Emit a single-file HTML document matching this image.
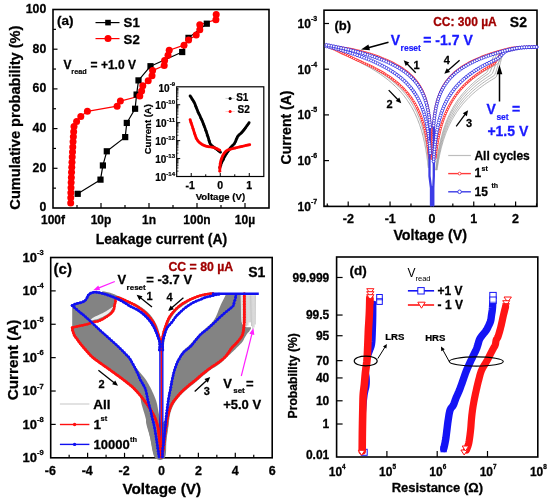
<!DOCTYPE html>
<html><head><meta charset="utf-8"><style>html,body{margin:0;padding:0;background:#fff;width:550px;height:501px;overflow:hidden}svg{display:block}</style></head>
<body><svg width="550" height="501" viewBox="0 0 550 501" style="font-family:'Liberation Sans',Arial,sans-serif"><line x1="53.00" y1="188.15" x2="56.00" y2="188.15" stroke="#000" stroke-width="1.2" />
<line x1="53.00" y1="168.30" x2="57.50" y2="168.30" stroke="#000" stroke-width="1.2" />
<line x1="53.00" y1="148.45" x2="56.00" y2="148.45" stroke="#000" stroke-width="1.2" />
<line x1="53.00" y1="128.60" x2="57.50" y2="128.60" stroke="#000" stroke-width="1.2" />
<line x1="53.00" y1="108.75" x2="56.00" y2="108.75" stroke="#000" stroke-width="1.2" />
<line x1="53.00" y1="88.90" x2="57.50" y2="88.90" stroke="#000" stroke-width="1.2" />
<line x1="53.00" y1="69.05" x2="56.00" y2="69.05" stroke="#000" stroke-width="1.2" />
<line x1="53.00" y1="49.20" x2="57.50" y2="49.20" stroke="#000" stroke-width="1.2" />
<line x1="53.00" y1="29.35" x2="56.00" y2="29.35" stroke="#000" stroke-width="1.2" />
<line x1="77.00" y1="208.00" x2="77.00" y2="205.00" stroke="#000" stroke-width="1.2" />
<line x1="101.00" y1="208.00" x2="101.00" y2="203.00" stroke="#000" stroke-width="1.2" />
<line x1="125.00" y1="208.00" x2="125.00" y2="205.00" stroke="#000" stroke-width="1.2" />
<line x1="149.00" y1="208.00" x2="149.00" y2="203.00" stroke="#000" stroke-width="1.2" />
<line x1="173.00" y1="208.00" x2="173.00" y2="205.00" stroke="#000" stroke-width="1.2" />
<line x1="197.00" y1="208.00" x2="197.00" y2="203.00" stroke="#000" stroke-width="1.2" />
<line x1="221.00" y1="208.00" x2="221.00" y2="205.00" stroke="#000" stroke-width="1.2" />
<line x1="245.00" y1="208.00" x2="245.00" y2="203.00" stroke="#000" stroke-width="1.2" />
<text x="46.30" y="211.40" font-size="12.3" text-anchor="end" font-weight="bold" fill="#000" stroke="#000" stroke-width="0.28" >0</text>
<text x="46.30" y="171.70" font-size="12.3" text-anchor="end" font-weight="bold" fill="#000" stroke="#000" stroke-width="0.28" >20</text>
<text x="46.30" y="132.00" font-size="12.3" text-anchor="end" font-weight="bold" fill="#000" stroke="#000" stroke-width="0.28" >40</text>
<text x="46.30" y="92.30" font-size="12.3" text-anchor="end" font-weight="bold" fill="#000" stroke="#000" stroke-width="0.28" >60</text>
<text x="46.30" y="52.60" font-size="12.3" text-anchor="end" font-weight="bold" fill="#000" stroke="#000" stroke-width="0.28" >80</text>
<text x="46.30" y="12.90" font-size="12.3" text-anchor="end" font-weight="bold" fill="#000" stroke="#000" stroke-width="0.28" >100</text>
<text x="53.00" y="223.80" font-size="12" text-anchor="middle" font-weight="bold" fill="#000" stroke="#000" stroke-width="0.28" >100f</text>
<text x="101.00" y="223.80" font-size="12" text-anchor="middle" font-weight="bold" fill="#000" stroke="#000" stroke-width="0.28" >10p</text>
<text x="149.00" y="223.80" font-size="12" text-anchor="middle" font-weight="bold" fill="#000" stroke="#000" stroke-width="0.28" >1n</text>
<text x="197.00" y="223.80" font-size="12" text-anchor="middle" font-weight="bold" fill="#000" stroke="#000" stroke-width="0.28" >100n</text>
<text x="245.00" y="223.80" font-size="12" text-anchor="middle" font-weight="bold" fill="#000" stroke="#000" stroke-width="0.28" >10µ</text>
<text x="161.50" y="243.50" font-size="14" text-anchor="middle" font-weight="bold" fill="#000" stroke="#000" stroke-width="0.28" >Leakage current (A)</text>
<text x="0.00" y="0.00" font-size="14.6" text-anchor="middle" font-weight="bold" fill="#000" stroke="#000" stroke-width="0.28" transform="translate(19.9,117.6) rotate(-90)">Cumulative probability (%)</text>
<text x="57.00" y="24.90" font-size="13.5" text-anchor="start" font-weight="bold" fill="#000" stroke="#000" stroke-width="0.28" >(a)</text>
<rect x="53.00" y="9.50" width="216.00" height="198.50" fill="none" stroke="#000" stroke-width="1.6"/>
<line x1="327.27" y1="206.40" x2="327.27" y2="203.40" stroke="#000" stroke-width="1.2" />
<line x1="348.20" y1="206.40" x2="348.20" y2="201.40" stroke="#000" stroke-width="1.2" />
<line x1="369.12" y1="206.40" x2="369.12" y2="203.40" stroke="#000" stroke-width="1.2" />
<line x1="390.05" y1="206.40" x2="390.05" y2="201.40" stroke="#000" stroke-width="1.2" />
<line x1="410.97" y1="206.40" x2="410.97" y2="203.40" stroke="#000" stroke-width="1.2" />
<line x1="431.90" y1="206.40" x2="431.90" y2="201.40" stroke="#000" stroke-width="1.2" />
<line x1="452.82" y1="206.40" x2="452.82" y2="203.40" stroke="#000" stroke-width="1.2" />
<line x1="473.75" y1="206.40" x2="473.75" y2="201.40" stroke="#000" stroke-width="1.2" />
<line x1="494.67" y1="206.40" x2="494.67" y2="203.40" stroke="#000" stroke-width="1.2" />
<line x1="515.60" y1="206.40" x2="515.60" y2="201.40" stroke="#000" stroke-width="1.2" />
<line x1="536.52" y1="206.40" x2="536.52" y2="203.40" stroke="#000" stroke-width="1.2" />
<line x1="324.00" y1="23.50" x2="329.00" y2="23.50" stroke="#000" stroke-width="1.2" />
<text x="317.20" y="27.80" font-size="12" text-anchor="end" font-weight="bold" stroke="#000" stroke-width="0.28">10<tspan font-size="7" dy="-6.8">-3</tspan></text>
<line x1="324.00" y1="69.20" x2="329.00" y2="69.20" stroke="#000" stroke-width="1.2" />
<text x="317.20" y="73.50" font-size="12" text-anchor="end" font-weight="bold" stroke="#000" stroke-width="0.28">10<tspan font-size="7" dy="-6.8">-4</tspan></text>
<line x1="324.00" y1="114.90" x2="329.00" y2="114.90" stroke="#000" stroke-width="1.2" />
<text x="317.20" y="119.20" font-size="12" text-anchor="end" font-weight="bold" stroke="#000" stroke-width="0.28">10<tspan font-size="7" dy="-6.8">-5</tspan></text>
<line x1="324.00" y1="160.60" x2="329.00" y2="160.60" stroke="#000" stroke-width="1.2" />
<text x="317.20" y="164.90" font-size="12" text-anchor="end" font-weight="bold" stroke="#000" stroke-width="0.28">10<tspan font-size="7" dy="-6.8">-6</tspan></text>
<line x1="324.00" y1="206.30" x2="329.00" y2="206.30" stroke="#000" stroke-width="1.2" />
<text x="317.20" y="210.60" font-size="12" text-anchor="end" font-weight="bold" stroke="#000" stroke-width="0.28">10<tspan font-size="7" dy="-6.8">-7</tspan></text>
<text x="348.40" y="222.70" font-size="12.5" text-anchor="middle" font-weight="bold" fill="#000" stroke="#000" stroke-width="0.28" >-2</text>
<text x="390.25" y="222.70" font-size="12.5" text-anchor="middle" font-weight="bold" fill="#000" stroke="#000" stroke-width="0.28" >-1</text>
<text x="431.90" y="222.70" font-size="12.5" text-anchor="middle" font-weight="bold" fill="#000" stroke="#000" stroke-width="0.28" >0</text>
<text x="473.75" y="222.70" font-size="12.5" text-anchor="middle" font-weight="bold" fill="#000" stroke="#000" stroke-width="0.28" >1</text>
<text x="515.60" y="222.70" font-size="12.5" text-anchor="middle" font-weight="bold" fill="#000" stroke="#000" stroke-width="0.28" >2</text>
<text x="430.20" y="239.80" font-size="14.3" text-anchor="middle" font-weight="bold" fill="#000" stroke="#000" stroke-width="0.28" >Voltage (V)</text>
<text x="0.00" y="0.00" font-size="14" text-anchor="middle" font-weight="bold" fill="#000" stroke="#000" stroke-width="0.28" transform="translate(291.4,127.5) rotate(-90)">Current (A)</text>
<text x="334.50" y="29.50" font-size="13" text-anchor="start" font-weight="bold" fill="#000" stroke="#000" stroke-width="0.28" >(b)</text>
<text x="509.80" y="27.10" font-size="14" text-anchor="start" font-weight="bold" fill="#000" stroke="#000" stroke-width="0.28" >S2</text>
<rect x="324.00" y="10.20" width="213.00" height="196.20" fill="none" stroke="#000" stroke-width="1.6"/>
<line x1="69.15" y1="457.80" x2="69.15" y2="454.80" stroke="#000" stroke-width="1.2" />
<line x1="87.61" y1="457.80" x2="87.61" y2="452.80" stroke="#000" stroke-width="1.2" />
<line x1="106.07" y1="457.80" x2="106.07" y2="454.80" stroke="#000" stroke-width="1.2" />
<line x1="124.53" y1="457.80" x2="124.53" y2="452.80" stroke="#000" stroke-width="1.2" />
<line x1="142.99" y1="457.80" x2="142.99" y2="454.80" stroke="#000" stroke-width="1.2" />
<line x1="161.45" y1="457.80" x2="161.45" y2="452.80" stroke="#000" stroke-width="1.2" />
<line x1="179.91" y1="457.80" x2="179.91" y2="454.80" stroke="#000" stroke-width="1.2" />
<line x1="198.37" y1="457.80" x2="198.37" y2="452.80" stroke="#000" stroke-width="1.2" />
<line x1="216.83" y1="457.80" x2="216.83" y2="454.80" stroke="#000" stroke-width="1.2" />
<line x1="235.29" y1="457.80" x2="235.29" y2="452.80" stroke="#000" stroke-width="1.2" />
<line x1="253.75" y1="457.80" x2="253.75" y2="454.80" stroke="#000" stroke-width="1.2" />
<text x="43.60" y="261.80" font-size="13" text-anchor="end" font-weight="bold" stroke="#000" stroke-width="0.28">10<tspan font-size="7.5" dy="-6.8">-3</tspan></text>
<line x1="50.70" y1="290.88" x2="55.70" y2="290.88" stroke="#000" stroke-width="1.2" />
<text x="43.60" y="295.18" font-size="13" text-anchor="end" font-weight="bold" stroke="#000" stroke-width="0.28">10<tspan font-size="7.5" dy="-6.8">-4</tspan></text>
<line x1="50.70" y1="324.26" x2="55.70" y2="324.26" stroke="#000" stroke-width="1.2" />
<text x="43.60" y="328.56" font-size="13" text-anchor="end" font-weight="bold" stroke="#000" stroke-width="0.28">10<tspan font-size="7.5" dy="-6.8">-5</tspan></text>
<line x1="50.70" y1="357.64" x2="55.70" y2="357.64" stroke="#000" stroke-width="1.2" />
<text x="43.60" y="361.94" font-size="13" text-anchor="end" font-weight="bold" stroke="#000" stroke-width="0.28">10<tspan font-size="7.5" dy="-6.8">-6</tspan></text>
<line x1="50.70" y1="391.02" x2="55.70" y2="391.02" stroke="#000" stroke-width="1.2" />
<text x="43.60" y="395.32" font-size="13" text-anchor="end" font-weight="bold" stroke="#000" stroke-width="0.28">10<tspan font-size="7.5" dy="-6.8">-7</tspan></text>
<line x1="50.70" y1="424.40" x2="55.70" y2="424.40" stroke="#000" stroke-width="1.2" />
<text x="43.60" y="428.70" font-size="13" text-anchor="end" font-weight="bold" stroke="#000" stroke-width="0.28">10<tspan font-size="7.5" dy="-6.8">-8</tspan></text>
<text x="43.60" y="462.08" font-size="13" text-anchor="end" font-weight="bold" stroke="#000" stroke-width="0.28">10<tspan font-size="7.5" dy="-6.8">-9</tspan></text>
<text x="50.29" y="474.60" font-size="12.5" text-anchor="middle" font-weight="bold" fill="#000" stroke="#000" stroke-width="0.28" >-6</text>
<text x="87.21" y="474.60" font-size="12.5" text-anchor="middle" font-weight="bold" fill="#000" stroke="#000" stroke-width="0.28" >-4</text>
<text x="124.13" y="474.60" font-size="12.5" text-anchor="middle" font-weight="bold" fill="#000" stroke="#000" stroke-width="0.28" >-2</text>
<text x="161.45" y="474.60" font-size="12.5" text-anchor="middle" font-weight="bold" fill="#000" stroke="#000" stroke-width="0.28" >0</text>
<text x="198.37" y="474.60" font-size="12.5" text-anchor="middle" font-weight="bold" fill="#000" stroke="#000" stroke-width="0.28" >2</text>
<text x="235.29" y="474.60" font-size="12.5" text-anchor="middle" font-weight="bold" fill="#000" stroke="#000" stroke-width="0.28" >4</text>
<text x="272.21" y="474.60" font-size="12.5" text-anchor="middle" font-weight="bold" fill="#000" stroke="#000" stroke-width="0.28" >6</text>
<text x="161.80" y="494.00" font-size="15.3" text-anchor="middle" font-weight="bold" fill="#000" stroke="#000" stroke-width="0.28" >Voltage (V)</text>
<text x="0.00" y="0.00" font-size="15.3" text-anchor="middle" font-weight="bold" fill="#000" stroke="#000" stroke-width="0.28" transform="translate(17.9,360) rotate(-90)">Current (A)</text>
<text x="53.60" y="274.30" font-size="15" text-anchor="start" font-weight="bold" fill="#000" stroke="#000" stroke-width="0.28" >(c)</text>
<text x="248.20" y="277.40" font-size="14" text-anchor="start" font-weight="bold" fill="#000" stroke="#000" stroke-width="0.28" >S1</text>
<rect x="50.70" y="257.50" width="221.50" height="200.30" fill="none" stroke="#000" stroke-width="1.6"/>
<line x1="336.60" y1="277.49" x2="342.60" y2="277.49" stroke="#000" stroke-width="1.2" />
<text x="329.30" y="281.69" font-size="12" text-anchor="end" font-weight="bold" fill="#000" stroke="#000" stroke-width="0.28" >99.999</text>
<line x1="336.60" y1="315.04" x2="342.60" y2="315.04" stroke="#000" stroke-width="1.2" />
<text x="329.30" y="319.24" font-size="12" text-anchor="end" font-weight="bold" fill="#000" stroke="#000" stroke-width="0.28" >99.5</text>
<line x1="336.60" y1="335.73" x2="342.60" y2="335.73" stroke="#000" stroke-width="1.2" />
<text x="329.30" y="339.93" font-size="12" text-anchor="end" font-weight="bold" fill="#000" stroke="#000" stroke-width="0.28" >95</text>
<line x1="336.60" y1="360.64" x2="342.60" y2="360.64" stroke="#000" stroke-width="1.2" />
<text x="329.30" y="364.84" font-size="12" text-anchor="end" font-weight="bold" fill="#000" stroke="#000" stroke-width="0.28" >70</text>
<line x1="336.60" y1="377.93" x2="342.60" y2="377.93" stroke="#000" stroke-width="1.2" />
<text x="329.30" y="382.13" font-size="12" text-anchor="end" font-weight="bold" fill="#000" stroke="#000" stroke-width="0.28" >40</text>
<line x1="336.60" y1="400.79" x2="342.60" y2="400.79" stroke="#000" stroke-width="1.2" />
<text x="329.30" y="404.99" font-size="12" text-anchor="end" font-weight="bold" fill="#000" stroke="#000" stroke-width="0.28" >10</text>
<line x1="336.60" y1="424.01" x2="342.60" y2="424.01" stroke="#000" stroke-width="1.2" />
<text x="329.30" y="428.21" font-size="12" text-anchor="end" font-weight="bold" fill="#000" stroke="#000" stroke-width="0.28" >1</text>
<text x="329.30" y="459.17" font-size="12" text-anchor="end" font-weight="bold" fill="#000" stroke="#000" stroke-width="0.28" >0.01</text>
<text x="337.20" y="475.6" font-size="12" text-anchor="middle" font-weight="bold" stroke="#000" stroke-width="0.28">10<tspan font-size="6.4" dy="-6.6">4</tspan></text>
<line x1="386.90" y1="457.00" x2="386.90" y2="451.00" stroke="#000" stroke-width="1.2" />
<text x="387.50" y="475.6" font-size="12" text-anchor="middle" font-weight="bold" stroke="#000" stroke-width="0.28">10<tspan font-size="6.4" dy="-6.6">5</tspan></text>
<line x1="437.20" y1="457.00" x2="437.20" y2="451.00" stroke="#000" stroke-width="1.2" />
<text x="437.80" y="475.6" font-size="12" text-anchor="middle" font-weight="bold" stroke="#000" stroke-width="0.28">10<tspan font-size="6.4" dy="-6.6">6</tspan></text>
<line x1="487.50" y1="457.00" x2="487.50" y2="451.00" stroke="#000" stroke-width="1.2" />
<text x="488.10" y="475.6" font-size="12" text-anchor="middle" font-weight="bold" stroke="#000" stroke-width="0.28">10<tspan font-size="6.4" dy="-6.6">7</tspan></text>
<text x="538.40" y="475.6" font-size="12" text-anchor="middle" font-weight="bold" stroke="#000" stroke-width="0.28">10<tspan font-size="6.4" dy="-6.6">8</tspan></text>
<text x="437.30" y="491.80" font-size="13" text-anchor="middle" font-weight="bold" fill="#000" stroke="#000" stroke-width="0.28" >Resistance (Ω)</text>
<text x="0.00" y="0.00" font-size="12.2" text-anchor="middle" font-weight="bold" fill="#000" stroke="#000" stroke-width="0.28" transform="translate(296.9,375.8) rotate(-90)">Probability (%)</text>
<text x="349.40" y="274.90" font-size="13.5" text-anchor="start" font-weight="bold" fill="#000" stroke="#000" stroke-width="0.28" >(d)</text>
<rect x="336.60" y="257.00" width="201.20" height="200.00" fill="none" stroke="#000" stroke-width="1.6"/>
<polyline points="70.70,202.91 70.76,197.82 70.86,192.73 71.00,187.64 71.15,182.55 71.34,177.46 71.53,172.37 71.75,167.28 71.99,162.19 72.23,157.10 72.50,152.01 72.77,146.92 73.06,141.83 73.36,136.74 73.68,131.65 74.00,126.56 76.60,121.47 80.80,116.38 87.40,111.29 117.10,106.21 120.40,101.12 139.80,96.03 141.60,90.94 142.80,85.85 148.20,80.76 152.00,75.67 152.60,70.58 164.20,65.49 164.60,60.40 168.00,55.31 169.20,50.22 184.00,45.13 188.60,40.04 196.20,34.95 199.80,29.86 199.80,24.77 215.90,19.68 216.20,14.59" fill="none" stroke="#ff0000" stroke-width="1.2" stroke-linejoin="round" stroke-linecap="round" />
<polyline points="77.70,193.82 100.50,179.64 102.90,165.46 106.80,151.29 125.20,137.11 126.80,122.93 135.10,108.75 136.60,94.57 138.50,80.39 150.50,66.21 182.20,52.04 188.50,37.86 206.80,23.68" fill="none" stroke="#000" stroke-width="1.2" stroke-linejoin="round" stroke-linecap="round" />
<rect x="74.60" y="190.72" width="6.2" height="6.2" fill="#000"/>
<rect x="97.40" y="176.54" width="6.2" height="6.2" fill="#000"/>
<rect x="99.80" y="162.36" width="6.2" height="6.2" fill="#000"/>
<rect x="103.70" y="148.19" width="6.2" height="6.2" fill="#000"/>
<rect x="122.10" y="134.01" width="6.2" height="6.2" fill="#000"/>
<rect x="123.70" y="119.83" width="6.2" height="6.2" fill="#000"/>
<rect x="132.00" y="105.65" width="6.2" height="6.2" fill="#000"/>
<rect x="133.50" y="91.47" width="6.2" height="6.2" fill="#000"/>
<rect x="135.40" y="77.29" width="6.2" height="6.2" fill="#000"/>
<rect x="147.40" y="63.11" width="6.2" height="6.2" fill="#000"/>
<rect x="179.10" y="48.94" width="6.2" height="6.2" fill="#000"/>
<rect x="185.40" y="34.76" width="6.2" height="6.2" fill="#000"/>
<rect x="203.70" y="20.58" width="6.2" height="6.2" fill="#000"/>
<circle cx="70.70" cy="202.91" r="3.5" fill="#ff0000"/>
<circle cx="70.76" cy="197.82" r="3.5" fill="#ff0000"/>
<circle cx="70.86" cy="192.73" r="3.5" fill="#ff0000"/>
<circle cx="71.00" cy="187.64" r="3.5" fill="#ff0000"/>
<circle cx="71.15" cy="182.55" r="3.5" fill="#ff0000"/>
<circle cx="71.34" cy="177.46" r="3.5" fill="#ff0000"/>
<circle cx="71.53" cy="172.37" r="3.5" fill="#ff0000"/>
<circle cx="71.75" cy="167.28" r="3.5" fill="#ff0000"/>
<circle cx="71.99" cy="162.19" r="3.5" fill="#ff0000"/>
<circle cx="72.23" cy="157.10" r="3.5" fill="#ff0000"/>
<circle cx="72.50" cy="152.01" r="3.5" fill="#ff0000"/>
<circle cx="72.77" cy="146.92" r="3.5" fill="#ff0000"/>
<circle cx="73.06" cy="141.83" r="3.5" fill="#ff0000"/>
<circle cx="73.36" cy="136.74" r="3.5" fill="#ff0000"/>
<circle cx="73.68" cy="131.65" r="3.5" fill="#ff0000"/>
<circle cx="74.00" cy="126.56" r="3.5" fill="#ff0000"/>
<circle cx="76.60" cy="121.47" r="3.5" fill="#ff0000"/>
<circle cx="80.80" cy="116.38" r="3.5" fill="#ff0000"/>
<circle cx="87.40" cy="111.29" r="3.5" fill="#ff0000"/>
<circle cx="117.10" cy="106.21" r="3.5" fill="#ff0000"/>
<circle cx="120.40" cy="101.12" r="3.5" fill="#ff0000"/>
<circle cx="139.80" cy="96.03" r="3.5" fill="#ff0000"/>
<circle cx="141.60" cy="90.94" r="3.5" fill="#ff0000"/>
<circle cx="142.80" cy="85.85" r="3.5" fill="#ff0000"/>
<circle cx="148.20" cy="80.76" r="3.5" fill="#ff0000"/>
<circle cx="152.00" cy="75.67" r="3.5" fill="#ff0000"/>
<circle cx="152.60" cy="70.58" r="3.5" fill="#ff0000"/>
<circle cx="164.20" cy="65.49" r="3.5" fill="#ff0000"/>
<circle cx="164.60" cy="60.40" r="3.5" fill="#ff0000"/>
<circle cx="168.00" cy="55.31" r="3.5" fill="#ff0000"/>
<circle cx="169.20" cy="50.22" r="3.5" fill="#ff0000"/>
<circle cx="184.00" cy="45.13" r="3.5" fill="#ff0000"/>
<circle cx="188.60" cy="40.04" r="3.5" fill="#ff0000"/>
<circle cx="196.20" cy="34.95" r="3.5" fill="#ff0000"/>
<circle cx="199.80" cy="29.86" r="3.5" fill="#ff0000"/>
<circle cx="199.80" cy="24.77" r="3.5" fill="#ff0000"/>
<circle cx="215.90" cy="19.68" r="3.5" fill="#ff0000"/>
<circle cx="216.20" cy="14.59" r="3.5" fill="#ff0000"/>
<line x1="95.50" y1="22.60" x2="119.50" y2="22.60" stroke="#000" stroke-width="1.2" />
<rect x="105.2" y="19.8" width="5.6" height="5.6" fill="#000"/>
<text x="123.60" y="27.40" font-size="13.2" text-anchor="start" font-weight="bold" fill="#000" stroke="#000" stroke-width="0.28" >S1</text>
<line x1="95.50" y1="38.60" x2="119.50" y2="38.60" stroke="#ff0000" stroke-width="1.2" />
<circle cx="108" cy="38.6" r="3.5" fill="#ff0000"/>
<text x="123.60" y="43.60" font-size="13.2" text-anchor="start" font-weight="bold" fill="#000" stroke="#000" stroke-width="0.28" >S2</text>
<text x="63.60" y="69.00" font-size="12" text-anchor="start" font-weight="bold" fill="#000" stroke="#000" stroke-width="0.28" >V</text>
<text x="71.30" y="74.40" font-size="7.3" text-anchor="start" font-weight="bold" fill="#000" stroke="#000" stroke-width="0.17" >read</text>
<text x="90.60" y="69.00" font-size="12" text-anchor="start" font-weight="bold" fill="#000" stroke="#000" stroke-width="0.28" >= +1.0 V</text>
<rect x="176.7" y="86.8" width="87.10" height="89.70" fill="#fff" stroke="none"/>
<line x1="191.22" y1="176.50" x2="191.22" y2="173.00" stroke="#000" stroke-width="1.0" />
<line x1="205.74" y1="176.50" x2="205.74" y2="174.30" stroke="#000" stroke-width="1.0" />
<line x1="220.25" y1="176.50" x2="220.25" y2="173.00" stroke="#000" stroke-width="1.0" />
<line x1="234.76" y1="176.50" x2="234.76" y2="174.30" stroke="#000" stroke-width="1.0" />
<line x1="249.28" y1="176.50" x2="249.28" y2="173.00" stroke="#000" stroke-width="1.0" />
<line x1="176.70" y1="99.34" x2="178.50" y2="99.34" stroke="#000" stroke-width="0.8" />
<line x1="176.70" y1="96.18" x2="178.50" y2="96.18" stroke="#000" stroke-width="0.8" />
<line x1="176.70" y1="93.94" x2="178.50" y2="93.94" stroke="#000" stroke-width="0.8" />
<line x1="176.70" y1="92.20" x2="178.50" y2="92.20" stroke="#000" stroke-width="0.8" />
<line x1="176.70" y1="90.78" x2="178.50" y2="90.78" stroke="#000" stroke-width="0.8" />
<line x1="176.70" y1="89.58" x2="178.50" y2="89.58" stroke="#000" stroke-width="0.8" />
<line x1="176.70" y1="88.54" x2="178.50" y2="88.54" stroke="#000" stroke-width="0.8" />
<text x="175.00" y="91.50" font-size="10" text-anchor="end" font-weight="bold" stroke="#000" stroke-width="0.22">10<tspan font-size="6" dy="-5.4">-9</tspan></text>
<line x1="176.70" y1="104.74" x2="180.20" y2="104.74" stroke="#000" stroke-width="1.0" />
<line x1="176.70" y1="117.28" x2="178.50" y2="117.28" stroke="#000" stroke-width="0.8" />
<line x1="176.70" y1="114.12" x2="178.50" y2="114.12" stroke="#000" stroke-width="0.8" />
<line x1="176.70" y1="111.88" x2="178.50" y2="111.88" stroke="#000" stroke-width="0.8" />
<line x1="176.70" y1="110.14" x2="178.50" y2="110.14" stroke="#000" stroke-width="0.8" />
<line x1="176.70" y1="108.72" x2="178.50" y2="108.72" stroke="#000" stroke-width="0.8" />
<line x1="176.70" y1="107.52" x2="178.50" y2="107.52" stroke="#000" stroke-width="0.8" />
<line x1="176.70" y1="106.48" x2="178.50" y2="106.48" stroke="#000" stroke-width="0.8" />
<line x1="176.70" y1="105.56" x2="178.50" y2="105.56" stroke="#000" stroke-width="0.8" />
<text x="175.00" y="109.44" font-size="10" text-anchor="end" font-weight="bold" stroke="#000" stroke-width="0.22">10<tspan font-size="6" dy="-5.4">-10</tspan></text>
<line x1="176.70" y1="122.68" x2="180.20" y2="122.68" stroke="#000" stroke-width="1.0" />
<line x1="176.70" y1="135.22" x2="178.50" y2="135.22" stroke="#000" stroke-width="0.8" />
<line x1="176.70" y1="132.06" x2="178.50" y2="132.06" stroke="#000" stroke-width="0.8" />
<line x1="176.70" y1="129.82" x2="178.50" y2="129.82" stroke="#000" stroke-width="0.8" />
<line x1="176.70" y1="128.08" x2="178.50" y2="128.08" stroke="#000" stroke-width="0.8" />
<line x1="176.70" y1="126.66" x2="178.50" y2="126.66" stroke="#000" stroke-width="0.8" />
<line x1="176.70" y1="125.46" x2="178.50" y2="125.46" stroke="#000" stroke-width="0.8" />
<line x1="176.70" y1="124.42" x2="178.50" y2="124.42" stroke="#000" stroke-width="0.8" />
<line x1="176.70" y1="123.50" x2="178.50" y2="123.50" stroke="#000" stroke-width="0.8" />
<text x="175.00" y="127.38" font-size="10" text-anchor="end" font-weight="bold" stroke="#000" stroke-width="0.22">10<tspan font-size="6" dy="-5.4">-11</tspan></text>
<line x1="176.70" y1="140.62" x2="180.20" y2="140.62" stroke="#000" stroke-width="1.0" />
<line x1="176.70" y1="153.16" x2="178.50" y2="153.16" stroke="#000" stroke-width="0.8" />
<line x1="176.70" y1="150.00" x2="178.50" y2="150.00" stroke="#000" stroke-width="0.8" />
<line x1="176.70" y1="147.76" x2="178.50" y2="147.76" stroke="#000" stroke-width="0.8" />
<line x1="176.70" y1="146.02" x2="178.50" y2="146.02" stroke="#000" stroke-width="0.8" />
<line x1="176.70" y1="144.60" x2="178.50" y2="144.60" stroke="#000" stroke-width="0.8" />
<line x1="176.70" y1="143.40" x2="178.50" y2="143.40" stroke="#000" stroke-width="0.8" />
<line x1="176.70" y1="142.36" x2="178.50" y2="142.36" stroke="#000" stroke-width="0.8" />
<line x1="176.70" y1="141.44" x2="178.50" y2="141.44" stroke="#000" stroke-width="0.8" />
<text x="175.00" y="145.32" font-size="10" text-anchor="end" font-weight="bold" stroke="#000" stroke-width="0.22">10<tspan font-size="6" dy="-5.4">-12</tspan></text>
<line x1="176.70" y1="158.56" x2="180.20" y2="158.56" stroke="#000" stroke-width="1.0" />
<line x1="176.70" y1="171.10" x2="178.50" y2="171.10" stroke="#000" stroke-width="0.8" />
<line x1="176.70" y1="167.94" x2="178.50" y2="167.94" stroke="#000" stroke-width="0.8" />
<line x1="176.70" y1="165.70" x2="178.50" y2="165.70" stroke="#000" stroke-width="0.8" />
<line x1="176.70" y1="163.96" x2="178.50" y2="163.96" stroke="#000" stroke-width="0.8" />
<line x1="176.70" y1="162.54" x2="178.50" y2="162.54" stroke="#000" stroke-width="0.8" />
<line x1="176.70" y1="161.34" x2="178.50" y2="161.34" stroke="#000" stroke-width="0.8" />
<line x1="176.70" y1="160.30" x2="178.50" y2="160.30" stroke="#000" stroke-width="0.8" />
<line x1="176.70" y1="159.38" x2="178.50" y2="159.38" stroke="#000" stroke-width="0.8" />
<text x="175.00" y="163.26" font-size="10" text-anchor="end" font-weight="bold" stroke="#000" stroke-width="0.22">10<tspan font-size="6" dy="-5.4">-13</tspan></text>
<text x="175.00" y="181.20" font-size="10" text-anchor="end" font-weight="bold" stroke="#000" stroke-width="0.22">10<tspan font-size="6" dy="-5.4">-14</tspan></text>
<text x="190.22" y="188.60" font-size="10.5" text-anchor="middle" font-weight="bold" fill="#000" stroke="#000" stroke-width="0.25" >-1</text>
<text x="220.25" y="188.60" font-size="10.5" text-anchor="middle" font-weight="bold" fill="#000" stroke="#000" stroke-width="0.25" >0</text>
<text x="249.28" y="188.60" font-size="10.5" text-anchor="middle" font-weight="bold" fill="#000" stroke="#000" stroke-width="0.25" >1</text>
<text x="220.40" y="199.70" font-size="9.6" text-anchor="middle" font-weight="bold" fill="#000" stroke="#000" stroke-width="0.22" >Voltage (V)</text>
<text x="0.00" y="0.00" font-size="9.5" text-anchor="middle" font-weight="bold" fill="#000" stroke="#000" stroke-width="0.22" transform="translate(150.9,129.2) rotate(-90)">Current (A)</text>
<rect x="176.7" y="86.8" width="87.10" height="89.70" fill="none" stroke="#000" stroke-width="1.2"/>
<circle cx="190.10" cy="95.90" r="1.45" fill="#000"/>
<circle cx="190.80" cy="96.97" r="1.45" fill="#000"/>
<circle cx="191.52" cy="98.06" r="1.45" fill="#000"/>
<circle cx="192.24" cy="99.16" r="1.45" fill="#000"/>
<circle cx="192.93" cy="100.27" r="1.45" fill="#000"/>
<circle cx="193.60" cy="101.39" r="1.45" fill="#000"/>
<circle cx="194.22" cy="102.54" r="1.45" fill="#000"/>
<circle cx="194.78" cy="103.73" r="1.45" fill="#000"/>
<circle cx="195.28" cy="104.94" r="1.45" fill="#000"/>
<circle cx="195.76" cy="106.16" r="1.45" fill="#000"/>
<circle cx="196.21" cy="107.38" r="1.45" fill="#000"/>
<circle cx="196.67" cy="108.61" r="1.45" fill="#000"/>
<circle cx="197.14" cy="109.83" r="1.45" fill="#000"/>
<circle cx="197.63" cy="111.04" r="1.45" fill="#000"/>
<circle cx="198.16" cy="112.24" r="1.45" fill="#000"/>
<circle cx="198.71" cy="113.43" r="1.45" fill="#000"/>
<circle cx="199.27" cy="114.62" r="1.45" fill="#000"/>
<circle cx="199.83" cy="115.80" r="1.45" fill="#000"/>
<circle cx="200.39" cy="116.98" r="1.45" fill="#000"/>
<circle cx="200.95" cy="118.16" r="1.45" fill="#000"/>
<circle cx="201.50" cy="119.35" r="1.45" fill="#000"/>
<circle cx="202.02" cy="120.55" r="1.45" fill="#000"/>
<circle cx="202.53" cy="121.76" r="1.45" fill="#000"/>
<circle cx="203.03" cy="122.97" r="1.45" fill="#000"/>
<circle cx="203.51" cy="124.19" r="1.45" fill="#000"/>
<circle cx="203.98" cy="125.41" r="1.45" fill="#000"/>
<circle cx="204.44" cy="126.64" r="1.45" fill="#000"/>
<circle cx="204.89" cy="127.86" r="1.45" fill="#000"/>
<circle cx="205.33" cy="129.10" r="1.45" fill="#000"/>
<circle cx="205.77" cy="130.33" r="1.45" fill="#000"/>
<circle cx="206.19" cy="131.57" r="1.45" fill="#000"/>
<circle cx="206.60" cy="132.81" r="1.45" fill="#000"/>
<circle cx="207.01" cy="134.06" r="1.45" fill="#000"/>
<circle cx="207.42" cy="135.30" r="1.45" fill="#000"/>
<circle cx="207.83" cy="136.54" r="1.45" fill="#000"/>
<circle cx="208.23" cy="137.79" r="1.45" fill="#000"/>
<circle cx="208.64" cy="139.03" r="1.45" fill="#000"/>
<circle cx="209.03" cy="140.28" r="1.45" fill="#000"/>
<circle cx="209.33" cy="141.56" r="1.45" fill="#000"/>
<circle cx="209.66" cy="142.82" r="1.45" fill="#000"/>
<circle cx="210.25" cy="143.99" r="1.45" fill="#000"/>
<circle cx="211.09" cy="144.99" r="1.45" fill="#000"/>
<circle cx="212.06" cy="145.87" r="1.45" fill="#000"/>
<circle cx="213.08" cy="146.68" r="1.45" fill="#000"/>
<circle cx="214.13" cy="147.46" r="1.45" fill="#000"/>
<circle cx="215.18" cy="148.25" r="1.45" fill="#000"/>
<circle cx="216.21" cy="149.06" r="1.45" fill="#000"/>
<circle cx="217.25" cy="149.85" r="1.45" fill="#000"/>
<circle cx="218.30" cy="150.64" r="1.45" fill="#000"/>
<circle cx="219.35" cy="151.42" r="1.45" fill="#000"/>
<circle cx="220.40" cy="152.20" r="1.45" fill="#000"/>
<circle cx="219.80" cy="167.70" r="1.45" fill="#000"/>
<circle cx="220.23" cy="166.47" r="1.45" fill="#000"/>
<circle cx="220.67" cy="165.22" r="1.45" fill="#000"/>
<circle cx="221.14" cy="163.98" r="1.45" fill="#000"/>
<circle cx="221.66" cy="162.76" r="1.45" fill="#000"/>
<circle cx="222.20" cy="161.58" r="1.45" fill="#000"/>
<circle cx="222.77" cy="160.37" r="1.45" fill="#000"/>
<circle cx="223.35" cy="159.18" r="1.45" fill="#000"/>
<circle cx="223.95" cy="157.99" r="1.45" fill="#000"/>
<circle cx="224.56" cy="156.84" r="1.45" fill="#000"/>
<circle cx="225.21" cy="155.69" r="1.45" fill="#000"/>
<circle cx="225.89" cy="154.55" r="1.45" fill="#000"/>
<circle cx="226.59" cy="153.42" r="1.45" fill="#000"/>
<circle cx="227.30" cy="152.33" r="1.45" fill="#000"/>
<circle cx="228.04" cy="151.23" r="1.45" fill="#000"/>
<circle cx="228.80" cy="150.14" r="1.45" fill="#000"/>
<circle cx="229.58" cy="149.07" r="1.45" fill="#000"/>
<circle cx="230.37" cy="148.03" r="1.45" fill="#000"/>
<circle cx="231.24" cy="147.03" r="1.45" fill="#000"/>
<circle cx="232.16" cy="146.07" r="1.45" fill="#000"/>
<circle cx="233.08" cy="145.12" r="1.45" fill="#000"/>
<circle cx="233.94" cy="144.14" r="1.45" fill="#000"/>
<circle cx="234.72" cy="143.07" r="1.45" fill="#000"/>
<circle cx="235.35" cy="141.90" r="1.45" fill="#000"/>
<circle cx="235.87" cy="140.68" r="1.45" fill="#000"/>
<circle cx="236.33" cy="139.46" r="1.45" fill="#000"/>
<circle cx="236.81" cy="138.22" r="1.45" fill="#000"/>
<circle cx="237.38" cy="137.03" r="1.45" fill="#000"/>
<circle cx="238.13" cy="135.93" r="1.45" fill="#000"/>
<circle cx="239.02" cy="134.99" r="1.45" fill="#000"/>
<circle cx="240.03" cy="134.12" r="1.45" fill="#000"/>
<circle cx="241.04" cy="133.26" r="1.45" fill="#000"/>
<circle cx="241.97" cy="132.32" r="1.45" fill="#000"/>
<circle cx="242.81" cy="131.32" r="1.45" fill="#000"/>
<circle cx="243.63" cy="130.28" r="1.45" fill="#000"/>
<circle cx="244.44" cy="129.23" r="1.45" fill="#000"/>
<circle cx="245.23" cy="128.16" r="1.45" fill="#000"/>
<circle cx="246.01" cy="127.12" r="1.45" fill="#000"/>
<circle cx="246.80" cy="126.05" r="1.45" fill="#000"/>
<circle cx="247.57" cy="124.97" r="1.45" fill="#000"/>
<circle cx="248.34" cy="123.89" r="1.45" fill="#000"/>
<circle cx="249.10" cy="122.80" r="1.45" fill="#000"/>
<circle cx="190.10" cy="119.70" r="1.45" fill="#ff0000"/>
<circle cx="190.50" cy="120.93" r="1.45" fill="#ff0000"/>
<circle cx="190.91" cy="122.17" r="1.45" fill="#ff0000"/>
<circle cx="191.31" cy="123.40" r="1.45" fill="#ff0000"/>
<circle cx="191.72" cy="124.65" r="1.45" fill="#ff0000"/>
<circle cx="192.13" cy="125.87" r="1.45" fill="#ff0000"/>
<circle cx="192.54" cy="127.12" r="1.45" fill="#ff0000"/>
<circle cx="192.94" cy="128.35" r="1.45" fill="#ff0000"/>
<circle cx="193.33" cy="129.60" r="1.45" fill="#ff0000"/>
<circle cx="193.71" cy="130.83" r="1.45" fill="#ff0000"/>
<circle cx="194.10" cy="132.09" r="1.45" fill="#ff0000"/>
<circle cx="194.48" cy="133.32" r="1.45" fill="#ff0000"/>
<circle cx="194.89" cy="134.57" r="1.45" fill="#ff0000"/>
<circle cx="195.32" cy="135.78" r="1.45" fill="#ff0000"/>
<circle cx="195.79" cy="137.01" r="1.45" fill="#ff0000"/>
<circle cx="196.32" cy="138.19" r="1.45" fill="#ff0000"/>
<circle cx="196.91" cy="139.36" r="1.45" fill="#ff0000"/>
<circle cx="197.57" cy="140.46" r="1.45" fill="#ff0000"/>
<circle cx="198.39" cy="141.49" r="1.45" fill="#ff0000"/>
<circle cx="199.32" cy="142.42" r="1.45" fill="#ff0000"/>
<circle cx="200.30" cy="143.26" r="1.45" fill="#ff0000"/>
<circle cx="201.36" cy="144.03" r="1.45" fill="#ff0000"/>
<circle cx="202.45" cy="144.71" r="1.45" fill="#ff0000"/>
<circle cx="203.62" cy="145.31" r="1.45" fill="#ff0000"/>
<circle cx="204.81" cy="145.82" r="1.45" fill="#ff0000"/>
<circle cx="206.05" cy="146.23" r="1.45" fill="#ff0000"/>
<circle cx="207.31" cy="146.51" r="1.45" fill="#ff0000"/>
<circle cx="208.61" cy="146.72" r="1.45" fill="#ff0000"/>
<circle cx="209.89" cy="146.90" r="1.45" fill="#ff0000"/>
<circle cx="211.19" cy="147.08" r="1.45" fill="#ff0000"/>
<circle cx="212.46" cy="147.29" r="1.45" fill="#ff0000"/>
<circle cx="213.74" cy="147.58" r="1.45" fill="#ff0000"/>
<circle cx="214.96" cy="147.99" r="1.45" fill="#ff0000"/>
<circle cx="216.18" cy="148.49" r="1.45" fill="#ff0000"/>
<circle cx="217.35" cy="149.03" r="1.45" fill="#ff0000"/>
<circle cx="218.52" cy="149.62" r="1.45" fill="#ff0000"/>
<circle cx="219.70" cy="150.20" r="1.45" fill="#ff0000"/>
<circle cx="219.80" cy="171.20" r="1.45" fill="#ff0000"/>
<circle cx="219.86" cy="169.88" r="1.45" fill="#ff0000"/>
<circle cx="219.91" cy="168.57" r="1.45" fill="#ff0000"/>
<circle cx="219.96" cy="167.25" r="1.45" fill="#ff0000"/>
<circle cx="220.04" cy="165.94" r="1.45" fill="#ff0000"/>
<circle cx="220.16" cy="164.63" r="1.45" fill="#ff0000"/>
<circle cx="220.33" cy="163.32" r="1.45" fill="#ff0000"/>
<circle cx="220.58" cy="162.03" r="1.45" fill="#ff0000"/>
<circle cx="220.90" cy="160.75" r="1.45" fill="#ff0000"/>
<circle cx="221.29" cy="159.47" r="1.45" fill="#ff0000"/>
<circle cx="221.72" cy="158.23" r="1.45" fill="#ff0000"/>
<circle cx="222.20" cy="157.00" r="1.45" fill="#ff0000"/>
<circle cx="222.75" cy="155.81" r="1.45" fill="#ff0000"/>
<circle cx="223.37" cy="154.64" r="1.45" fill="#ff0000"/>
<circle cx="224.06" cy="153.53" r="1.45" fill="#ff0000"/>
<circle cx="224.84" cy="152.47" r="1.45" fill="#ff0000"/>
<circle cx="225.73" cy="151.49" r="1.45" fill="#ff0000"/>
<circle cx="226.74" cy="150.65" r="1.45" fill="#ff0000"/>
<circle cx="227.92" cy="150.03" r="1.45" fill="#ff0000"/>
<circle cx="229.17" cy="149.63" r="1.45" fill="#ff0000"/>
<circle cx="230.45" cy="149.29" r="1.45" fill="#ff0000"/>
<circle cx="231.71" cy="148.92" r="1.45" fill="#ff0000"/>
<circle cx="232.98" cy="148.58" r="1.45" fill="#ff0000"/>
<circle cx="234.26" cy="148.26" r="1.45" fill="#ff0000"/>
<circle cx="235.54" cy="147.95" r="1.45" fill="#ff0000"/>
<circle cx="236.82" cy="147.65" r="1.45" fill="#ff0000"/>
<circle cx="238.10" cy="147.35" r="1.45" fill="#ff0000"/>
<circle cx="239.41" cy="147.03" r="1.45" fill="#ff0000"/>
<circle cx="240.69" cy="146.73" r="1.45" fill="#ff0000"/>
<circle cx="241.97" cy="146.43" r="1.45" fill="#ff0000"/>
<circle cx="243.25" cy="146.14" r="1.45" fill="#ff0000"/>
<circle cx="244.54" cy="145.85" r="1.45" fill="#ff0000"/>
<circle cx="245.82" cy="145.56" r="1.45" fill="#ff0000"/>
<circle cx="247.11" cy="145.27" r="1.45" fill="#ff0000"/>
<circle cx="248.39" cy="144.99" r="1.45" fill="#ff0000"/>
<circle cx="249.70" cy="144.70" r="1.45" fill="#ff0000"/>
<line x1="225.50" y1="98.40" x2="234.80" y2="98.40" stroke="#aaa" stroke-width="0.6" />
<circle cx="230.1" cy="98.4" r="1.5" fill="#000"/>
<text x="236.20" y="100.60" font-size="10" text-anchor="start" font-weight="bold" fill="#000" stroke="#000" stroke-width="0.23" >S1</text>
<line x1="225.50" y1="111.50" x2="234.80" y2="111.50" stroke="#faa" stroke-width="0.6" />
<circle cx="230.1" cy="111.5" r="1.5" fill="#ff0000"/>
<text x="237.60" y="113.30" font-size="10" text-anchor="start" font-weight="bold" fill="#000" stroke="#000" stroke-width="0.23" >S2</text>
<polyline points="435.78,169.74 435.92,168.51 436.05,167.29 436.19,166.06 436.34,164.83 436.49,163.61 436.65,162.38 436.81,161.15 436.97,159.93 437.15,158.70 437.32,157.47 437.51,156.24 437.70,155.02 437.90,153.79 438.10,152.56 438.31,151.34 438.53,150.11 438.75,148.88 438.99,147.66 439.23,146.43 439.48,145.20 439.73,143.98 440.00,142.75 440.28,141.52 440.56,140.30 440.85,139.07 441.16,137.84 441.47,136.62 441.80,135.39 442.13,134.16 442.48,132.93 442.84,131.71 443.21,130.48 443.60,129.25 444.00,128.03 444.41,126.80 444.83,125.57 445.27,124.35 445.73,123.12 446.20,121.89 446.68,120.67 447.18,119.44 447.70,118.21 448.24,116.99 448.79,115.76 449.37,114.53 449.96,113.31 450.58,112.08 451.21,110.85 451.87,109.62 452.55,108.40 453.25,107.17 453.97,105.94 454.72,104.72 455.50,103.49 456.30,102.26 457.13,101.04 457.99,99.81 458.87,98.58 459.79,97.36 460.74,96.13 461.72,94.90 462.73,93.68 463.78,92.45 464.86,91.22 465.98,90.00 467.14,88.77 468.33,87.54 469.57,86.31 470.85,85.09 472.18,83.86 473.54,82.63 474.96,81.41 476.42,80.18 477.93,78.95 479.50,77.73 481.12,76.50 482.79,75.27 484.52,74.05 486.30,72.82 487.14,71.90 488.41,69.43 489.67,66.16 490.94,62.59 492.21,59.19 493.47,56.39 494.74,54.54 496.01,53.88 497.27,53.49 498.54,53.11 499.80,52.74 501.07,52.37 502.34,52.02 503.60,51.66 504.87,51.32 506.14,50.98 507.40,50.65 508.67,50.33 509.93,50.01 511.20,49.71 512.47,49.42 513.73,49.13 515.00,48.86 516.27,48.61 517.53,48.38 518.80,48.16 520.06,47.97 521.33,47.80 522.60,47.65 523.86,47.52 525.13,47.42 526.40,47.34 527.66,47.27 528.93,47.22 530.19,47.18 531.46,47.14 532.73,47.12 533.99,47.10 535.26,47.09 536.52,47.07" fill="none" stroke="#a0a0a0" stroke-width="0.8" stroke-linejoin="round" stroke-linecap="round" />
<polyline points="436.03,169.74 436.17,168.52 436.32,167.30 436.47,166.08 436.62,164.86 436.78,163.65 436.94,162.43 437.11,161.21 437.29,159.99 437.47,158.77 437.66,157.55 437.85,156.33 438.06,155.11 438.26,153.89 438.48,152.68 438.70,151.46 438.93,150.24 439.17,149.02 439.41,147.80 439.67,146.58 439.93,145.36 440.20,144.14 440.48,142.92 440.77,141.71 441.07,140.49 441.38,139.27 441.70,138.05 442.03,136.83 442.37,135.61 442.72,134.39 443.09,133.17 443.47,131.95 443.86,130.74 444.26,129.52 444.68,128.30 445.11,127.08 445.56,125.86 446.02,124.64 446.49,123.42 446.99,122.20 447.49,120.98 448.02,119.77 448.56,118.55 449.13,117.33 449.71,116.11 450.31,114.89 450.93,113.67 451.57,112.45 452.24,111.23 452.92,110.01 453.63,108.80 454.37,107.58 455.13,106.36 455.91,105.14 456.72,103.92 457.56,102.70 458.42,101.48 459.32,100.26 460.25,99.04 461.20,97.83 462.19,96.61 463.21,95.39 464.27,94.17 465.36,92.95 466.49,91.73 467.66,90.51 468.87,89.29 470.11,88.07 471.40,86.86 472.74,85.64 474.12,84.42 475.54,83.20 477.01,81.98 478.54,80.76 480.11,79.54 481.74,78.32 483.42,77.10 485.16,75.89 486.96,74.67 488.82,73.45 489.65,72.52 490.85,70.07 492.06,66.79 493.26,63.14 494.46,59.57 495.66,56.49 496.86,54.27 498.07,53.25 499.27,52.90 500.47,52.55 501.67,52.20 502.87,51.87 504.08,51.53 505.28,51.21 506.48,50.89 507.68,50.58 508.88,50.28 510.08,49.98 511.29,49.69 512.49,49.41 513.69,49.14 514.89,48.89 516.09,48.64 517.30,48.42 518.50,48.21 519.70,48.02 520.90,47.85 522.10,47.70 523.30,47.58 524.51,47.47 525.71,47.38 526.91,47.31 528.11,47.25 529.31,47.20 530.52,47.17 531.72,47.14 532.92,47.12 534.12,47.10 535.32,47.08 536.52,47.07" fill="none" stroke="#a0a0a0" stroke-width="0.8" stroke-linejoin="round" stroke-linecap="round" />
<polyline points="436.35,169.74 436.50,168.54 436.66,167.33 436.81,166.13 436.98,164.92 437.15,163.72 437.32,162.51 437.50,161.31 437.69,160.11 437.88,158.90 438.08,157.70 438.29,156.49 438.50,155.29 438.72,154.08 438.95,152.88 439.18,151.68 439.43,150.47 439.68,149.27 439.94,148.06 440.21,146.86 440.48,145.66 440.77,144.45 441.06,143.25 441.37,142.04 441.69,140.84 442.01,139.63 442.35,138.43 442.70,137.23 443.06,136.02 443.43,134.82 443.81,133.61 444.21,132.41 444.62,131.20 445.05,130.00 445.48,128.80 445.94,127.59 446.40,126.39 446.89,125.18 447.39,123.98 447.90,122.77 448.44,121.57 448.99,120.37 449.56,119.16 450.15,117.96 450.76,116.75 451.38,115.55 452.03,114.34 452.71,113.14 453.40,111.94 454.12,110.73 454.86,109.53 455.62,108.32 456.41,107.12 457.23,105.92 458.08,104.71 458.95,103.51 459.85,102.30 460.78,101.10 461.74,99.89 462.74,98.69 463.77,97.49 464.83,96.28 465.93,95.08 467.06,93.87 468.24,92.67 469.45,91.46 470.70,90.26 471.99,89.06 473.33,87.85 474.71,86.65 476.14,85.44 477.61,84.24 479.14,83.03 480.71,81.83 482.34,80.63 484.02,79.42 485.76,78.22 487.55,77.01 489.41,75.81 491.33,74.60 492.16,73.65 493.30,71.20 494.44,67.86 495.58,64.08 496.71,60.30 497.85,56.90 498.99,54.27 500.13,52.74 501.26,52.32 502.40,52.00 503.54,51.68 504.68,51.37 505.81,51.07 506.95,50.77 508.09,50.48 509.23,50.19 510.36,49.91 511.50,49.64 512.64,49.38 513.78,49.12 514.91,48.88 516.05,48.65 517.19,48.44 518.33,48.24 519.46,48.06 520.60,47.89 521.74,47.75 522.88,47.62 524.01,47.51 525.15,47.42 526.29,47.34 527.43,47.28 528.56,47.23 529.70,47.19 530.84,47.16 531.98,47.13 533.11,47.11 534.25,47.10 535.39,47.08 536.52,47.07" fill="none" stroke="#a0a0a0" stroke-width="0.8" stroke-linejoin="round" stroke-linecap="round" />
<polyline points="436.70,169.74 436.86,168.55 437.02,167.36 437.19,166.17 437.36,164.98 437.54,163.80 437.73,162.61 437.92,161.42 438.12,160.23 438.32,159.04 438.53,157.85 438.75,156.66 438.98,155.47 439.21,154.29 439.45,153.10 439.70,151.91 439.96,150.72 440.22,149.53 440.50,148.34 440.78,147.15 441.07,145.96 441.37,144.78 441.68,143.59 442.01,142.40 442.34,141.21 442.68,140.02 443.04,138.83 443.40,137.64 443.78,136.45 444.17,135.27 444.58,134.08 444.99,132.89 445.42,131.70 445.87,130.51 446.33,129.32 446.80,128.13 447.29,126.94 447.80,125.76 448.32,124.57 448.86,123.38 449.42,122.19 450.00,121.00 450.59,119.81 451.21,118.62 451.84,117.43 452.50,116.25 453.18,115.06 453.88,113.87 454.60,112.68 455.35,111.49 456.12,110.30 456.92,109.11 457.74,107.92 458.59,106.74 459.47,105.55 460.38,104.36 461.31,103.17 462.28,101.98 463.28,100.79 464.31,99.60 465.38,98.41 466.48,97.23 467.62,96.04 468.80,94.85 470.01,93.66 471.26,92.47 472.56,91.28 473.90,90.09 475.28,88.90 476.71,87.71 478.18,86.53 479.70,85.34 481.28,84.15 482.90,82.96 484.58,81.77 486.31,80.58 488.10,79.39 489.95,78.20 491.86,77.02 493.84,75.83 494.67,74.84 495.75,72.40 496.82,69.05 497.89,65.19 498.97,61.25 500.04,57.58 501.11,54.56 502.19,52.52 503.26,51.76 504.33,51.46 505.41,51.18 506.48,50.89 507.55,50.61 508.62,50.34 509.70,50.07 510.77,49.81 511.84,49.56 512.92,49.31 513.99,49.08 515.06,48.85 516.14,48.64 517.21,48.43 518.28,48.24 519.36,48.07 520.43,47.91 521.50,47.77 522.57,47.65 523.65,47.54 524.72,47.45 525.79,47.38 526.87,47.31 527.94,47.26 529.01,47.21 530.09,47.18 531.16,47.15 532.23,47.13 533.31,47.11 534.38,47.10 535.45,47.08 536.52,47.07" fill="none" stroke="#a0a0a0" stroke-width="0.8" stroke-linejoin="round" stroke-linecap="round" />
<polyline points="437.07,169.74 437.24,168.57 437.41,167.41 437.59,166.24 437.77,165.07 437.96,163.91 438.16,162.74 438.36,161.57 438.57,160.41 438.78,159.24 439.00,158.08 439.23,156.91 439.47,155.74 439.72,154.58 439.97,153.41 440.23,152.24 440.50,151.08 440.77,149.91 441.06,148.74 441.36,147.58 441.66,146.41 441.98,145.24 442.30,144.08 442.64,142.91 442.98,141.75 443.34,140.58 443.71,139.41 444.09,138.25 444.49,137.08 444.89,135.91 445.31,134.75 445.74,133.58 446.19,132.41 446.65,131.25 447.13,130.08 447.62,128.91 448.13,127.75 448.65,126.58 449.19,125.41 449.75,124.25 450.33,123.08 450.92,121.92 451.54,120.75 452.17,119.58 452.82,118.42 453.50,117.25 454.20,116.08 454.92,114.92 455.66,113.75 456.43,112.58 457.22,111.42 458.04,110.25 458.88,109.08 459.75,107.92 460.65,106.75 461.58,105.58 462.53,104.42 463.52,103.25 464.54,102.09 465.60,100.92 466.69,99.75 467.81,98.59 468.97,97.42 470.16,96.25 471.40,95.09 472.67,93.92 473.99,92.75 475.35,91.59 476.75,90.42 478.20,89.25 479.69,88.09 481.24,86.92 482.83,85.76 484.47,84.59 486.17,83.42 487.92,82.26 489.73,81.09 491.60,79.92 493.52,78.76 495.51,77.59 496.35,76.57 497.38,74.07 498.41,70.60 499.44,66.58 500.47,62.41 501.50,58.45 502.53,55.07 503.56,52.61 504.59,51.41 505.62,51.12 506.65,50.85 507.68,50.58 508.71,50.32 509.74,50.06 510.77,49.81 511.80,49.57 512.83,49.33 513.86,49.10 514.89,48.89 515.92,48.68 516.95,48.48 517.98,48.30 519.01,48.13 520.04,47.97 521.07,47.83 522.10,47.70 523.13,47.59 524.16,47.50 525.19,47.42 526.22,47.35 527.25,47.29 528.28,47.24 529.31,47.20 530.34,47.17 531.37,47.15 532.40,47.12 533.43,47.11 534.46,47.09 535.49,47.08 536.52,47.07" fill="none" stroke="#a0a0a0" stroke-width="0.8" stroke-linejoin="round" stroke-linecap="round" />
<polyline points="434.25,169.74 434.35,168.41 434.46,167.07 434.57,165.74 434.68,164.41 434.80,163.07 434.93,161.74 435.06,160.41 435.19,159.07 435.33,157.74 435.48,156.41 435.63,155.08 435.79,153.74 435.96,152.41 436.14,151.08 436.32,149.74 436.51,148.41 436.70,147.08 436.91,145.74 437.13,144.41 437.35,143.08 437.58,141.74 437.83,140.41 438.08,139.08 438.35,137.74 438.62,136.41 438.91,135.08 439.21,133.75 439.52,132.41 439.85,131.08 440.19,129.75 440.55,128.41 440.92,127.08 441.30,125.75 441.71,124.41 442.13,123.08 442.57,121.75 443.02,120.41 443.50,119.08 444.00,117.75 444.52,116.41 445.06,115.08 445.62,113.75 446.21,112.42 446.82,111.08 447.46,109.75 448.13,108.42 448.83,107.08 449.55,105.75 450.31,104.42 451.10,103.08 451.92,101.75 452.78,100.42 453.68,99.08 454.61,97.75 455.58,96.42 456.60,95.08 457.66,93.75 458.76,92.42 459.91,91.09 461.12,89.75 462.37,88.42 463.67,87.09 465.04,85.75 466.46,84.42 467.94,83.09 469.48,81.75 471.10,80.42 472.78,79.09 474.53,77.75 476.36,76.42 478.26,75.09 480.25,73.75 482.32,72.42 484.49,71.09 486.74,69.76 489.09,68.42 491.54,67.09 494.10,65.76 496.77,64.42 497.60,63.77 498.60,62.46 499.60,60.75 500.60,58.81 501.60,56.82 502.59,54.92 503.59,53.26 504.59,51.97 505.59,51.17 506.59,50.86 507.58,50.60 508.58,50.35 509.58,50.10 510.58,49.86 511.58,49.62 512.57,49.39 513.57,49.17 514.57,48.95 515.57,48.75 516.57,48.55 517.56,48.37 518.56,48.20 519.56,48.04 520.56,47.90 521.56,47.77 522.55,47.65 523.55,47.55 524.55,47.47 525.55,47.39 526.55,47.33 527.54,47.28 528.54,47.23 529.54,47.20 530.54,47.17 531.54,47.14 532.53,47.12 533.53,47.11 534.53,47.09 535.53,47.08 536.52,47.07" fill="none" stroke="#a0a0a0" stroke-width="0.8" stroke-linejoin="round" stroke-linecap="round" />
<polyline points="429.07,167.46 428.96,166.26 428.85,165.07 428.74,163.87 428.62,162.68 428.50,161.48 428.38,160.29 428.25,159.10 428.11,157.90 427.97,156.71 427.82,155.51 427.67,154.32 427.51,153.13 427.35,151.93 427.18,150.74 427.01,149.54 426.83,148.35 426.64,147.16 426.44,145.96 426.24,144.77 426.03,143.57 425.81,142.38 425.59,141.19 425.35,139.99 425.11,138.80 424.86,137.60 424.59,136.41 424.32,135.22 424.04,134.02 423.75,132.83 423.45,131.63 423.13,130.44 422.81,129.25 422.47,128.05 422.12,126.86 421.76,125.66 421.38,124.47 420.99,123.28 420.58,122.08 420.16,120.89 419.73,119.69 419.28,118.50 418.81,117.31 418.32,116.11 417.82,114.92 417.29,113.72 416.75,112.53 416.19,111.34 415.60,110.14 415.00,108.95 414.37,107.75 413.72,106.56 413.05,105.37 412.35,104.17 411.62,102.98 410.87,101.78 410.09,100.59 409.28,99.40 408.44,98.20 407.56,97.01 406.66,95.81 405.72,94.62 404.75,93.43 403.74,92.23 402.70,91.04 401.61,89.84 400.49,88.65 399.32,87.46 398.11,86.26 396.86,85.07 395.56,83.87 394.21,82.68 392.81,81.49 391.36,80.29 389.85,79.10 388.29,77.90 386.67,76.71 384.99,75.52 383.25,74.32 381.44,73.13 379.57,71.93 377.62,70.74 375.61,69.55 373.52,68.35 371.35,67.16 369.10,65.96 366.77,64.77 364.35,63.57 361.84,62.34 359.24,61.06 356.54,59.73 353.74,58.35 350.84,56.92 347.83,55.45 344.71,53.93 341.47,52.39 338.12,50.80 334.63,49.20 331.02,47.57 327.27,45.94" fill="none" stroke="#a0a0a0" stroke-width="0.9" stroke-linejoin="round" stroke-linecap="round" />
<polyline points="428.22,167.46 428.10,166.26 427.97,165.07 427.83,163.87 427.69,162.68 427.55,161.48 427.40,160.29 427.24,159.09 427.08,157.90 426.91,156.70 426.74,155.51 426.57,154.31 426.38,153.12 426.19,151.92 426.00,150.73 425.79,149.53 425.58,148.34 425.37,147.14 425.14,145.95 424.91,144.75 424.67,143.56 424.42,142.36 424.16,141.17 423.90,139.97 423.62,138.78 423.34,137.58 423.04,136.39 422.74,135.19 422.42,134.00 422.09,132.81 421.76,131.61 421.41,130.42 421.05,129.22 420.67,128.03 420.29,126.83 419.89,125.64 419.48,124.44 419.05,123.25 418.61,122.05 418.15,120.86 417.68,119.66 417.19,118.47 416.68,117.27 416.16,116.08 415.61,114.88 415.05,113.69 414.48,112.49 413.88,111.30 413.26,110.10 412.61,108.91 411.95,107.71 411.26,106.52 410.56,105.32 409.82,104.13 409.06,102.93 408.28,101.74 407.46,100.55 406.62,99.35 405.75,98.16 404.85,96.96 403.92,95.77 402.96,94.57 401.97,93.38 400.94,92.18 399.87,90.99 398.77,89.79 397.63,88.60 396.45,87.40 395.23,86.21 393.97,85.01 392.66,83.82 391.31,82.62 389.92,81.43 388.47,80.23 386.98,79.04 385.44,77.84 383.84,76.65 382.18,75.45 380.47,74.26 378.70,73.06 376.87,71.87 374.98,70.67 373.02,69.48 371.00,68.29 368.90,67.09 366.74,65.90 364.50,64.70 362.18,63.47 359.78,62.19 357.30,60.86 354.73,59.49 352.08,58.08 349.33,56.63 346.49,55.14 343.55,53.63 340.51,52.10 337.37,50.55 334.12,49.00 330.75,47.46 327.27,45.93" fill="none" stroke="#a0a0a0" stroke-width="0.9" stroke-linejoin="round" stroke-linecap="round" />
<polyline points="431.59,158.77 431.57,157.99 431.56,157.22 431.55,156.44 431.53,155.67 431.52,154.89 431.50,154.12 431.49,153.35 431.47,152.57 431.45,151.80 431.44,151.02 431.42,150.25 431.40,149.47 431.38,148.70 431.36,147.92 431.34,147.15 431.31,146.37 431.29,145.60 431.27,144.82 431.24,144.05 431.21,143.27 431.19,142.50 431.16,141.72 431.13,140.95 431.10,140.17 431.07,139.40 431.03,138.62 431.00,137.85 430.96,137.07 430.93,136.30 430.89,135.52 430.85,134.75 430.81,133.97 430.76,133.20 430.72,132.42 430.67,131.65 430.62,130.87 430.57,130.10 430.52,129.32 430.46,128.55 430.40,127.77 430.34,127.00 430.28,126.23 430.22,125.45 430.15,124.68 430.08,123.90 430.01,123.13 429.93,122.35 429.86,121.58 429.77,120.80 429.69,120.03 429.60,119.25 429.51,118.48 429.41,117.70 429.32,116.93 429.21,116.15 429.11,115.38 428.99,114.60 428.88,113.83 428.76,113.05 428.63,112.28 428.50,111.50 428.37,110.73 428.23,109.95 428.08,109.18 427.93,108.40 427.77,107.63 427.61,106.85 427.44,106.08 427.26,105.30 427.07,104.53 426.88,103.75 426.68,102.98 426.47,102.20 426.26,101.43 426.03,100.65 425.80,99.88 425.56,99.11 425.30,98.33 425.04,97.56 424.77,96.78 424.48,96.01 424.19,95.23 423.88,94.46 423.56,93.68 423.23,92.91 422.89,92.13 422.53,91.36 422.15,90.58 421.77,89.81 421.36,89.03 420.94,88.26 420.51,87.48 420.05,86.71 419.58,85.93 419.09,85.16 418.58,84.38 418.05,83.61 417.50,82.83 416.93,82.06 416.33,81.28 415.71,80.51 415.07,79.73 414.40,78.96 413.70,78.18 412.97,77.41 412.22,76.63 411.44,75.86 410.62,75.08 409.77,74.31 408.89,73.53 407.98,72.76 407.03,71.99 406.04,71.21 405.01,70.44 403.93,69.66 402.82,68.89 401.66,68.11 400.46,67.34 399.21,66.56 397.91,65.79 396.55,65.01 395.15,64.24 393.68,63.46 392.16,62.69 390.58,61.91 388.93,61.14 387.22,60.36 385.44,59.59 383.60,58.81 381.67,58.04 379.67,57.26 377.59,56.49 375.43,55.71 373.18,54.94 370.84,54.17 368.41,53.42 365.89,52.68 363.26,51.97 360.53,51.27 357.68,50.60 354.73,49.96 351.66,49.34 348.46,48.76 345.14,48.21 341.69,47.70 338.09,47.24 334.36,46.69 330.48,45.92 326.44,45.14" fill="none" stroke="#ff3a3a" stroke-width="2.5" stroke-linejoin="round" stroke-linecap="round" />
<circle cx="431.59" cy="158.77" r="0.6" fill="#fff"/>
<circle cx="431.55" cy="156.48" r="0.6" fill="#fff"/>
<circle cx="431.50" cy="154.19" r="0.6" fill="#fff"/>
<circle cx="431.46" cy="151.91" r="0.6" fill="#fff"/>
<circle cx="431.40" cy="149.57" r="0.6" fill="#fff"/>
<circle cx="431.34" cy="147.29" r="0.6" fill="#fff"/>
<circle cx="431.27" cy="145.00" r="0.6" fill="#fff"/>
<circle cx="431.19" cy="142.71" r="0.6" fill="#fff"/>
<circle cx="431.11" cy="140.38" r="0.6" fill="#fff"/>
<circle cx="431.01" cy="138.09" r="0.6" fill="#fff"/>
<circle cx="430.90" cy="135.81" r="0.6" fill="#fff"/>
<circle cx="430.78" cy="133.52" r="0.6" fill="#fff"/>
<circle cx="430.64" cy="131.19" r="0.6" fill="#fff"/>
<circle cx="430.49" cy="128.91" r="0.6" fill="#fff"/>
<circle cx="430.31" cy="126.63" r="0.6" fill="#fff"/>
<circle cx="430.12" cy="124.30" r="0.6" fill="#fff"/>
<circle cx="429.90" cy="122.02" r="0.6" fill="#fff"/>
<circle cx="429.66" cy="119.75" r="0.6" fill="#fff"/>
<circle cx="429.39" cy="117.48" r="0.6" fill="#fff"/>
<circle cx="429.08" cy="115.16" r="0.6" fill="#fff"/>
<circle cx="428.73" cy="112.90" r="0.6" fill="#fff"/>
<circle cx="428.35" cy="110.65" r="0.6" fill="#fff"/>
<circle cx="427.93" cy="108.40" r="0.6" fill="#fff"/>
<circle cx="427.44" cy="106.11" r="0.6" fill="#fff"/>
<circle cx="426.91" cy="103.89" r="0.6" fill="#fff"/>
<circle cx="426.33" cy="101.68" r="0.6" fill="#fff"/>
<circle cx="425.66" cy="99.44" r="0.6" fill="#fff"/>
<circle cx="424.94" cy="97.27" r="0.6" fill="#fff"/>
<circle cx="424.15" cy="95.12" r="0.6" fill="#fff"/>
<circle cx="423.27" cy="93.01" r="0.6" fill="#fff"/>
<circle cx="422.30" cy="90.89" r="0.6" fill="#fff"/>
<circle cx="421.26" cy="88.85" r="0.6" fill="#fff"/>
<circle cx="420.14" cy="86.85" r="0.6" fill="#fff"/>
<circle cx="418.93" cy="84.91" r="0.6" fill="#fff"/>
<circle cx="417.61" cy="82.99" r="0.6" fill="#fff"/>
<circle cx="416.23" cy="81.16" r="0.6" fill="#fff"/>
<circle cx="414.77" cy="79.40" r="0.6" fill="#fff"/>
<circle cx="413.24" cy="77.70" r="0.6" fill="#fff"/>
<circle cx="411.61" cy="76.03" r="0.6" fill="#fff"/>
<circle cx="409.94" cy="74.46" r="0.6" fill="#fff"/>
<circle cx="408.22" cy="72.96" r="0.6" fill="#fff"/>
<circle cx="406.40" cy="71.50" r="0.6" fill="#fff"/>
<circle cx="404.57" cy="70.12" r="0.6" fill="#fff"/>
<circle cx="402.70" cy="68.80" r="0.6" fill="#fff"/>
<circle cx="400.79" cy="67.55" r="0.6" fill="#fff"/>
<circle cx="398.80" cy="66.32" r="0.6" fill="#fff"/>
<circle cx="396.83" cy="65.17" r="0.6" fill="#fff"/>
<circle cx="394.82" cy="64.07" r="0.6" fill="#fff"/>
<circle cx="392.79" cy="63.01" r="0.6" fill="#fff"/>
<circle cx="390.70" cy="61.97" r="0.6" fill="#fff"/>
<circle cx="388.63" cy="61.00" r="0.6" fill="#fff"/>
<circle cx="386.54" cy="60.07" r="0.6" fill="#fff"/>
<circle cx="384.40" cy="59.15" r="0.6" fill="#fff"/>
<circle cx="382.28" cy="58.28" r="0.6" fill="#fff"/>
<circle cx="380.15" cy="57.45" r="0.6" fill="#fff"/>
<circle cx="378.01" cy="56.64" r="0.6" fill="#fff"/>
<circle cx="375.81" cy="55.85" r="0.6" fill="#fff"/>
<circle cx="373.65" cy="55.10" r="0.6" fill="#fff"/>
<circle cx="371.48" cy="54.38" r="0.6" fill="#fff"/>
<circle cx="369.29" cy="53.69" r="0.6" fill="#fff"/>
<circle cx="367.06" cy="53.03" r="0.6" fill="#fff"/>
<circle cx="364.86" cy="52.40" r="0.6" fill="#fff"/>
<circle cx="362.65" cy="51.81" r="0.6" fill="#fff"/>
<circle cx="360.43" cy="51.25" r="0.6" fill="#fff"/>
<circle cx="358.16" cy="50.72" r="0.6" fill="#fff"/>
<circle cx="355.92" cy="50.22" r="0.6" fill="#fff"/>
<circle cx="353.68" cy="49.75" r="0.6" fill="#fff"/>
<circle cx="351.39" cy="49.30" r="0.6" fill="#fff"/>
<circle cx="349.14" cy="48.88" r="0.6" fill="#fff"/>
<circle cx="346.89" cy="48.50" r="0.6" fill="#fff"/>
<circle cx="344.63" cy="48.14" r="0.6" fill="#fff"/>
<circle cx="342.32" cy="47.80" r="0.6" fill="#fff"/>
<circle cx="340.05" cy="47.49" r="0.6" fill="#fff"/>
<circle cx="337.78" cy="47.19" r="0.6" fill="#fff"/>
<circle cx="335.52" cy="46.86" r="0.6" fill="#fff"/>
<circle cx="333.22" cy="46.47" r="0.6" fill="#fff"/>
<circle cx="330.98" cy="46.02" r="0.6" fill="#fff"/>
<circle cx="328.73" cy="45.58" r="0.6" fill="#fff"/>
<circle cx="326.44" cy="45.14" r="0.6" fill="#fff"/>
<polyline points="429.22,158.03 429.15,157.26 429.08,156.48 429.00,155.71 428.92,154.93 428.84,154.15 428.76,153.38 428.68,152.60 428.59,151.82 428.50,151.05 428.41,150.27 428.32,149.50 428.22,148.72 428.12,147.94 428.02,147.17 427.92,146.39 427.81,145.61 427.70,144.84 427.59,144.06 427.47,143.29 427.36,142.51 427.23,141.73 427.11,140.96 426.98,140.18 426.85,139.40 426.71,138.63 426.58,137.85 426.43,137.08 426.29,136.30 426.14,135.52 425.98,134.75 425.82,133.97 425.66,133.20 425.49,132.42 425.32,131.64 425.15,130.87 424.97,130.09 424.78,129.31 424.59,128.54 424.39,127.76 424.19,126.99 423.99,126.21 423.77,125.43 423.56,124.66 423.33,123.88 423.10,123.10 422.87,122.33 422.63,121.55 422.38,120.78 422.12,120.00 421.86,119.22 421.59,118.45 421.32,117.67 421.03,116.89 420.74,116.12 420.44,115.34 420.14,114.57 419.82,113.79 419.50,113.01 419.17,112.24 418.82,111.46 418.47,110.68 418.11,109.91 417.75,109.13 417.37,108.36 416.98,107.58 416.58,106.80 416.17,106.03 415.75,105.25 415.31,104.48 414.87,103.70 414.41,102.92 413.95,102.15 413.46,101.37 412.97,100.59 412.46,99.82 411.94,99.04 411.41,98.27 410.86,97.49 410.30,96.71 409.72,95.94 409.12,95.16 408.51,94.38 407.89,93.61 407.25,92.83 406.59,92.06 405.91,91.28 405.21,90.50 404.50,89.73 403.76,88.95 403.01,88.17 402.24,87.40 401.44,86.62 400.63,85.85 399.79,85.07 398.93,84.29 398.05,83.52 397.14,82.74 396.21,81.96 395.25,81.19 394.27,80.41 393.26,79.64 392.23,78.86 391.17,78.08 390.08,77.31 388.96,76.53 387.81,75.75 386.63,74.98 385.41,74.20 384.17,73.43 382.89,72.65 381.58,71.87 380.23,71.10 378.85,70.32 377.43,69.55 375.97,68.77 374.47,67.99 372.93,67.22 371.35,66.44 369.73,65.66 368.07,64.89 366.36,64.11 364.60,63.34 362.80,62.54 360.95,61.72 359.05,60.87 357.10,60.00 355.10,59.09 353.04,58.16 350.93,57.19 348.76,56.19 346.53,55.16 344.25,54.10 341.90,53.00 339.49,51.87 337.02,50.70 334.48,49.49 331.87,48.25 329.19,46.97 326.44,45.65" fill="none" stroke="#ff3a3a" stroke-width="2.5" stroke-linejoin="round" stroke-linecap="round" />
<circle cx="429.22" cy="158.03" r="0.6" fill="#fff"/>
<circle cx="429.00" cy="155.74" r="0.6" fill="#fff"/>
<circle cx="428.77" cy="153.45" r="0.6" fill="#fff"/>
<circle cx="428.52" cy="151.17" r="0.6" fill="#fff"/>
<circle cx="428.24" cy="148.84" r="0.6" fill="#fff"/>
<circle cx="427.94" cy="146.56" r="0.6" fill="#fff"/>
<circle cx="427.62" cy="144.28" r="0.6" fill="#fff"/>
<circle cx="427.27" cy="141.97" r="0.6" fill="#fff"/>
<circle cx="426.90" cy="139.69" r="0.6" fill="#fff"/>
<circle cx="426.50" cy="137.43" r="0.6" fill="#fff"/>
<circle cx="426.06" cy="135.13" r="0.6" fill="#fff"/>
<circle cx="425.59" cy="132.87" r="0.6" fill="#fff"/>
<circle cx="425.09" cy="130.63" r="0.6" fill="#fff"/>
<circle cx="424.54" cy="128.35" r="0.6" fill="#fff"/>
<circle cx="423.96" cy="126.13" r="0.6" fill="#fff"/>
<circle cx="423.34" cy="123.91" r="0.6" fill="#fff"/>
<circle cx="422.66" cy="121.67" r="0.6" fill="#fff"/>
<circle cx="421.95" cy="119.48" r="0.6" fill="#fff"/>
<circle cx="421.18" cy="117.31" r="0.6" fill="#fff"/>
<circle cx="420.36" cy="115.12" r="0.6" fill="#fff"/>
<circle cx="419.49" cy="112.99" r="0.6" fill="#fff"/>
<circle cx="418.56" cy="110.88" r="0.6" fill="#fff"/>
<circle cx="417.57" cy="108.76" r="0.6" fill="#fff"/>
<circle cx="416.53" cy="106.71" r="0.6" fill="#fff"/>
<circle cx="415.43" cy="104.69" r="0.6" fill="#fff"/>
<circle cx="414.26" cy="102.66" r="0.6" fill="#fff"/>
<circle cx="413.04" cy="100.71" r="0.6" fill="#fff"/>
<circle cx="411.77" cy="98.79" r="0.6" fill="#fff"/>
<circle cx="410.42" cy="96.88" r="0.6" fill="#fff"/>
<circle cx="409.03" cy="95.04" r="0.6" fill="#fff"/>
<circle cx="407.59" cy="93.25" r="0.6" fill="#fff"/>
<circle cx="406.07" cy="91.46" r="0.6" fill="#fff"/>
<circle cx="404.53" cy="89.76" r="0.6" fill="#fff"/>
<circle cx="402.93" cy="88.10" r="0.6" fill="#fff"/>
<circle cx="401.26" cy="86.45" r="0.6" fill="#fff"/>
<circle cx="399.58" cy="84.88" r="0.6" fill="#fff"/>
<circle cx="397.86" cy="83.36" r="0.6" fill="#fff"/>
<circle cx="396.10" cy="81.88" r="0.6" fill="#fff"/>
<circle cx="394.27" cy="80.41" r="0.6" fill="#fff"/>
<circle cx="392.44" cy="79.02" r="0.6" fill="#fff"/>
<circle cx="390.58" cy="77.67" r="0.6" fill="#fff"/>
<circle cx="388.66" cy="76.33" r="0.6" fill="#fff"/>
<circle cx="386.74" cy="75.05" r="0.6" fill="#fff"/>
<circle cx="384.80" cy="73.82" r="0.6" fill="#fff"/>
<circle cx="382.80" cy="72.60" r="0.6" fill="#fff"/>
<circle cx="380.82" cy="71.43" r="0.6" fill="#fff"/>
<circle cx="378.81" cy="70.30" r="0.6" fill="#fff"/>
<circle cx="376.75" cy="69.19" r="0.6" fill="#fff"/>
<circle cx="374.71" cy="68.12" r="0.6" fill="#fff"/>
<circle cx="372.66" cy="67.08" r="0.6" fill="#fff"/>
<circle cx="370.55" cy="66.06" r="0.6" fill="#fff"/>
<circle cx="368.47" cy="65.08" r="0.6" fill="#fff"/>
<circle cx="366.38" cy="64.12" r="0.6" fill="#fff"/>
<circle cx="364.24" cy="63.17" r="0.6" fill="#fff"/>
<circle cx="362.13" cy="62.24" r="0.6" fill="#fff"/>
<circle cx="360.03" cy="61.31" r="0.6" fill="#fff"/>
<circle cx="357.89" cy="60.35" r="0.6" fill="#fff"/>
<circle cx="355.79" cy="59.41" r="0.6" fill="#fff"/>
<circle cx="353.70" cy="58.46" r="0.6" fill="#fff"/>
<circle cx="351.57" cy="57.48" r="0.6" fill="#fff"/>
<circle cx="349.48" cy="56.52" r="0.6" fill="#fff"/>
<circle cx="347.39" cy="55.56" r="0.6" fill="#fff"/>
<circle cx="345.26" cy="54.57" r="0.6" fill="#fff"/>
<circle cx="343.18" cy="53.60" r="0.6" fill="#fff"/>
<circle cx="341.10" cy="52.62" r="0.6" fill="#fff"/>
<circle cx="338.98" cy="51.62" r="0.6" fill="#fff"/>
<circle cx="336.90" cy="50.64" r="0.6" fill="#fff"/>
<circle cx="334.82" cy="49.65" r="0.6" fill="#fff"/>
<circle cx="332.70" cy="48.65" r="0.6" fill="#fff"/>
<circle cx="330.63" cy="47.66" r="0.6" fill="#fff"/>
<circle cx="328.55" cy="46.66" r="0.6" fill="#fff"/>
<circle cx="326.44" cy="45.65" r="0.6" fill="#fff"/>
<polyline points="435.42,158.08 435.51,157.22 435.61,156.35 435.71,155.49 435.81,154.62 435.91,153.75 436.02,152.89 436.13,152.02 436.24,151.16 436.36,150.29 436.48,149.42 436.60,148.56 436.73,147.69 436.86,146.83 436.99,145.96 437.13,145.09 437.27,144.23 437.41,143.36 437.56,142.50 437.71,141.63 437.87,140.76 438.03,139.90 438.19,139.03 438.36,138.17 438.53,137.30 438.71,136.43 438.89,135.57 439.08,134.70 439.27,133.84 439.47,132.97 439.67,132.10 439.88,131.24 440.09,130.37 440.31,129.51 440.54,128.64 440.77,127.77 441.01,126.91 441.25,126.04 441.50,125.18 441.76,124.31 442.02,123.44 442.30,122.58 442.57,121.71 442.86,120.85 443.15,119.98 443.46,119.11 443.76,118.25 444.08,117.38 444.41,116.52 444.74,115.65 445.09,114.78 445.44,113.92 445.80,113.05 446.18,112.19 446.56,111.32 446.95,110.45 447.36,109.59 447.77,108.72 448.20,107.86 448.63,106.99 449.08,106.12 449.54,105.26 450.01,104.39 450.50,103.53 451.00,102.66 451.51,101.79 452.04,100.93 452.57,100.06 453.13,99.20 453.70,98.33 454.28,97.46 454.88,96.60 455.50,95.73 456.13,94.87 456.78,94.00 457.45,93.13 458.13,92.27 458.83,91.40 459.55,90.54 460.30,89.67 461.06,88.80 461.84,87.94 462.64,87.07 463.46,86.21 464.31,85.34 465.18,84.47 466.07,83.61 466.99,82.74 467.93,81.88 468.89,81.01 469.88,80.14 470.90,79.28 471.95,78.41 473.02,77.55 474.12,76.68 475.25,75.81 476.41,74.95 477.61,74.08 478.83,73.22 480.09,72.35 481.38,71.48 482.71,70.62 484.07,69.75 485.46,68.89 486.90,68.02 488.37,67.15 489.89,66.29 491.44,65.42 493.04,64.51 494.67,62.90 495.51,61.82 496.56,60.31 497.62,58.72 498.67,57.13 499.72,55.61 500.77,54.24 501.82,53.08 502.87,52.18 503.92,51.60 504.98,51.29 506.03,51.01 507.08,50.73 508.13,50.46 509.18,50.20 510.23,49.94 511.29,49.69 512.34,49.44 513.39,49.21 514.44,48.98 515.49,48.76 516.54,48.56 517.60,48.36 518.65,48.18 519.70,48.02 520.75,47.87 521.80,47.74 522.85,47.62 523.91,47.52 524.96,47.43 526.01,47.36 527.06,47.30 528.11,47.25 529.16,47.21 530.22,47.18 531.27,47.15 532.32,47.13 533.37,47.11 534.42,47.09 535.47,47.08 536.52,47.07" fill="none" stroke="#ff3a3a" stroke-width="2.5" stroke-linejoin="round" stroke-linecap="round" />
<circle cx="435.42" cy="158.08" r="0.6" fill="#fff"/>
<circle cx="435.67" cy="155.82" r="0.6" fill="#fff"/>
<circle cx="435.94" cy="153.52" r="0.6" fill="#fff"/>
<circle cx="436.23" cy="151.26" r="0.6" fill="#fff"/>
<circle cx="436.55" cy="148.96" r="0.6" fill="#fff"/>
<circle cx="436.88" cy="146.71" r="0.6" fill="#fff"/>
<circle cx="437.24" cy="144.42" r="0.6" fill="#fff"/>
<circle cx="437.62" cy="142.17" r="0.6" fill="#fff"/>
<circle cx="438.03" cy="139.89" r="0.6" fill="#fff"/>
<circle cx="438.46" cy="137.65" r="0.6" fill="#fff"/>
<circle cx="438.93" cy="135.38" r="0.6" fill="#fff"/>
<circle cx="439.43" cy="133.16" r="0.6" fill="#fff"/>
<circle cx="439.96" cy="130.90" r="0.6" fill="#fff"/>
<circle cx="440.54" cy="128.65" r="0.6" fill="#fff"/>
<circle cx="441.14" cy="126.46" r="0.6" fill="#fff"/>
<circle cx="441.78" cy="124.23" r="0.6" fill="#fff"/>
<circle cx="442.46" cy="122.05" r="0.6" fill="#fff"/>
<circle cx="443.20" cy="119.85" r="0.6" fill="#fff"/>
<circle cx="443.96" cy="117.71" r="0.6" fill="#fff"/>
<circle cx="444.79" cy="115.54" r="0.6" fill="#fff"/>
<circle cx="445.65" cy="113.43" r="0.6" fill="#fff"/>
<circle cx="446.57" cy="111.30" r="0.6" fill="#fff"/>
<circle cx="447.52" cy="109.24" r="0.6" fill="#fff"/>
<circle cx="448.55" cy="107.16" r="0.6" fill="#fff"/>
<circle cx="449.63" cy="105.10" r="0.6" fill="#fff"/>
<circle cx="450.74" cy="103.11" r="0.6" fill="#fff"/>
<circle cx="451.92" cy="101.12" r="0.6" fill="#fff"/>
<circle cx="453.13" cy="99.19" r="0.6" fill="#fff"/>
<circle cx="454.42" cy="97.26" r="0.6" fill="#fff"/>
<circle cx="455.74" cy="95.40" r="0.6" fill="#fff"/>
<circle cx="457.13" cy="93.55" r="0.6" fill="#fff"/>
<circle cx="458.54" cy="91.76" r="0.6" fill="#fff"/>
<circle cx="460.03" cy="89.98" r="0.6" fill="#fff"/>
<circle cx="461.54" cy="88.27" r="0.6" fill="#fff"/>
<circle cx="463.11" cy="86.57" r="0.6" fill="#fff"/>
<circle cx="464.71" cy="84.95" r="0.6" fill="#fff"/>
<circle cx="466.37" cy="83.33" r="0.6" fill="#fff"/>
<circle cx="468.07" cy="81.75" r="0.6" fill="#fff"/>
<circle cx="469.77" cy="80.24" r="0.6" fill="#fff"/>
<circle cx="471.54" cy="78.74" r="0.6" fill="#fff"/>
<circle cx="473.32" cy="77.31" r="0.6" fill="#fff"/>
<circle cx="475.15" cy="75.89" r="0.6" fill="#fff"/>
<circle cx="476.98" cy="74.54" r="0.6" fill="#fff"/>
<circle cx="478.87" cy="73.19" r="0.6" fill="#fff"/>
<circle cx="480.75" cy="71.91" r="0.6" fill="#fff"/>
<circle cx="482.69" cy="70.63" r="0.6" fill="#fff"/>
<circle cx="484.61" cy="69.41" r="0.6" fill="#fff"/>
<circle cx="486.59" cy="68.21" r="0.6" fill="#fff"/>
<circle cx="488.59" cy="67.03" r="0.6" fill="#fff"/>
<circle cx="490.57" cy="65.91" r="0.6" fill="#fff"/>
<circle cx="492.59" cy="64.77" r="0.6" fill="#fff"/>
<circle cx="494.29" cy="63.27" r="0.6" fill="#fff"/>
<circle cx="495.75" cy="61.47" r="0.6" fill="#fff"/>
<circle cx="497.03" cy="59.59" r="0.6" fill="#fff"/>
<circle cx="498.31" cy="57.66" r="0.6" fill="#fff"/>
<circle cx="499.60" cy="55.78" r="0.6" fill="#fff"/>
<circle cx="501.03" cy="53.96" r="0.6" fill="#fff"/>
<circle cx="502.66" cy="52.37" r="0.6" fill="#fff"/>
<circle cx="504.72" cy="51.36" r="0.6" fill="#fff"/>
<circle cx="506.92" cy="50.78" r="0.6" fill="#fff"/>
<circle cx="509.17" cy="50.20" r="0.6" fill="#fff"/>
<circle cx="511.42" cy="49.66" r="0.6" fill="#fff"/>
<circle cx="513.65" cy="49.15" r="0.6" fill="#fff"/>
<circle cx="515.92" cy="48.68" r="0.6" fill="#fff"/>
<circle cx="518.16" cy="48.27" r="0.6" fill="#fff"/>
<circle cx="520.45" cy="47.91" r="0.6" fill="#fff"/>
<circle cx="522.71" cy="47.64" r="0.6" fill="#fff"/>
<circle cx="525.02" cy="47.43" r="0.6" fill="#fff"/>
<circle cx="527.29" cy="47.29" r="0.6" fill="#fff"/>
<circle cx="529.61" cy="47.20" r="0.6" fill="#fff"/>
<circle cx="531.89" cy="47.14" r="0.6" fill="#fff"/>
<circle cx="534.21" cy="47.10" r="0.6" fill="#fff"/>
<circle cx="536.52" cy="47.07" r="0.6" fill="#fff"/>
<polyline points="432.21,157.63 432.23,156.85 432.24,156.08 432.25,155.31 432.27,154.53 432.28,153.76 432.30,152.98 432.31,152.21 432.33,151.44 432.35,150.66 432.36,149.89 432.38,149.11 432.40,148.34 432.42,147.57 432.44,146.79 432.46,146.02 432.49,145.25 432.51,144.47 432.53,143.70 432.56,142.92 432.58,142.15 432.61,141.38 432.64,140.60 432.67,139.83 432.70,139.06 432.73,138.28 432.76,137.51 432.80,136.73 432.84,135.96 432.87,135.19 432.91,134.41 432.95,133.64 432.99,132.87 433.04,132.09 433.08,131.32 433.13,130.54 433.18,129.77 433.23,129.00 433.28,128.22 433.34,127.45 433.39,126.67 433.45,125.90 433.51,125.13 433.58,124.35 433.64,123.58 433.71,122.81 433.79,122.03 433.86,121.26 433.94,120.48 434.02,119.71 434.10,118.94 434.19,118.16 434.28,117.39 434.38,116.62 434.48,115.84 434.58,115.07 434.69,114.29 434.80,113.52 434.91,112.75 435.03,111.97 435.16,111.20 435.29,110.43 435.42,109.65 435.56,108.88 435.71,108.10 435.86,107.33 436.01,106.56 436.18,105.78 436.35,105.01 436.52,104.23 436.71,103.46 436.90,102.69 437.10,101.91 437.31,101.14 437.52,100.37 437.74,99.59 437.98,98.82 438.22,98.04 438.47,97.27 438.73,96.50 439.00,95.72 439.28,94.95 439.58,94.18 439.88,93.40 440.20,92.63 440.53,91.85 440.87,91.08 441.23,90.31 441.60,89.53 441.99,88.76 442.39,87.99 442.80,87.21 443.24,86.44 443.69,85.66 444.16,84.89 444.64,84.12 445.15,83.34 445.68,82.57 446.23,81.79 446.79,81.02 447.39,80.25 448.00,79.47 448.64,78.70 449.31,77.93 450.00,77.15 450.72,76.38 451.47,75.60 452.25,74.83 453.06,74.06 453.90,73.28 454.77,72.51 455.68,71.74 456.63,70.96 457.61,70.19 458.63,69.41 459.69,68.64 460.80,67.87 461.95,67.09 463.14,66.32 464.38,65.55 465.68,64.77 467.02,64.00 468.41,63.22 469.87,62.45 471.38,61.68 472.95,60.90 474.58,60.13 476.27,59.35 478.04,58.58 479.87,57.81 481.78,57.03 483.76,56.26 485.83,55.49 487.97,54.71 490.20,53.94 492.52,53.17 494.93,52.39 497.43,51.62 500.04,50.86 502.75,50.10 505.56,49.37 508.49,48.69 511.54,48.09 514.70,47.64 517.99,47.34 521.42,47.18 524.98,47.10 528.68,47.06 532.52,47.05 536.52,47.04" fill="none" stroke="#ff3a3a" stroke-width="2.5" stroke-linejoin="round" stroke-linecap="round" />
<circle cx="432.21" cy="157.63" r="0.6" fill="#fff"/>
<circle cx="432.25" cy="155.35" r="0.6" fill="#fff"/>
<circle cx="432.30" cy="153.03" r="0.6" fill="#fff"/>
<circle cx="432.34" cy="150.72" r="0.6" fill="#fff"/>
<circle cx="432.40" cy="148.40" r="0.6" fill="#fff"/>
<circle cx="432.46" cy="146.08" r="0.6" fill="#fff"/>
<circle cx="432.53" cy="143.76" r="0.6" fill="#fff"/>
<circle cx="432.61" cy="141.44" r="0.6" fill="#fff"/>
<circle cx="432.70" cy="139.13" r="0.6" fill="#fff"/>
<circle cx="432.80" cy="136.81" r="0.6" fill="#fff"/>
<circle cx="432.91" cy="134.49" r="0.6" fill="#fff"/>
<circle cx="433.03" cy="132.18" r="0.6" fill="#fff"/>
<circle cx="433.17" cy="129.86" r="0.6" fill="#fff"/>
<circle cx="433.33" cy="127.55" r="0.6" fill="#fff"/>
<circle cx="433.51" cy="125.24" r="0.6" fill="#fff"/>
<circle cx="433.70" cy="122.93" r="0.6" fill="#fff"/>
<circle cx="433.92" cy="120.66" r="0.6" fill="#fff"/>
<circle cx="434.17" cy="118.36" r="0.6" fill="#fff"/>
<circle cx="434.45" cy="116.05" r="0.6" fill="#fff"/>
<circle cx="434.76" cy="113.76" r="0.6" fill="#fff"/>
<circle cx="435.11" cy="111.46" r="0.6" fill="#fff"/>
<circle cx="435.51" cy="109.18" r="0.6" fill="#fff"/>
<circle cx="435.94" cy="106.90" r="0.6" fill="#fff"/>
<circle cx="436.43" cy="104.63" r="0.6" fill="#fff"/>
<circle cx="436.98" cy="102.38" r="0.6" fill="#fff"/>
<circle cx="437.58" cy="100.14" r="0.6" fill="#fff"/>
<circle cx="438.26" cy="97.92" r="0.6" fill="#fff"/>
<circle cx="439.00" cy="95.73" r="0.6" fill="#fff"/>
<circle cx="439.82" cy="93.56" r="0.6" fill="#fff"/>
<circle cx="440.72" cy="91.42" r="0.6" fill="#fff"/>
<circle cx="441.71" cy="89.32" r="0.6" fill="#fff"/>
<circle cx="442.75" cy="87.30" r="0.6" fill="#fff"/>
<circle cx="443.91" cy="85.29" r="0.6" fill="#fff"/>
<circle cx="445.16" cy="83.34" r="0.6" fill="#fff"/>
<circle cx="446.49" cy="81.44" r="0.6" fill="#fff"/>
<circle cx="447.90" cy="79.60" r="0.6" fill="#fff"/>
<circle cx="449.40" cy="77.83" r="0.6" fill="#fff"/>
<circle cx="450.97" cy="76.12" r="0.6" fill="#fff"/>
<circle cx="452.61" cy="74.48" r="0.6" fill="#fff"/>
<circle cx="454.31" cy="72.91" r="0.6" fill="#fff"/>
<circle cx="456.08" cy="71.41" r="0.6" fill="#fff"/>
<circle cx="457.90" cy="69.97" r="0.6" fill="#fff"/>
<circle cx="459.76" cy="68.59" r="0.6" fill="#fff"/>
<circle cx="461.67" cy="67.28" r="0.6" fill="#fff"/>
<circle cx="463.62" cy="66.02" r="0.6" fill="#fff"/>
<circle cx="465.60" cy="64.81" r="0.6" fill="#fff"/>
<circle cx="467.62" cy="63.67" r="0.6" fill="#fff"/>
<circle cx="469.62" cy="62.58" r="0.6" fill="#fff"/>
<circle cx="471.68" cy="61.53" r="0.6" fill="#fff"/>
<circle cx="473.77" cy="60.51" r="0.6" fill="#fff"/>
<circle cx="475.87" cy="59.54" r="0.6" fill="#fff"/>
<circle cx="477.99" cy="58.60" r="0.6" fill="#fff"/>
<circle cx="480.13" cy="57.70" r="0.6" fill="#fff"/>
<circle cx="482.28" cy="56.84" r="0.6" fill="#fff"/>
<circle cx="484.45" cy="56.00" r="0.6" fill="#fff"/>
<circle cx="486.62" cy="55.20" r="0.6" fill="#fff"/>
<circle cx="488.81" cy="54.42" r="0.6" fill="#fff"/>
<circle cx="491.00" cy="53.67" r="0.6" fill="#fff"/>
<circle cx="493.20" cy="52.95" r="0.6" fill="#fff"/>
<circle cx="495.41" cy="52.24" r="0.6" fill="#fff"/>
<circle cx="497.63" cy="51.56" r="0.6" fill="#fff"/>
<circle cx="499.86" cy="50.91" r="0.6" fill="#fff"/>
<circle cx="502.05" cy="50.30" r="0.6" fill="#fff"/>
<circle cx="504.29" cy="49.70" r="0.6" fill="#fff"/>
<circle cx="506.54" cy="49.14" r="0.6" fill="#fff"/>
<circle cx="508.80" cy="48.63" r="0.6" fill="#fff"/>
<circle cx="511.07" cy="48.18" r="0.6" fill="#fff"/>
<circle cx="513.37" cy="47.83" r="0.6" fill="#fff"/>
<circle cx="515.67" cy="47.55" r="0.6" fill="#fff"/>
<circle cx="517.98" cy="47.35" r="0.6" fill="#fff"/>
<circle cx="520.29" cy="47.23" r="0.6" fill="#fff"/>
<circle cx="522.61" cy="47.15" r="0.6" fill="#fff"/>
<circle cx="524.93" cy="47.10" r="0.6" fill="#fff"/>
<circle cx="527.25" cy="47.08" r="0.6" fill="#fff"/>
<circle cx="529.57" cy="47.06" r="0.6" fill="#fff"/>
<circle cx="531.89" cy="47.05" r="0.6" fill="#fff"/>
<circle cx="534.21" cy="47.04" r="0.6" fill="#fff"/>
<circle cx="536.52" cy="47.04" r="0.6" fill="#fff"/>
<polyline points="429.50,128.00 429.50,176.00 431.00,188.00 431.00,205.60" fill="none" stroke="#3c3ce6" stroke-width="2.3" stroke-linejoin="round" stroke-linecap="round" />
<polyline points="433.80,128.00 433.80,176.00 433.30,188.00 433.30,205.60" fill="none" stroke="#3c3ce6" stroke-width="2.3" stroke-linejoin="round" stroke-linecap="round" />
<rect x="431" y="186" width="2.3" height="19.6" fill="#3c3ce6"/>
<polyline points="429.50,140.00 430.23,153.17" fill="none" stroke="#3c3ce6" stroke-width="1.6" stroke-linejoin="round" stroke-linecap="round" />
<polyline points="430.23,153.17 430.18,152.40 430.12,151.63 430.07,150.86 430.01,150.09 429.96,149.32 429.90,148.55 429.84,147.78 429.78,147.01 429.71,146.24 429.64,145.48 429.58,144.71 429.51,143.94 429.43,143.17 429.36,142.40 429.28,141.63 429.20,140.86 429.12,140.09 429.04,139.32 428.95,138.55 428.86,137.78 428.77,137.02 428.67,136.25 428.58,135.48 428.48,134.71 428.37,133.94 428.27,133.17 428.16,132.40 428.04,131.63 427.93,130.86 427.81,130.09 427.68,129.32 427.55,128.56 427.42,127.79 427.29,127.02 427.15,126.25 427.00,125.48 426.86,124.71 426.70,123.94 426.55,123.17 426.38,122.40 426.22,121.63 426.05,120.87 425.87,120.10 425.69,119.33 425.50,118.56 425.30,117.79 425.11,117.02 424.90,116.25 424.69,115.48 424.47,114.71 424.25,113.94 424.01,113.17 423.77,112.41 423.53,111.64 423.28,110.87 423.01,110.10 422.75,109.33 422.47,108.56 422.18,107.79 421.89,107.02 421.59,106.25 421.27,105.48 420.95,104.72 420.62,103.95 420.28,103.18 419.93,102.41 419.57,101.64 419.19,100.87 418.81,100.10 418.41,99.33 418.01,98.56 417.59,97.79 417.15,97.02 416.71,96.26 416.25,95.49 415.77,94.72 415.28,93.95 414.78,93.18 414.26,92.41 413.73,91.64 413.18,90.87 412.61,90.10 412.03,89.33 411.43,88.56 410.81,87.80 410.17,87.03 409.51,86.26 408.84,85.49 408.14,84.72 407.42,83.95 406.68,83.18 405.92,82.41 405.13,81.64 404.32,80.87 403.49,80.11 402.63,79.34 401.74,78.57 400.83,77.80 399.89,77.03 398.92,76.26 397.92,75.49 396.89,74.72 395.84,73.95 394.74,73.18 393.62,72.41 392.46,71.65 391.27,70.88 390.04,70.11 388.77,69.34 387.47,68.57 386.12,67.80 384.74,67.03 383.31,66.26 381.84,65.49 380.33,64.72 378.77,63.96 377.16,63.19 375.50,62.42 373.80,61.65 372.04,60.88 370.23,60.11 368.36,59.34 366.44,58.57 364.46,57.80 362.42,57.03 360.32,56.26 358.15,55.50 355.92,54.73 353.62,53.96 351.25,53.19 348.81,52.42 346.30,51.65 343.71,50.88 341.04,50.11 338.29,49.34 335.46,48.57 332.54,47.80 329.54,47.04 326.44,46.27" fill="none" stroke="#3c3ce6" stroke-width="1.2" stroke-linejoin="round" stroke-linecap="round" />
<circle cx="430.23" cy="153.17" r="1.45" fill="none" stroke="#3c3ce6" stroke-width="1.0"/>
<circle cx="430.06" cy="150.74" r="1.45" fill="none" stroke="#3c3ce6" stroke-width="1.0"/>
<circle cx="429.88" cy="148.27" r="1.45" fill="none" stroke="#3c3ce6" stroke-width="1.0"/>
<circle cx="429.67" cy="145.80" r="1.45" fill="none" stroke="#3c3ce6" stroke-width="1.0"/>
<circle cx="429.45" cy="143.38" r="1.45" fill="none" stroke="#3c3ce6" stroke-width="1.0"/>
<circle cx="429.21" cy="140.92" r="1.45" fill="none" stroke="#3c3ce6" stroke-width="1.0"/>
<circle cx="428.94" cy="138.46" r="1.45" fill="none" stroke="#3c3ce6" stroke-width="1.0"/>
<circle cx="428.65" cy="136.04" r="1.45" fill="none" stroke="#3c3ce6" stroke-width="1.0"/>
<circle cx="428.32" cy="133.59" r="1.45" fill="none" stroke="#3c3ce6" stroke-width="1.0"/>
<circle cx="427.97" cy="131.14" r="1.45" fill="none" stroke="#3c3ce6" stroke-width="1.0"/>
<circle cx="427.58" cy="128.73" r="1.45" fill="none" stroke="#3c3ce6" stroke-width="1.0"/>
<circle cx="427.16" cy="126.30" r="1.45" fill="none" stroke="#3c3ce6" stroke-width="1.0"/>
<circle cx="426.69" cy="123.87" r="1.45" fill="none" stroke="#3c3ce6" stroke-width="1.0"/>
<circle cx="426.18" cy="121.49" r="1.45" fill="none" stroke="#3c3ce6" stroke-width="1.0"/>
<circle cx="425.63" cy="119.08" r="1.45" fill="none" stroke="#3c3ce6" stroke-width="1.0"/>
<circle cx="425.01" cy="116.68" r="1.45" fill="none" stroke="#3c3ce6" stroke-width="1.0"/>
<circle cx="424.36" cy="114.33" r="1.45" fill="none" stroke="#3c3ce6" stroke-width="1.0"/>
<circle cx="423.63" cy="111.97" r="1.45" fill="none" stroke="#3c3ce6" stroke-width="1.0"/>
<circle cx="422.85" cy="109.62" r="1.45" fill="none" stroke="#3c3ce6" stroke-width="1.0"/>
<circle cx="422.00" cy="107.30" r="1.45" fill="none" stroke="#3c3ce6" stroke-width="1.0"/>
<circle cx="421.09" cy="105.04" r="1.45" fill="none" stroke="#3c3ce6" stroke-width="1.0"/>
<circle cx="420.10" cy="102.77" r="1.45" fill="none" stroke="#3c3ce6" stroke-width="1.0"/>
<circle cx="419.03" cy="100.54" r="1.45" fill="none" stroke="#3c3ce6" stroke-width="1.0"/>
<circle cx="417.91" cy="98.38" r="1.45" fill="none" stroke="#3c3ce6" stroke-width="1.0"/>
<circle cx="416.69" cy="96.23" r="1.45" fill="none" stroke="#3c3ce6" stroke-width="1.0"/>
<circle cx="415.39" cy="94.12" r="1.45" fill="none" stroke="#3c3ce6" stroke-width="1.0"/>
<circle cx="414.04" cy="92.09" r="1.45" fill="none" stroke="#3c3ce6" stroke-width="1.0"/>
<circle cx="412.60" cy="90.08" r="1.45" fill="none" stroke="#3c3ce6" stroke-width="1.0"/>
<circle cx="411.08" cy="88.13" r="1.45" fill="none" stroke="#3c3ce6" stroke-width="1.0"/>
<circle cx="409.52" cy="86.26" r="1.45" fill="none" stroke="#3c3ce6" stroke-width="1.0"/>
<circle cx="407.86" cy="84.42" r="1.45" fill="none" stroke="#3c3ce6" stroke-width="1.0"/>
<circle cx="406.15" cy="82.64" r="1.45" fill="none" stroke="#3c3ce6" stroke-width="1.0"/>
<circle cx="404.40" cy="80.95" r="1.45" fill="none" stroke="#3c3ce6" stroke-width="1.0"/>
<circle cx="402.57" cy="79.28" r="1.45" fill="none" stroke="#3c3ce6" stroke-width="1.0"/>
<circle cx="400.68" cy="77.68" r="1.45" fill="none" stroke="#3c3ce6" stroke-width="1.0"/>
<circle cx="398.75" cy="76.13" r="1.45" fill="none" stroke="#3c3ce6" stroke-width="1.0"/>
<circle cx="396.81" cy="74.66" r="1.45" fill="none" stroke="#3c3ce6" stroke-width="1.0"/>
<circle cx="394.80" cy="73.22" r="1.45" fill="none" stroke="#3c3ce6" stroke-width="1.0"/>
<circle cx="392.75" cy="71.84" r="1.45" fill="none" stroke="#3c3ce6" stroke-width="1.0"/>
<circle cx="390.70" cy="70.52" r="1.45" fill="none" stroke="#3c3ce6" stroke-width="1.0"/>
<circle cx="388.59" cy="69.23" r="1.45" fill="none" stroke="#3c3ce6" stroke-width="1.0"/>
<circle cx="386.45" cy="67.99" r="1.45" fill="none" stroke="#3c3ce6" stroke-width="1.0"/>
<circle cx="384.32" cy="66.81" r="1.45" fill="none" stroke="#3c3ce6" stroke-width="1.0"/>
<circle cx="382.14" cy="65.65" r="1.45" fill="none" stroke="#3c3ce6" stroke-width="1.0"/>
<circle cx="379.93" cy="64.53" r="1.45" fill="none" stroke="#3c3ce6" stroke-width="1.0"/>
<circle cx="377.74" cy="63.46" r="1.45" fill="none" stroke="#3c3ce6" stroke-width="1.0"/>
<circle cx="375.50" cy="62.41" r="1.45" fill="none" stroke="#3c3ce6" stroke-width="1.0"/>
<circle cx="373.24" cy="61.40" r="1.45" fill="none" stroke="#3c3ce6" stroke-width="1.0"/>
<circle cx="371.01" cy="60.44" r="1.45" fill="none" stroke="#3c3ce6" stroke-width="1.0"/>
<circle cx="368.72" cy="59.49" r="1.45" fill="none" stroke="#3c3ce6" stroke-width="1.0"/>
<circle cx="366.42" cy="58.57" r="1.45" fill="none" stroke="#3c3ce6" stroke-width="1.0"/>
<circle cx="364.12" cy="57.67" r="1.45" fill="none" stroke="#3c3ce6" stroke-width="1.0"/>
<circle cx="361.84" cy="56.82" r="1.45" fill="none" stroke="#3c3ce6" stroke-width="1.0"/>
<circle cx="359.51" cy="55.98" r="1.45" fill="none" stroke="#3c3ce6" stroke-width="1.0"/>
<circle cx="357.17" cy="55.16" r="1.45" fill="none" stroke="#3c3ce6" stroke-width="1.0"/>
<circle cx="354.87" cy="54.38" r="1.45" fill="none" stroke="#3c3ce6" stroke-width="1.0"/>
<circle cx="352.52" cy="53.60" r="1.45" fill="none" stroke="#3c3ce6" stroke-width="1.0"/>
<circle cx="350.16" cy="52.85" r="1.45" fill="none" stroke="#3c3ce6" stroke-width="1.0"/>
<circle cx="347.84" cy="52.12" r="1.45" fill="none" stroke="#3c3ce6" stroke-width="1.0"/>
<circle cx="345.47" cy="51.40" r="1.45" fill="none" stroke="#3c3ce6" stroke-width="1.0"/>
<circle cx="343.10" cy="50.70" r="1.45" fill="none" stroke="#3c3ce6" stroke-width="1.0"/>
<circle cx="340.76" cy="50.03" r="1.45" fill="none" stroke="#3c3ce6" stroke-width="1.0"/>
<circle cx="338.37" cy="49.37" r="1.45" fill="none" stroke="#3c3ce6" stroke-width="1.0"/>
<circle cx="335.99" cy="48.72" r="1.45" fill="none" stroke="#3c3ce6" stroke-width="1.0"/>
<circle cx="333.63" cy="48.09" r="1.45" fill="none" stroke="#3c3ce6" stroke-width="1.0"/>
<circle cx="331.24" cy="47.47" r="1.45" fill="none" stroke="#3c3ce6" stroke-width="1.0"/>
<circle cx="328.84" cy="46.86" r="1.45" fill="none" stroke="#3c3ce6" stroke-width="1.0"/>
<circle cx="326.44" cy="46.27" r="1.45" fill="none" stroke="#3c3ce6" stroke-width="1.0"/>
<circle cx="430.23" cy="153.17" r="0.95" fill="#fff"/>
<circle cx="430.06" cy="150.74" r="0.95" fill="#fff"/>
<circle cx="429.88" cy="148.27" r="0.95" fill="#fff"/>
<circle cx="429.67" cy="145.80" r="0.95" fill="#fff"/>
<circle cx="429.45" cy="143.38" r="0.95" fill="#fff"/>
<circle cx="429.21" cy="140.92" r="0.95" fill="#fff"/>
<circle cx="428.94" cy="138.46" r="0.95" fill="#fff"/>
<circle cx="428.65" cy="136.04" r="0.95" fill="#fff"/>
<circle cx="428.32" cy="133.59" r="0.95" fill="#fff"/>
<circle cx="427.97" cy="131.14" r="0.95" fill="#fff"/>
<circle cx="427.58" cy="128.73" r="0.95" fill="#fff"/>
<circle cx="427.16" cy="126.30" r="0.95" fill="#fff"/>
<circle cx="426.69" cy="123.87" r="0.95" fill="#fff"/>
<circle cx="426.18" cy="121.49" r="0.95" fill="#fff"/>
<circle cx="425.63" cy="119.08" r="0.95" fill="#fff"/>
<circle cx="425.01" cy="116.68" r="0.95" fill="#fff"/>
<circle cx="424.36" cy="114.33" r="0.95" fill="#fff"/>
<circle cx="423.63" cy="111.97" r="0.95" fill="#fff"/>
<circle cx="422.85" cy="109.62" r="0.95" fill="#fff"/>
<circle cx="422.00" cy="107.30" r="0.95" fill="#fff"/>
<circle cx="421.09" cy="105.04" r="0.95" fill="#fff"/>
<circle cx="420.10" cy="102.77" r="0.95" fill="#fff"/>
<circle cx="419.03" cy="100.54" r="0.95" fill="#fff"/>
<circle cx="417.91" cy="98.38" r="0.95" fill="#fff"/>
<circle cx="416.69" cy="96.23" r="0.95" fill="#fff"/>
<circle cx="415.39" cy="94.12" r="0.95" fill="#fff"/>
<circle cx="414.04" cy="92.09" r="0.95" fill="#fff"/>
<circle cx="412.60" cy="90.08" r="0.95" fill="#fff"/>
<circle cx="411.08" cy="88.13" r="0.95" fill="#fff"/>
<circle cx="409.52" cy="86.26" r="0.95" fill="#fff"/>
<circle cx="407.86" cy="84.42" r="0.95" fill="#fff"/>
<circle cx="406.15" cy="82.64" r="0.95" fill="#fff"/>
<circle cx="404.40" cy="80.95" r="0.95" fill="#fff"/>
<circle cx="402.57" cy="79.28" r="0.95" fill="#fff"/>
<circle cx="400.68" cy="77.68" r="0.95" fill="#fff"/>
<circle cx="398.75" cy="76.13" r="0.95" fill="#fff"/>
<circle cx="396.81" cy="74.66" r="0.95" fill="#fff"/>
<circle cx="394.80" cy="73.22" r="0.95" fill="#fff"/>
<circle cx="392.75" cy="71.84" r="0.95" fill="#fff"/>
<circle cx="390.70" cy="70.52" r="0.95" fill="#fff"/>
<circle cx="388.59" cy="69.23" r="0.95" fill="#fff"/>
<circle cx="386.45" cy="67.99" r="0.95" fill="#fff"/>
<circle cx="384.32" cy="66.81" r="0.95" fill="#fff"/>
<circle cx="382.14" cy="65.65" r="0.95" fill="#fff"/>
<circle cx="379.93" cy="64.53" r="0.95" fill="#fff"/>
<circle cx="377.74" cy="63.46" r="0.95" fill="#fff"/>
<circle cx="375.50" cy="62.41" r="0.95" fill="#fff"/>
<circle cx="373.24" cy="61.40" r="0.95" fill="#fff"/>
<circle cx="371.01" cy="60.44" r="0.95" fill="#fff"/>
<circle cx="368.72" cy="59.49" r="0.95" fill="#fff"/>
<circle cx="366.42" cy="58.57" r="0.95" fill="#fff"/>
<circle cx="364.12" cy="57.67" r="0.95" fill="#fff"/>
<circle cx="361.84" cy="56.82" r="0.95" fill="#fff"/>
<circle cx="359.51" cy="55.98" r="0.95" fill="#fff"/>
<circle cx="357.17" cy="55.16" r="0.95" fill="#fff"/>
<circle cx="354.87" cy="54.38" r="0.95" fill="#fff"/>
<circle cx="352.52" cy="53.60" r="0.95" fill="#fff"/>
<circle cx="350.16" cy="52.85" r="0.95" fill="#fff"/>
<circle cx="347.84" cy="52.12" r="0.95" fill="#fff"/>
<circle cx="345.47" cy="51.40" r="0.95" fill="#fff"/>
<circle cx="343.10" cy="50.70" r="0.95" fill="#fff"/>
<circle cx="340.76" cy="50.03" r="0.95" fill="#fff"/>
<circle cx="338.37" cy="49.37" r="0.95" fill="#fff"/>
<circle cx="335.99" cy="48.72" r="0.95" fill="#fff"/>
<circle cx="333.63" cy="48.09" r="0.95" fill="#fff"/>
<circle cx="331.24" cy="47.47" r="0.95" fill="#fff"/>
<circle cx="328.84" cy="46.86" r="0.95" fill="#fff"/>
<circle cx="326.44" cy="46.27" r="0.95" fill="#fff"/>
<polyline points="433.80,140.00 433.57,161.56" fill="none" stroke="#3c3ce6" stroke-width="1.6" stroke-linejoin="round" stroke-linecap="round" />
<polyline points="433.57,161.56 433.63,160.63 433.69,159.69 433.75,158.75 433.81,157.81 433.88,156.87 433.95,155.93 434.02,154.99 434.09,154.05 434.16,153.11 434.24,152.17 434.32,151.24 434.40,150.30 434.49,149.36 434.58,148.42 434.67,147.48 434.76,146.54 434.86,145.60 434.96,144.66 435.07,143.72 435.17,142.79 435.29,141.85 435.40,140.91 435.52,139.97 435.65,139.03 435.77,138.09 435.91,137.15 436.04,136.21 436.18,135.27 436.33,134.34 436.48,133.40 436.64,132.46 436.80,131.52 436.97,130.58 437.14,129.64 437.32,128.70 437.50,127.76 437.69,126.82 437.89,125.88 438.09,124.95 438.31,124.01 438.52,123.07 438.75,122.13 438.98,121.19 439.23,120.25 439.48,119.31 439.73,118.37 440.00,117.43 440.28,116.50 440.56,115.56 440.86,114.62 441.17,113.68 441.48,112.74 441.81,111.80 442.15,110.86 442.50,109.92 442.86,108.98 443.23,108.05 443.62,107.11 444.02,106.17 444.43,105.23 444.86,104.29 445.30,103.35 445.76,102.41 446.23,101.47 446.72,100.53 447.23,99.59 447.75,98.66 448.29,97.72 448.85,96.78 449.43,95.84 450.03,94.90 450.65,93.96 451.28,93.02 451.95,92.08 452.63,91.14 453.34,90.21 454.07,89.27 454.83,88.33 455.61,87.39 456.42,86.45 457.25,85.51 458.12,84.57 459.01,83.63 459.94,82.69 460.89,81.75 461.88,80.82 462.91,79.88 463.96,78.94 465.06,78.00 466.19,77.06 467.36,76.12 468.57,75.18 469.82,74.24 471.12,73.30 472.45,72.37 473.84,71.43 475.27,70.49 476.75,69.55 478.28,68.61 479.86,67.67 481.50,66.73 483.19,65.79 484.94,64.85 486.75,63.92 488.62,62.98 490.56,62.04 492.56,61.10 494.63,60.16 496.77,59.22 497.60,58.76 498.60,58.00 499.60,57.08 500.60,56.06 501.60,55.00 502.59,53.96 503.59,52.99 504.59,52.13 505.59,51.42 506.59,50.91 507.58,50.60 508.58,50.35 509.58,50.10 510.58,49.86 511.58,49.62 512.57,49.39 513.57,49.17 514.57,48.95 515.57,48.75 516.57,48.55 517.56,48.37 518.56,48.20 519.56,48.04 520.56,47.90 521.56,47.77 522.55,47.65 523.55,47.55 524.55,47.47 525.55,47.39 526.55,47.33 527.54,47.28 528.54,47.23 529.54,47.20 530.54,47.17 531.54,47.14 532.53,47.12 533.53,47.11 534.53,47.09 535.53,47.08 536.52,47.07" fill="none" stroke="#3c3ce6" stroke-width="1.2" stroke-linejoin="round" stroke-linecap="round" />
<circle cx="433.57" cy="161.56" r="1.45" fill="none" stroke="#3c3ce6" stroke-width="1.0"/>
<circle cx="433.73" cy="159.11" r="1.45" fill="none" stroke="#3c3ce6" stroke-width="1.0"/>
<circle cx="433.89" cy="156.66" r="1.45" fill="none" stroke="#3c3ce6" stroke-width="1.0"/>
<circle cx="434.08" cy="154.21" r="1.45" fill="none" stroke="#3c3ce6" stroke-width="1.0"/>
<circle cx="434.28" cy="151.76" r="1.45" fill="none" stroke="#3c3ce6" stroke-width="1.0"/>
<circle cx="434.49" cy="149.31" r="1.45" fill="none" stroke="#3c3ce6" stroke-width="1.0"/>
<circle cx="434.73" cy="146.87" r="1.45" fill="none" stroke="#3c3ce6" stroke-width="1.0"/>
<circle cx="434.99" cy="144.43" r="1.45" fill="none" stroke="#3c3ce6" stroke-width="1.0"/>
<circle cx="435.28" cy="141.94" r="1.45" fill="none" stroke="#3c3ce6" stroke-width="1.0"/>
<circle cx="435.58" cy="139.50" r="1.45" fill="none" stroke="#3c3ce6" stroke-width="1.0"/>
<circle cx="435.92" cy="137.07" r="1.45" fill="none" stroke="#3c3ce6" stroke-width="1.0"/>
<circle cx="436.28" cy="134.64" r="1.45" fill="none" stroke="#3c3ce6" stroke-width="1.0"/>
<circle cx="436.68" cy="132.22" r="1.45" fill="none" stroke="#3c3ce6" stroke-width="1.0"/>
<circle cx="437.11" cy="129.80" r="1.45" fill="none" stroke="#3c3ce6" stroke-width="1.0"/>
<circle cx="437.58" cy="127.39" r="1.45" fill="none" stroke="#3c3ce6" stroke-width="1.0"/>
<circle cx="438.09" cy="124.98" r="1.45" fill="none" stroke="#3c3ce6" stroke-width="1.0"/>
<circle cx="438.65" cy="122.55" r="1.45" fill="none" stroke="#3c3ce6" stroke-width="1.0"/>
<circle cx="439.25" cy="120.16" r="1.45" fill="none" stroke="#3c3ce6" stroke-width="1.0"/>
<circle cx="439.90" cy="117.79" r="1.45" fill="none" stroke="#3c3ce6" stroke-width="1.0"/>
<circle cx="440.60" cy="115.44" r="1.45" fill="none" stroke="#3c3ce6" stroke-width="1.0"/>
<circle cx="441.36" cy="113.10" r="1.45" fill="none" stroke="#3c3ce6" stroke-width="1.0"/>
<circle cx="442.18" cy="110.79" r="1.45" fill="none" stroke="#3c3ce6" stroke-width="1.0"/>
<circle cx="443.05" cy="108.49" r="1.45" fill="none" stroke="#3c3ce6" stroke-width="1.0"/>
<circle cx="444.00" cy="106.22" r="1.45" fill="none" stroke="#3c3ce6" stroke-width="1.0"/>
<circle cx="445.02" cy="103.94" r="1.45" fill="none" stroke="#3c3ce6" stroke-width="1.0"/>
<circle cx="446.10" cy="101.73" r="1.45" fill="none" stroke="#3c3ce6" stroke-width="1.0"/>
<circle cx="447.25" cy="99.56" r="1.45" fill="none" stroke="#3c3ce6" stroke-width="1.0"/>
<circle cx="448.46" cy="97.43" r="1.45" fill="none" stroke="#3c3ce6" stroke-width="1.0"/>
<circle cx="449.75" cy="95.33" r="1.45" fill="none" stroke="#3c3ce6" stroke-width="1.0"/>
<circle cx="451.11" cy="93.29" r="1.45" fill="none" stroke="#3c3ce6" stroke-width="1.0"/>
<circle cx="452.53" cy="91.28" r="1.45" fill="none" stroke="#3c3ce6" stroke-width="1.0"/>
<circle cx="454.02" cy="89.33" r="1.45" fill="none" stroke="#3c3ce6" stroke-width="1.0"/>
<circle cx="455.60" cy="87.39" r="1.45" fill="none" stroke="#3c3ce6" stroke-width="1.0"/>
<circle cx="457.22" cy="85.55" r="1.45" fill="none" stroke="#3c3ce6" stroke-width="1.0"/>
<circle cx="458.90" cy="83.75" r="1.45" fill="none" stroke="#3c3ce6" stroke-width="1.0"/>
<circle cx="460.63" cy="82.01" r="1.45" fill="none" stroke="#3c3ce6" stroke-width="1.0"/>
<circle cx="462.42" cy="80.32" r="1.45" fill="none" stroke="#3c3ce6" stroke-width="1.0"/>
<circle cx="464.25" cy="78.69" r="1.45" fill="none" stroke="#3c3ce6" stroke-width="1.0"/>
<circle cx="466.13" cy="77.11" r="1.45" fill="none" stroke="#3c3ce6" stroke-width="1.0"/>
<circle cx="468.09" cy="75.55" r="1.45" fill="none" stroke="#3c3ce6" stroke-width="1.0"/>
<circle cx="470.05" cy="74.08" r="1.45" fill="none" stroke="#3c3ce6" stroke-width="1.0"/>
<circle cx="472.05" cy="72.65" r="1.45" fill="none" stroke="#3c3ce6" stroke-width="1.0"/>
<circle cx="474.08" cy="71.26" r="1.45" fill="none" stroke="#3c3ce6" stroke-width="1.0"/>
<circle cx="476.15" cy="69.93" r="1.45" fill="none" stroke="#3c3ce6" stroke-width="1.0"/>
<circle cx="478.24" cy="68.64" r="1.45" fill="none" stroke="#3c3ce6" stroke-width="1.0"/>
<circle cx="480.35" cy="67.39" r="1.45" fill="none" stroke="#3c3ce6" stroke-width="1.0"/>
<circle cx="482.49" cy="66.18" r="1.45" fill="none" stroke="#3c3ce6" stroke-width="1.0"/>
<circle cx="484.69" cy="64.99" r="1.45" fill="none" stroke="#3c3ce6" stroke-width="1.0"/>
<circle cx="486.87" cy="63.86" r="1.45" fill="none" stroke="#3c3ce6" stroke-width="1.0"/>
<circle cx="489.07" cy="62.76" r="1.45" fill="none" stroke="#3c3ce6" stroke-width="1.0"/>
<circle cx="491.28" cy="61.70" r="1.45" fill="none" stroke="#3c3ce6" stroke-width="1.0"/>
<circle cx="493.51" cy="60.67" r="1.45" fill="none" stroke="#3c3ce6" stroke-width="1.0"/>
<circle cx="495.76" cy="59.66" r="1.45" fill="none" stroke="#3c3ce6" stroke-width="1.0"/>
<circle cx="497.92" cy="58.52" r="1.45" fill="none" stroke="#3c3ce6" stroke-width="1.0"/>
<circle cx="499.77" cy="56.91" r="1.45" fill="none" stroke="#3c3ce6" stroke-width="1.0"/>
<circle cx="501.50" cy="55.10" r="1.45" fill="none" stroke="#3c3ce6" stroke-width="1.0"/>
<circle cx="503.22" cy="53.35" r="1.45" fill="none" stroke="#3c3ce6" stroke-width="1.0"/>
<circle cx="505.10" cy="51.77" r="1.45" fill="none" stroke="#3c3ce6" stroke-width="1.0"/>
<circle cx="507.29" cy="50.70" r="1.45" fill="none" stroke="#3c3ce6" stroke-width="1.0"/>
<circle cx="509.67" cy="50.08" r="1.45" fill="none" stroke="#3c3ce6" stroke-width="1.0"/>
<circle cx="512.06" cy="49.51" r="1.45" fill="none" stroke="#3c3ce6" stroke-width="1.0"/>
<circle cx="514.46" cy="48.98" r="1.45" fill="none" stroke="#3c3ce6" stroke-width="1.0"/>
<circle cx="516.86" cy="48.50" r="1.45" fill="none" stroke="#3c3ce6" stroke-width="1.0"/>
<circle cx="519.33" cy="48.08" r="1.45" fill="none" stroke="#3c3ce6" stroke-width="1.0"/>
<circle cx="521.76" cy="47.74" r="1.45" fill="none" stroke="#3c3ce6" stroke-width="1.0"/>
<circle cx="524.21" cy="47.50" r="1.45" fill="none" stroke="#3c3ce6" stroke-width="1.0"/>
<circle cx="526.66" cy="47.32" r="1.45" fill="none" stroke="#3c3ce6" stroke-width="1.0"/>
<circle cx="529.11" cy="47.21" r="1.45" fill="none" stroke="#3c3ce6" stroke-width="1.0"/>
<circle cx="531.57" cy="47.14" r="1.45" fill="none" stroke="#3c3ce6" stroke-width="1.0"/>
<circle cx="534.03" cy="47.10" r="1.45" fill="none" stroke="#3c3ce6" stroke-width="1.0"/>
<circle cx="536.52" cy="47.07" r="1.45" fill="none" stroke="#3c3ce6" stroke-width="1.0"/>
<circle cx="433.57" cy="161.56" r="0.95" fill="#fff"/>
<circle cx="433.73" cy="159.11" r="0.95" fill="#fff"/>
<circle cx="433.89" cy="156.66" r="0.95" fill="#fff"/>
<circle cx="434.08" cy="154.21" r="0.95" fill="#fff"/>
<circle cx="434.28" cy="151.76" r="0.95" fill="#fff"/>
<circle cx="434.49" cy="149.31" r="0.95" fill="#fff"/>
<circle cx="434.73" cy="146.87" r="0.95" fill="#fff"/>
<circle cx="434.99" cy="144.43" r="0.95" fill="#fff"/>
<circle cx="435.28" cy="141.94" r="0.95" fill="#fff"/>
<circle cx="435.58" cy="139.50" r="0.95" fill="#fff"/>
<circle cx="435.92" cy="137.07" r="0.95" fill="#fff"/>
<circle cx="436.28" cy="134.64" r="0.95" fill="#fff"/>
<circle cx="436.68" cy="132.22" r="0.95" fill="#fff"/>
<circle cx="437.11" cy="129.80" r="0.95" fill="#fff"/>
<circle cx="437.58" cy="127.39" r="0.95" fill="#fff"/>
<circle cx="438.09" cy="124.98" r="0.95" fill="#fff"/>
<circle cx="438.65" cy="122.55" r="0.95" fill="#fff"/>
<circle cx="439.25" cy="120.16" r="0.95" fill="#fff"/>
<circle cx="439.90" cy="117.79" r="0.95" fill="#fff"/>
<circle cx="440.60" cy="115.44" r="0.95" fill="#fff"/>
<circle cx="441.36" cy="113.10" r="0.95" fill="#fff"/>
<circle cx="442.18" cy="110.79" r="0.95" fill="#fff"/>
<circle cx="443.05" cy="108.49" r="0.95" fill="#fff"/>
<circle cx="444.00" cy="106.22" r="0.95" fill="#fff"/>
<circle cx="445.02" cy="103.94" r="0.95" fill="#fff"/>
<circle cx="446.10" cy="101.73" r="0.95" fill="#fff"/>
<circle cx="447.25" cy="99.56" r="0.95" fill="#fff"/>
<circle cx="448.46" cy="97.43" r="0.95" fill="#fff"/>
<circle cx="449.75" cy="95.33" r="0.95" fill="#fff"/>
<circle cx="451.11" cy="93.29" r="0.95" fill="#fff"/>
<circle cx="452.53" cy="91.28" r="0.95" fill="#fff"/>
<circle cx="454.02" cy="89.33" r="0.95" fill="#fff"/>
<circle cx="455.60" cy="87.39" r="0.95" fill="#fff"/>
<circle cx="457.22" cy="85.55" r="0.95" fill="#fff"/>
<circle cx="458.90" cy="83.75" r="0.95" fill="#fff"/>
<circle cx="460.63" cy="82.01" r="0.95" fill="#fff"/>
<circle cx="462.42" cy="80.32" r="0.95" fill="#fff"/>
<circle cx="464.25" cy="78.69" r="0.95" fill="#fff"/>
<circle cx="466.13" cy="77.11" r="0.95" fill="#fff"/>
<circle cx="468.09" cy="75.55" r="0.95" fill="#fff"/>
<circle cx="470.05" cy="74.08" r="0.95" fill="#fff"/>
<circle cx="472.05" cy="72.65" r="0.95" fill="#fff"/>
<circle cx="474.08" cy="71.26" r="0.95" fill="#fff"/>
<circle cx="476.15" cy="69.93" r="0.95" fill="#fff"/>
<circle cx="478.24" cy="68.64" r="0.95" fill="#fff"/>
<circle cx="480.35" cy="67.39" r="0.95" fill="#fff"/>
<circle cx="482.49" cy="66.18" r="0.95" fill="#fff"/>
<circle cx="484.69" cy="64.99" r="0.95" fill="#fff"/>
<circle cx="486.87" cy="63.86" r="0.95" fill="#fff"/>
<circle cx="489.07" cy="62.76" r="0.95" fill="#fff"/>
<circle cx="491.28" cy="61.70" r="0.95" fill="#fff"/>
<circle cx="493.51" cy="60.67" r="0.95" fill="#fff"/>
<circle cx="495.76" cy="59.66" r="0.95" fill="#fff"/>
<circle cx="497.92" cy="58.52" r="0.95" fill="#fff"/>
<circle cx="499.77" cy="56.91" r="0.95" fill="#fff"/>
<circle cx="501.50" cy="55.10" r="0.95" fill="#fff"/>
<circle cx="503.22" cy="53.35" r="0.95" fill="#fff"/>
<circle cx="505.10" cy="51.77" r="0.95" fill="#fff"/>
<circle cx="507.29" cy="50.70" r="0.95" fill="#fff"/>
<circle cx="509.67" cy="50.08" r="0.95" fill="#fff"/>
<circle cx="512.06" cy="49.51" r="0.95" fill="#fff"/>
<circle cx="514.46" cy="48.98" r="0.95" fill="#fff"/>
<circle cx="516.86" cy="48.50" r="0.95" fill="#fff"/>
<circle cx="519.33" cy="48.08" r="0.95" fill="#fff"/>
<circle cx="521.76" cy="47.74" r="0.95" fill="#fff"/>
<circle cx="524.21" cy="47.50" r="0.95" fill="#fff"/>
<circle cx="526.66" cy="47.32" r="0.95" fill="#fff"/>
<circle cx="529.11" cy="47.21" r="0.95" fill="#fff"/>
<circle cx="531.57" cy="47.14" r="0.95" fill="#fff"/>
<circle cx="534.03" cy="47.10" r="0.95" fill="#fff"/>
<circle cx="536.52" cy="47.07" r="0.95" fill="#fff"/>
<polyline points="429.50,140.00 430.23,127.14" fill="none" stroke="#3c3ce6" stroke-width="1.6" stroke-linejoin="round" stroke-linecap="round" />
<polyline points="430.23,127.14 430.18,126.55 430.12,125.96 430.07,125.37 430.01,124.78 429.96,124.19 429.90,123.60 429.84,123.00 429.78,122.41 429.71,121.82 429.64,121.23 429.58,120.64 429.51,120.05 429.43,119.45 429.36,118.86 429.28,118.27 429.20,117.68 429.12,117.09 429.04,116.50 428.95,115.90 428.86,115.31 428.77,114.72 428.67,114.13 428.58,113.54 428.48,112.95 428.37,112.36 428.27,111.76 428.16,111.17 428.04,110.58 427.93,109.99 427.81,109.40 427.68,108.81 427.55,108.21 427.42,107.62 427.29,107.03 427.15,106.44 427.00,105.85 426.86,105.26 426.70,104.66 426.55,104.07 426.38,103.48 426.22,102.89 426.05,102.30 425.87,101.71 425.69,101.12 425.50,100.52 425.30,99.93 425.11,99.34 424.90,98.75 424.69,98.16 424.47,97.57 424.25,96.97 424.01,96.38 423.77,95.79 423.53,95.20 423.28,94.61 423.01,94.02 422.75,93.42 422.47,92.83 422.18,92.24 421.89,91.65 421.59,91.06 421.27,90.47 420.95,89.88 420.62,89.28 420.28,88.69 419.93,88.10 419.57,87.51 419.19,86.92 418.81,86.33 418.41,85.73 418.01,85.14 417.59,84.55 417.15,83.96 416.71,83.37 416.25,82.78 415.77,82.18 415.28,81.59 414.78,81.00 414.26,80.41 413.73,79.82 413.18,79.23 412.61,78.64 412.03,78.04 411.43,77.45 410.81,76.86 410.17,76.27 409.51,75.68 408.84,75.09 408.14,74.49 407.42,73.90 406.68,73.31 405.92,72.72 405.13,72.13 404.32,71.54 403.49,70.94 402.63,70.35 401.74,69.76 400.83,69.17 399.89,68.58 398.92,67.99 397.92,67.40 396.89,66.80 395.84,66.21 394.74,65.62 393.62,65.03 392.46,64.44 391.27,63.85 390.04,63.25 388.77,62.66 387.47,62.07 386.12,61.48 384.74,60.89 383.31,60.30 381.84,59.70 380.33,59.11 378.77,58.52 377.16,57.93 375.50,57.34 373.80,56.75 372.04,56.16 370.23,55.56 368.36,54.97 366.44,54.38 364.46,53.79 362.42,53.20 360.32,52.61 358.15,52.01 355.92,51.42 353.62,50.83 351.25,50.24 348.81,49.65 346.30,49.06 343.71,48.46 341.04,47.87 338.29,47.28 335.46,46.69 332.54,46.10 329.54,45.51 326.44,44.91" fill="none" stroke="#3c3ce6" stroke-width="1.2" stroke-linejoin="round" stroke-linecap="round" />
<circle cx="430.23" cy="127.14" r="1.45" fill="none" stroke="#3c3ce6" stroke-width="1.0"/>
<circle cx="430.01" cy="124.70" r="1.45" fill="none" stroke="#3c3ce6" stroke-width="1.0"/>
<circle cx="429.75" cy="122.22" r="1.45" fill="none" stroke="#3c3ce6" stroke-width="1.0"/>
<circle cx="429.47" cy="119.74" r="1.45" fill="none" stroke="#3c3ce6" stroke-width="1.0"/>
<circle cx="429.15" cy="117.27" r="1.45" fill="none" stroke="#3c3ce6" stroke-width="1.0"/>
<circle cx="428.79" cy="114.84" r="1.45" fill="none" stroke="#3c3ce6" stroke-width="1.0"/>
<circle cx="428.38" cy="112.39" r="1.45" fill="none" stroke="#3c3ce6" stroke-width="1.0"/>
<circle cx="427.92" cy="109.94" r="1.45" fill="none" stroke="#3c3ce6" stroke-width="1.0"/>
<circle cx="427.40" cy="107.50" r="1.45" fill="none" stroke="#3c3ce6" stroke-width="1.0"/>
<circle cx="426.81" cy="105.08" r="1.45" fill="none" stroke="#3c3ce6" stroke-width="1.0"/>
<circle cx="426.17" cy="102.71" r="1.45" fill="none" stroke="#3c3ce6" stroke-width="1.0"/>
<circle cx="425.43" cy="100.33" r="1.45" fill="none" stroke="#3c3ce6" stroke-width="1.0"/>
<circle cx="424.62" cy="97.97" r="1.45" fill="none" stroke="#3c3ce6" stroke-width="1.0"/>
<circle cx="423.72" cy="95.65" r="1.45" fill="none" stroke="#3c3ce6" stroke-width="1.0"/>
<circle cx="422.73" cy="93.40" r="1.45" fill="none" stroke="#3c3ce6" stroke-width="1.0"/>
<circle cx="421.64" cy="91.16" r="1.45" fill="none" stroke="#3c3ce6" stroke-width="1.0"/>
<circle cx="420.44" cy="88.97" r="1.45" fill="none" stroke="#3c3ce6" stroke-width="1.0"/>
<circle cx="419.15" cy="86.85" r="1.45" fill="none" stroke="#3c3ce6" stroke-width="1.0"/>
<circle cx="417.75" cy="84.78" r="1.45" fill="none" stroke="#3c3ce6" stroke-width="1.0"/>
<circle cx="416.28" cy="82.82" r="1.45" fill="none" stroke="#3c3ce6" stroke-width="1.0"/>
<circle cx="414.69" cy="80.90" r="1.45" fill="none" stroke="#3c3ce6" stroke-width="1.0"/>
<circle cx="413.02" cy="79.05" r="1.45" fill="none" stroke="#3c3ce6" stroke-width="1.0"/>
<circle cx="411.26" cy="77.29" r="1.45" fill="none" stroke="#3c3ce6" stroke-width="1.0"/>
<circle cx="409.45" cy="75.62" r="1.45" fill="none" stroke="#3c3ce6" stroke-width="1.0"/>
<circle cx="407.55" cy="74.01" r="1.45" fill="none" stroke="#3c3ce6" stroke-width="1.0"/>
<circle cx="405.59" cy="72.47" r="1.45" fill="none" stroke="#3c3ce6" stroke-width="1.0"/>
<circle cx="403.58" cy="71.01" r="1.45" fill="none" stroke="#3c3ce6" stroke-width="1.0"/>
<circle cx="401.51" cy="69.61" r="1.45" fill="none" stroke="#3c3ce6" stroke-width="1.0"/>
<circle cx="399.44" cy="68.30" r="1.45" fill="none" stroke="#3c3ce6" stroke-width="1.0"/>
<circle cx="397.29" cy="67.03" r="1.45" fill="none" stroke="#3c3ce6" stroke-width="1.0"/>
<circle cx="395.11" cy="65.82" r="1.45" fill="none" stroke="#3c3ce6" stroke-width="1.0"/>
<circle cx="392.91" cy="64.66" r="1.45" fill="none" stroke="#3c3ce6" stroke-width="1.0"/>
<circle cx="390.71" cy="63.57" r="1.45" fill="none" stroke="#3c3ce6" stroke-width="1.0"/>
<circle cx="388.45" cy="62.52" r="1.45" fill="none" stroke="#3c3ce6" stroke-width="1.0"/>
<circle cx="386.17" cy="61.50" r="1.45" fill="none" stroke="#3c3ce6" stroke-width="1.0"/>
<circle cx="383.88" cy="60.53" r="1.45" fill="none" stroke="#3c3ce6" stroke-width="1.0"/>
<circle cx="381.57" cy="59.60" r="1.45" fill="none" stroke="#3c3ce6" stroke-width="1.0"/>
<circle cx="379.28" cy="58.71" r="1.45" fill="none" stroke="#3c3ce6" stroke-width="1.0"/>
<circle cx="376.94" cy="57.85" r="1.45" fill="none" stroke="#3c3ce6" stroke-width="1.0"/>
<circle cx="374.59" cy="57.02" r="1.45" fill="none" stroke="#3c3ce6" stroke-width="1.0"/>
<circle cx="372.23" cy="56.22" r="1.45" fill="none" stroke="#3c3ce6" stroke-width="1.0"/>
<circle cx="369.90" cy="55.46" r="1.45" fill="none" stroke="#3c3ce6" stroke-width="1.0"/>
<circle cx="367.52" cy="54.71" r="1.45" fill="none" stroke="#3c3ce6" stroke-width="1.0"/>
<circle cx="365.13" cy="53.99" r="1.45" fill="none" stroke="#3c3ce6" stroke-width="1.0"/>
<circle cx="362.74" cy="53.29" r="1.45" fill="none" stroke="#3c3ce6" stroke-width="1.0"/>
<circle cx="360.34" cy="52.61" r="1.45" fill="none" stroke="#3c3ce6" stroke-width="1.0"/>
<circle cx="357.97" cy="51.97" r="1.45" fill="none" stroke="#3c3ce6" stroke-width="1.0"/>
<circle cx="355.56" cy="51.33" r="1.45" fill="none" stroke="#3c3ce6" stroke-width="1.0"/>
<circle cx="353.15" cy="50.71" r="1.45" fill="none" stroke="#3c3ce6" stroke-width="1.0"/>
<circle cx="350.73" cy="50.11" r="1.45" fill="none" stroke="#3c3ce6" stroke-width="1.0"/>
<circle cx="348.35" cy="49.54" r="1.45" fill="none" stroke="#3c3ce6" stroke-width="1.0"/>
<circle cx="345.92" cy="48.97" r="1.45" fill="none" stroke="#3c3ce6" stroke-width="1.0"/>
<circle cx="343.49" cy="48.42" r="1.45" fill="none" stroke="#3c3ce6" stroke-width="1.0"/>
<circle cx="341.06" cy="47.88" r="1.45" fill="none" stroke="#3c3ce6" stroke-width="1.0"/>
<circle cx="338.62" cy="47.35" r="1.45" fill="none" stroke="#3c3ce6" stroke-width="1.0"/>
<circle cx="336.22" cy="46.85" r="1.45" fill="none" stroke="#3c3ce6" stroke-width="1.0"/>
<circle cx="333.78" cy="46.35" r="1.45" fill="none" stroke="#3c3ce6" stroke-width="1.0"/>
<circle cx="331.33" cy="45.86" r="1.45" fill="none" stroke="#3c3ce6" stroke-width="1.0"/>
<circle cx="328.89" cy="45.38" r="1.45" fill="none" stroke="#3c3ce6" stroke-width="1.0"/>
<circle cx="326.44" cy="44.91" r="1.45" fill="none" stroke="#3c3ce6" stroke-width="1.0"/>
<circle cx="430.23" cy="127.14" r="0.95" fill="#fff"/>
<circle cx="430.01" cy="124.70" r="0.95" fill="#fff"/>
<circle cx="429.75" cy="122.22" r="0.95" fill="#fff"/>
<circle cx="429.47" cy="119.74" r="0.95" fill="#fff"/>
<circle cx="429.15" cy="117.27" r="0.95" fill="#fff"/>
<circle cx="428.79" cy="114.84" r="0.95" fill="#fff"/>
<circle cx="428.38" cy="112.39" r="0.95" fill="#fff"/>
<circle cx="427.92" cy="109.94" r="0.95" fill="#fff"/>
<circle cx="427.40" cy="107.50" r="0.95" fill="#fff"/>
<circle cx="426.81" cy="105.08" r="0.95" fill="#fff"/>
<circle cx="426.17" cy="102.71" r="0.95" fill="#fff"/>
<circle cx="425.43" cy="100.33" r="0.95" fill="#fff"/>
<circle cx="424.62" cy="97.97" r="0.95" fill="#fff"/>
<circle cx="423.72" cy="95.65" r="0.95" fill="#fff"/>
<circle cx="422.73" cy="93.40" r="0.95" fill="#fff"/>
<circle cx="421.64" cy="91.16" r="0.95" fill="#fff"/>
<circle cx="420.44" cy="88.97" r="0.95" fill="#fff"/>
<circle cx="419.15" cy="86.85" r="0.95" fill="#fff"/>
<circle cx="417.75" cy="84.78" r="0.95" fill="#fff"/>
<circle cx="416.28" cy="82.82" r="0.95" fill="#fff"/>
<circle cx="414.69" cy="80.90" r="0.95" fill="#fff"/>
<circle cx="413.02" cy="79.05" r="0.95" fill="#fff"/>
<circle cx="411.26" cy="77.29" r="0.95" fill="#fff"/>
<circle cx="409.45" cy="75.62" r="0.95" fill="#fff"/>
<circle cx="407.55" cy="74.01" r="0.95" fill="#fff"/>
<circle cx="405.59" cy="72.47" r="0.95" fill="#fff"/>
<circle cx="403.58" cy="71.01" r="0.95" fill="#fff"/>
<circle cx="401.51" cy="69.61" r="0.95" fill="#fff"/>
<circle cx="399.44" cy="68.30" r="0.95" fill="#fff"/>
<circle cx="397.29" cy="67.03" r="0.95" fill="#fff"/>
<circle cx="395.11" cy="65.82" r="0.95" fill="#fff"/>
<circle cx="392.91" cy="64.66" r="0.95" fill="#fff"/>
<circle cx="390.71" cy="63.57" r="0.95" fill="#fff"/>
<circle cx="388.45" cy="62.52" r="0.95" fill="#fff"/>
<circle cx="386.17" cy="61.50" r="0.95" fill="#fff"/>
<circle cx="383.88" cy="60.53" r="0.95" fill="#fff"/>
<circle cx="381.57" cy="59.60" r="0.95" fill="#fff"/>
<circle cx="379.28" cy="58.71" r="0.95" fill="#fff"/>
<circle cx="376.94" cy="57.85" r="0.95" fill="#fff"/>
<circle cx="374.59" cy="57.02" r="0.95" fill="#fff"/>
<circle cx="372.23" cy="56.22" r="0.95" fill="#fff"/>
<circle cx="369.90" cy="55.46" r="0.95" fill="#fff"/>
<circle cx="367.52" cy="54.71" r="0.95" fill="#fff"/>
<circle cx="365.13" cy="53.99" r="0.95" fill="#fff"/>
<circle cx="362.74" cy="53.29" r="0.95" fill="#fff"/>
<circle cx="360.34" cy="52.61" r="0.95" fill="#fff"/>
<circle cx="357.97" cy="51.97" r="0.95" fill="#fff"/>
<circle cx="355.56" cy="51.33" r="0.95" fill="#fff"/>
<circle cx="353.15" cy="50.71" r="0.95" fill="#fff"/>
<circle cx="350.73" cy="50.11" r="0.95" fill="#fff"/>
<circle cx="348.35" cy="49.54" r="0.95" fill="#fff"/>
<circle cx="345.92" cy="48.97" r="0.95" fill="#fff"/>
<circle cx="343.49" cy="48.42" r="0.95" fill="#fff"/>
<circle cx="341.06" cy="47.88" r="0.95" fill="#fff"/>
<circle cx="338.62" cy="47.35" r="0.95" fill="#fff"/>
<circle cx="336.22" cy="46.85" r="0.95" fill="#fff"/>
<circle cx="333.78" cy="46.35" r="0.95" fill="#fff"/>
<circle cx="331.33" cy="45.86" r="0.95" fill="#fff"/>
<circle cx="328.89" cy="45.38" r="0.95" fill="#fff"/>
<circle cx="326.44" cy="44.91" r="0.95" fill="#fff"/>
<polyline points="433.80,140.00 433.57,125.55" fill="none" stroke="#3c3ce6" stroke-width="1.6" stroke-linejoin="round" stroke-linecap="round" />
<polyline points="433.57,125.55 433.62,124.95 433.68,124.36 433.73,123.77 433.79,123.18 433.84,122.59 433.90,122.00 433.96,121.41 434.02,120.82 434.09,120.23 434.15,119.64 434.22,119.05 434.29,118.46 434.36,117.87 434.44,117.28 434.52,116.69 434.59,116.10 434.68,115.51 434.76,114.92 434.85,114.33 434.93,113.74 435.03,113.15 435.12,112.56 435.22,111.97 435.32,111.37 435.42,110.78 435.53,110.19 435.64,109.60 435.75,109.01 435.87,108.42 435.99,107.83 436.11,107.24 436.24,106.65 436.37,106.06 436.50,105.47 436.64,104.88 436.79,104.29 436.93,103.70 437.08,103.11 437.24,102.52 437.40,101.93 437.57,101.34 437.74,100.75 437.92,100.16 438.10,99.57 438.28,98.98 438.48,98.38 438.68,97.79 438.88,97.20 439.09,96.61 439.31,96.02 439.53,95.43 439.76,94.84 440.00,94.25 440.25,93.66 440.50,93.07 440.76,92.48 441.02,91.89 441.30,91.30 441.58,90.71 441.88,90.12 442.18,89.53 442.49,88.94 442.81,88.35 443.14,87.76 443.48,87.17 443.83,86.58 444.19,85.99 444.56,85.40 444.94,84.80 445.33,84.21 445.74,83.62 446.16,83.03 446.59,82.44 447.03,81.85 447.49,81.26 447.96,80.67 448.44,80.08 448.94,79.49 449.46,78.90 449.99,78.31 450.53,77.72 451.10,77.13 451.67,76.54 452.27,75.95 452.89,75.36 453.52,74.77 454.17,74.18 454.85,73.59 455.54,73.00 456.25,72.41 456.99,71.81 457.75,71.22 458.53,70.63 459.33,70.04 460.16,69.45 461.01,68.86 461.89,68.27 462.80,67.68 463.73,67.09 464.69,66.50 465.68,65.91 466.70,65.32 467.75,64.73 468.83,64.14 469.95,63.55 471.10,62.96 472.28,62.37 473.50,61.78 474.76,61.19 476.05,60.60 477.39,60.01 478.76,59.42 480.17,58.83 481.63,58.23 483.13,57.64 484.68,57.05 486.27,56.46 487.92,55.87 489.61,55.28 491.35,54.69 493.15,54.10 495.00,53.51 496.90,52.92 498.86,52.33 500.89,51.75 502.97,51.16 505.11,50.58 507.33,50.00 509.60,49.45 511.95,48.91 514.37,48.42 516.86,48.00 519.42,47.66 522.06,47.41 524.79,47.25 527.59,47.16 530.48,47.10 533.46,47.07 536.52,47.05" fill="none" stroke="#3c3ce6" stroke-width="1.2" stroke-linejoin="round" stroke-linecap="round" />
<circle cx="433.57" cy="125.55" r="1.45" fill="none" stroke="#3c3ce6" stroke-width="1.0"/>
<circle cx="433.79" cy="123.12" r="1.45" fill="none" stroke="#3c3ce6" stroke-width="1.0"/>
<circle cx="434.04" cy="120.67" r="1.45" fill="none" stroke="#3c3ce6" stroke-width="1.0"/>
<circle cx="434.32" cy="118.21" r="1.45" fill="none" stroke="#3c3ce6" stroke-width="1.0"/>
<circle cx="434.64" cy="115.76" r="1.45" fill="none" stroke="#3c3ce6" stroke-width="1.0"/>
<circle cx="434.99" cy="113.36" r="1.45" fill="none" stroke="#3c3ce6" stroke-width="1.0"/>
<circle cx="435.40" cy="110.92" r="1.45" fill="none" stroke="#3c3ce6" stroke-width="1.0"/>
<circle cx="435.85" cy="108.49" r="1.45" fill="none" stroke="#3c3ce6" stroke-width="1.0"/>
<circle cx="436.36" cy="106.08" r="1.45" fill="none" stroke="#3c3ce6" stroke-width="1.0"/>
<circle cx="436.94" cy="103.67" r="1.45" fill="none" stroke="#3c3ce6" stroke-width="1.0"/>
<circle cx="437.57" cy="101.33" r="1.45" fill="none" stroke="#3c3ce6" stroke-width="1.0"/>
<circle cx="438.29" cy="98.96" r="1.45" fill="none" stroke="#3c3ce6" stroke-width="1.0"/>
<circle cx="439.09" cy="96.63" r="1.45" fill="none" stroke="#3c3ce6" stroke-width="1.0"/>
<circle cx="439.97" cy="94.32" r="1.45" fill="none" stroke="#3c3ce6" stroke-width="1.0"/>
<circle cx="440.94" cy="92.09" r="1.45" fill="none" stroke="#3c3ce6" stroke-width="1.0"/>
<circle cx="442.01" cy="89.86" r="1.45" fill="none" stroke="#3c3ce6" stroke-width="1.0"/>
<circle cx="443.18" cy="87.69" r="1.45" fill="none" stroke="#3c3ce6" stroke-width="1.0"/>
<circle cx="444.45" cy="85.57" r="1.45" fill="none" stroke="#3c3ce6" stroke-width="1.0"/>
<circle cx="445.82" cy="83.51" r="1.45" fill="none" stroke="#3c3ce6" stroke-width="1.0"/>
<circle cx="447.26" cy="81.56" r="1.45" fill="none" stroke="#3c3ce6" stroke-width="1.0"/>
<circle cx="448.82" cy="79.64" r="1.45" fill="none" stroke="#3c3ce6" stroke-width="1.0"/>
<circle cx="450.46" cy="77.80" r="1.45" fill="none" stroke="#3c3ce6" stroke-width="1.0"/>
<circle cx="452.19" cy="76.03" r="1.45" fill="none" stroke="#3c3ce6" stroke-width="1.0"/>
<circle cx="453.96" cy="74.37" r="1.45" fill="none" stroke="#3c3ce6" stroke-width="1.0"/>
<circle cx="455.83" cy="72.75" r="1.45" fill="none" stroke="#3c3ce6" stroke-width="1.0"/>
<circle cx="457.76" cy="71.21" r="1.45" fill="none" stroke="#3c3ce6" stroke-width="1.0"/>
<circle cx="459.75" cy="69.75" r="1.45" fill="none" stroke="#3c3ce6" stroke-width="1.0"/>
<circle cx="461.78" cy="68.35" r="1.45" fill="none" stroke="#3c3ce6" stroke-width="1.0"/>
<circle cx="463.83" cy="67.03" r="1.45" fill="none" stroke="#3c3ce6" stroke-width="1.0"/>
<circle cx="465.94" cy="65.76" r="1.45" fill="none" stroke="#3c3ce6" stroke-width="1.0"/>
<circle cx="468.09" cy="64.54" r="1.45" fill="none" stroke="#3c3ce6" stroke-width="1.0"/>
<circle cx="470.27" cy="63.38" r="1.45" fill="none" stroke="#3c3ce6" stroke-width="1.0"/>
<circle cx="472.45" cy="62.29" r="1.45" fill="none" stroke="#3c3ce6" stroke-width="1.0"/>
<circle cx="474.67" cy="61.23" r="1.45" fill="none" stroke="#3c3ce6" stroke-width="1.0"/>
<circle cx="476.93" cy="60.21" r="1.45" fill="none" stroke="#3c3ce6" stroke-width="1.0"/>
<circle cx="479.19" cy="59.23" r="1.45" fill="none" stroke="#3c3ce6" stroke-width="1.0"/>
<circle cx="481.48" cy="58.30" r="1.45" fill="none" stroke="#3c3ce6" stroke-width="1.0"/>
<circle cx="483.74" cy="57.41" r="1.45" fill="none" stroke="#3c3ce6" stroke-width="1.0"/>
<circle cx="486.06" cy="56.54" r="1.45" fill="none" stroke="#3c3ce6" stroke-width="1.0"/>
<circle cx="488.38" cy="55.71" r="1.45" fill="none" stroke="#3c3ce6" stroke-width="1.0"/>
<circle cx="490.72" cy="54.91" r="1.45" fill="none" stroke="#3c3ce6" stroke-width="1.0"/>
<circle cx="493.03" cy="54.14" r="1.45" fill="none" stroke="#3c3ce6" stroke-width="1.0"/>
<circle cx="495.38" cy="53.39" r="1.45" fill="none" stroke="#3c3ce6" stroke-width="1.0"/>
<circle cx="497.74" cy="52.67" r="1.45" fill="none" stroke="#3c3ce6" stroke-width="1.0"/>
<circle cx="500.11" cy="51.97" r="1.45" fill="none" stroke="#3c3ce6" stroke-width="1.0"/>
<circle cx="502.48" cy="51.30" r="1.45" fill="none" stroke="#3c3ce6" stroke-width="1.0"/>
<circle cx="504.83" cy="50.65" r="1.45" fill="none" stroke="#3c3ce6" stroke-width="1.0"/>
<circle cx="507.22" cy="50.03" r="1.45" fill="none" stroke="#3c3ce6" stroke-width="1.0"/>
<circle cx="509.62" cy="49.44" r="1.45" fill="none" stroke="#3c3ce6" stroke-width="1.0"/>
<circle cx="512.03" cy="48.90" r="1.45" fill="none" stroke="#3c3ce6" stroke-width="1.0"/>
<circle cx="514.41" cy="48.42" r="1.45" fill="none" stroke="#3c3ce6" stroke-width="1.0"/>
<circle cx="516.85" cy="48.00" r="1.45" fill="none" stroke="#3c3ce6" stroke-width="1.0"/>
<circle cx="519.29" cy="47.68" r="1.45" fill="none" stroke="#3c3ce6" stroke-width="1.0"/>
<circle cx="521.75" cy="47.44" r="1.45" fill="none" stroke="#3c3ce6" stroke-width="1.0"/>
<circle cx="524.22" cy="47.29" r="1.45" fill="none" stroke="#3c3ce6" stroke-width="1.0"/>
<circle cx="526.65" cy="47.19" r="1.45" fill="none" stroke="#3c3ce6" stroke-width="1.0"/>
<circle cx="529.12" cy="47.13" r="1.45" fill="none" stroke="#3c3ce6" stroke-width="1.0"/>
<circle cx="531.59" cy="47.09" r="1.45" fill="none" stroke="#3c3ce6" stroke-width="1.0"/>
<circle cx="534.06" cy="47.07" r="1.45" fill="none" stroke="#3c3ce6" stroke-width="1.0"/>
<circle cx="536.52" cy="47.05" r="1.45" fill="none" stroke="#3c3ce6" stroke-width="1.0"/>
<circle cx="433.57" cy="125.55" r="0.95" fill="#fff"/>
<circle cx="433.79" cy="123.12" r="0.95" fill="#fff"/>
<circle cx="434.04" cy="120.67" r="0.95" fill="#fff"/>
<circle cx="434.32" cy="118.21" r="0.95" fill="#fff"/>
<circle cx="434.64" cy="115.76" r="0.95" fill="#fff"/>
<circle cx="434.99" cy="113.36" r="0.95" fill="#fff"/>
<circle cx="435.40" cy="110.92" r="0.95" fill="#fff"/>
<circle cx="435.85" cy="108.49" r="0.95" fill="#fff"/>
<circle cx="436.36" cy="106.08" r="0.95" fill="#fff"/>
<circle cx="436.94" cy="103.67" r="0.95" fill="#fff"/>
<circle cx="437.57" cy="101.33" r="0.95" fill="#fff"/>
<circle cx="438.29" cy="98.96" r="0.95" fill="#fff"/>
<circle cx="439.09" cy="96.63" r="0.95" fill="#fff"/>
<circle cx="439.97" cy="94.32" r="0.95" fill="#fff"/>
<circle cx="440.94" cy="92.09" r="0.95" fill="#fff"/>
<circle cx="442.01" cy="89.86" r="0.95" fill="#fff"/>
<circle cx="443.18" cy="87.69" r="0.95" fill="#fff"/>
<circle cx="444.45" cy="85.57" r="0.95" fill="#fff"/>
<circle cx="445.82" cy="83.51" r="0.95" fill="#fff"/>
<circle cx="447.26" cy="81.56" r="0.95" fill="#fff"/>
<circle cx="448.82" cy="79.64" r="0.95" fill="#fff"/>
<circle cx="450.46" cy="77.80" r="0.95" fill="#fff"/>
<circle cx="452.19" cy="76.03" r="0.95" fill="#fff"/>
<circle cx="453.96" cy="74.37" r="0.95" fill="#fff"/>
<circle cx="455.83" cy="72.75" r="0.95" fill="#fff"/>
<circle cx="457.76" cy="71.21" r="0.95" fill="#fff"/>
<circle cx="459.75" cy="69.75" r="0.95" fill="#fff"/>
<circle cx="461.78" cy="68.35" r="0.95" fill="#fff"/>
<circle cx="463.83" cy="67.03" r="0.95" fill="#fff"/>
<circle cx="465.94" cy="65.76" r="0.95" fill="#fff"/>
<circle cx="468.09" cy="64.54" r="0.95" fill="#fff"/>
<circle cx="470.27" cy="63.38" r="0.95" fill="#fff"/>
<circle cx="472.45" cy="62.29" r="0.95" fill="#fff"/>
<circle cx="474.67" cy="61.23" r="0.95" fill="#fff"/>
<circle cx="476.93" cy="60.21" r="0.95" fill="#fff"/>
<circle cx="479.19" cy="59.23" r="0.95" fill="#fff"/>
<circle cx="481.48" cy="58.30" r="0.95" fill="#fff"/>
<circle cx="483.74" cy="57.41" r="0.95" fill="#fff"/>
<circle cx="486.06" cy="56.54" r="0.95" fill="#fff"/>
<circle cx="488.38" cy="55.71" r="0.95" fill="#fff"/>
<circle cx="490.72" cy="54.91" r="0.95" fill="#fff"/>
<circle cx="493.03" cy="54.14" r="0.95" fill="#fff"/>
<circle cx="495.38" cy="53.39" r="0.95" fill="#fff"/>
<circle cx="497.74" cy="52.67" r="0.95" fill="#fff"/>
<circle cx="500.11" cy="51.97" r="0.95" fill="#fff"/>
<circle cx="502.48" cy="51.30" r="0.95" fill="#fff"/>
<circle cx="504.83" cy="50.65" r="0.95" fill="#fff"/>
<circle cx="507.22" cy="50.03" r="0.95" fill="#fff"/>
<circle cx="509.62" cy="49.44" r="0.95" fill="#fff"/>
<circle cx="512.03" cy="48.90" r="0.95" fill="#fff"/>
<circle cx="514.41" cy="48.42" r="0.95" fill="#fff"/>
<circle cx="516.85" cy="48.00" r="0.95" fill="#fff"/>
<circle cx="519.29" cy="47.68" r="0.95" fill="#fff"/>
<circle cx="521.75" cy="47.44" r="0.95" fill="#fff"/>
<circle cx="524.22" cy="47.29" r="0.95" fill="#fff"/>
<circle cx="526.65" cy="47.19" r="0.95" fill="#fff"/>
<circle cx="529.12" cy="47.13" r="0.95" fill="#fff"/>
<circle cx="531.59" cy="47.09" r="0.95" fill="#fff"/>
<circle cx="534.06" cy="47.07" r="0.95" fill="#fff"/>
<circle cx="536.52" cy="47.05" r="0.95" fill="#fff"/>
<line x1="388.50" y1="42.20" x2="368.24" y2="47.65" stroke="#000" stroke-width="1.6" />
<polygon points="361.00,49.60 368.45,44.59 369.96,50.19" fill="#000" />
<text x="390.80" y="44.50" font-size="14" text-anchor="start" font-weight="bold" fill="#1a1aff" stroke="#1a1aff" stroke-width="0.28" >V</text>
<text x="400.60" y="50.60" font-size="8.5" text-anchor="start" font-weight="bold" fill="#1a1aff" stroke="#1a1aff" stroke-width="0.20" >reset</text>
<text x="423.30" y="44.50" font-size="14" text-anchor="start" font-weight="bold" fill="#1a1aff" stroke="#1a1aff" stroke-width="0.28" >= -1.7 V</text>
<text x="433.20" y="26.20" font-size="12" text-anchor="start" font-weight="bold" fill="#a00000" stroke="#a00000" stroke-width="0.28" >CC: 300 µA</text>
<line x1="415.70" y1="72.80" x2="406.80" y2="63.46" stroke="#000" stroke-width="1.3" />
<polygon points="403.70,60.20 409.30,62.46 405.68,65.91" fill="#000" />
<text x="413.60" y="69.30" font-size="11" text-anchor="start" font-weight="bold" fill="#000" stroke="#000" stroke-width="0.26" >1</text>
<line x1="459.60" y1="60.20" x2="447.66" y2="70.81" stroke="#000" stroke-width="1.3" />
<polygon points="444.30,73.80 446.75,68.28 450.07,72.01" fill="#000" />
<text x="443.80" y="63.60" font-size="11" text-anchor="start" font-weight="bold" fill="#000" stroke="#000" stroke-width="0.26" >4</text>
<line x1="388.70" y1="90.10" x2="398.19" y2="100.04" stroke="#000" stroke-width="1.3" />
<polygon points="401.30,103.30 395.69,101.05 399.31,97.60" fill="#000" />
<text x="386.40" y="107.50" font-size="11" text-anchor="start" font-weight="bold" fill="#000" stroke="#000" stroke-width="0.26" >2</text>
<line x1="456.20" y1="126.40" x2="465.43" y2="113.92" stroke="#000" stroke-width="1.3" />
<polygon points="468.10,110.30 466.84,116.21 462.82,113.24" fill="#000" />
<text x="465.90" y="127.20" font-size="11" text-anchor="start" font-weight="bold" fill="#000" stroke="#000" stroke-width="0.26" >3</text>
<line x1="499.50" y1="101.50" x2="499.50" y2="73.30" stroke="#000" stroke-width="1.5" />
<polygon points="499.50,64.80 502.30,74.30 496.70,74.30" fill="#000" />
<text x="486.60" y="114.00" font-size="14" text-anchor="start" font-weight="bold" fill="#1a1aff" stroke="#1a1aff" stroke-width="0.28" >V</text>
<text x="496.40" y="119.70" font-size="8.5" text-anchor="start" font-weight="bold" fill="#1a1aff" stroke="#1a1aff" stroke-width="0.20" >set</text>
<text x="512.00" y="114.00" font-size="14" text-anchor="start" font-weight="bold" fill="#1a1aff" stroke="#1a1aff" stroke-width="0.28" >=</text>
<text x="487.40" y="135.90" font-size="14" text-anchor="start" font-weight="bold" fill="#1a1aff" stroke="#1a1aff" stroke-width="0.28" >+1.5 V</text>
<line x1="448.20" y1="155.50" x2="470.90" y2="155.50" stroke="#bdbdbd" stroke-width="1.2" />
<text x="474.40" y="160.40" font-size="12" text-anchor="start" font-weight="bold" fill="#000" stroke="#000" stroke-width="0.28" >All cycles</text>
<line x1="448.20" y1="173.60" x2="470.90" y2="173.60" stroke="#ff3a3a" stroke-width="1.4" />
<circle cx="459.6" cy="173.6" r="1.4" fill="#fff" stroke="#ff3a3a" stroke-width="0.9"/>
<text x="474.60" y="177.40" font-size="12" text-anchor="start" font-weight="bold" fill="#000" stroke="#000" stroke-width="0.28" >1</text>
<text x="481.60" y="171.20" font-size="7" text-anchor="start" font-weight="bold" fill="#000" stroke="#000" stroke-width="0.16" >st</text>
<line x1="448.20" y1="191.80" x2="470.90" y2="191.80" stroke="#3c3ce6" stroke-width="1.4" />
<circle cx="459.6" cy="191.8" r="1.8" fill="#fff" stroke="#3c3ce6" stroke-width="1"/>
<text x="474.60" y="195.60" font-size="12" text-anchor="start" font-weight="bold" fill="#000" stroke="#000" stroke-width="0.28" >15</text>
<text x="491.40" y="188.30" font-size="7" text-anchor="start" font-weight="bold" fill="#000" stroke="#000" stroke-width="0.16" >th</text>
<polygon points="72.20,305.60 72.48,305.46 72.84,305.27 73.27,305.04 73.75,304.79 74.28,304.52 74.83,304.26 75.41,304.02 76.00,303.80 76.63,303.61 77.33,303.43 78.07,303.25 78.84,303.09 79.60,302.92 80.33,302.75 81.00,302.58 81.60,302.40 82.12,302.22 82.60,302.04 83.03,301.86 83.42,301.67 83.79,301.48 84.14,301.27 84.47,301.05 84.80,300.80 85.11,300.52 85.40,300.22 85.67,299.90 85.92,299.56 86.16,299.22 86.38,298.87 86.60,298.53 86.80,298.20 86.98,297.87 87.14,297.54 87.27,297.20 87.40,296.86 87.53,296.53 87.66,296.21 87.82,295.90 88.00,295.60 88.21,295.31 88.43,295.03 88.67,294.76 88.92,294.50 89.18,294.25 89.45,294.02 89.72,293.80 90.00,293.60 90.28,293.42 90.57,293.27 90.86,293.13 91.16,293.00 91.47,292.89 91.79,292.78 92.14,292.69 92.50,292.60 92.87,292.51 93.22,292.42 93.59,292.34 93.97,292.26 94.39,292.21 94.86,292.17 95.39,292.17 96.00,292.20 96.70,292.27 97.48,292.36 98.32,292.49 99.22,292.64 100.15,292.81 101.10,292.99 102.05,293.19 103.00,293.40 103.97,293.63 104.99,293.89 106.04,294.18 107.09,294.47 108.14,294.77 109.15,295.07 110.11,295.35 111.00,295.60 111.84,295.84 112.68,296.08 113.49,296.31 114.25,296.54 114.95,296.74 115.57,296.93 116.09,297.08 116.50,297.20 116.50,297.20 116.41,297.58 116.30,298.09 116.16,298.71 116.01,299.38 115.85,300.08 115.69,300.78 115.54,301.43 115.40,302.00 115.28,302.49 115.16,302.95 115.04,303.37 114.93,303.78 114.82,304.19 114.71,304.60 114.61,305.03 114.50,305.50 114.41,306.00 114.35,306.53 114.30,307.07 114.24,307.62 114.17,308.17 114.07,308.73 113.91,309.27 113.70,309.80 113.43,310.31 113.12,310.82 112.78,311.32 112.39,311.82 111.97,312.31 111.52,312.81 111.03,313.30 110.50,313.80 109.93,314.31 109.31,314.82 108.65,315.34 107.95,315.85 107.23,316.36 106.49,316.86 105.75,317.34 105.00,317.80 104.24,318.25 103.44,318.70 102.63,319.15 101.81,319.58 100.98,319.98 100.16,320.36 99.37,320.70 98.60,321.00 97.85,321.25 97.09,321.44 96.35,321.60 95.62,321.73 94.91,321.84 94.23,321.95 93.59,322.06 93.00,322.20 92.44,322.36 91.90,322.53 91.38,322.70 90.90,322.87 90.46,323.04 90.08,323.18 89.76,323.31 89.50,323.40 89.50,323.40 89.89,323.52 90.38,323.63 90.96,323.76 91.62,323.93 92.37,324.17 93.18,324.51 94.06,324.97 95.00,325.60 96.02,326.40 97.14,327.37 98.33,328.47 99.59,329.67 100.91,330.93 102.25,332.23 103.62,333.53 105.00,334.80 106.42,336.08 107.93,337.41 109.49,338.78 111.06,340.16 112.63,341.55 114.16,342.91 115.63,344.23 117.00,345.50 118.30,346.72 119.55,347.93 120.77,349.11 121.94,350.26 123.05,351.38 124.10,352.47 125.09,353.51 126.00,354.50 126.82,355.44 127.55,356.34 128.21,357.19 128.81,358.00 129.37,358.78 129.91,359.54 130.45,360.28 131.00,361.00 131.54,361.69 132.05,362.32 132.53,362.92 133.00,363.50 133.47,364.08 133.95,364.68 134.46,365.31 135.00,366.00 135.58,366.74 136.18,367.53 136.80,368.35 137.44,369.19 138.08,370.03 138.73,370.88 139.37,371.70 140.00,372.50 140.63,373.27 141.27,374.02 141.92,374.76 142.56,375.50 143.20,376.24 143.82,376.98 144.42,377.73 145.00,378.50 145.55,379.28 146.07,380.05 146.57,380.83 147.06,381.62 147.54,382.43 148.02,383.26 148.51,384.11 149.00,385.00 149.50,385.92 150.01,386.87 150.52,387.85 151.03,388.84 151.54,389.86 152.04,390.89 152.52,391.94 153.00,393.00 153.47,394.07 153.95,395.16 154.42,396.26 154.88,397.38 155.32,398.51 155.74,399.66 156.14,400.82 156.50,402.00 156.82,403.18 157.09,404.36 157.34,405.54 157.56,406.75 157.78,407.99 158.00,409.27 158.24,410.60 158.50,412.00 158.80,413.47 159.14,414.99 159.49,416.57 159.84,418.19 160.19,419.85 160.50,421.54 160.78,423.26 161.00,425.00 161.16,426.77 161.28,428.56 161.36,430.39 161.41,432.25 161.44,434.14 161.46,436.06 161.48,438.02 161.50,440.00 161.52,442.15 161.54,444.51 161.54,446.98 161.53,449.44 161.52,451.78 161.51,453.90 161.50,455.67 161.50,457.00 161.00,457.00 160.51,457.14 159.85,457.47 159.07,457.88 158.20,458.25 157.29,458.46 156.40,458.41 155.55,457.96 154.80,457.00 154.13,455.45 153.49,453.38 152.88,450.92 152.29,448.19 151.71,445.31 151.14,442.40 150.57,439.59 150.00,437.00 149.43,434.54 148.86,432.06 148.31,429.58 147.76,427.12 147.21,424.71 146.67,422.38 146.13,420.13 145.60,418.00 145.06,415.98 144.51,414.05 143.95,412.19 143.41,410.41 142.88,408.71 142.38,407.07 141.91,405.51 141.50,404.00 141.17,402.57 140.94,401.23 140.75,399.95 140.59,398.75 140.41,397.60 140.18,396.50 139.85,395.44 139.40,394.40 138.81,393.41 138.12,392.48 137.34,391.60 136.51,390.76 135.63,389.95 134.74,389.16 133.86,388.38 133.00,387.60 132.15,386.82 131.27,386.05 130.38,385.30 129.47,384.56 128.58,383.84 127.69,383.14 126.83,382.46 126.00,381.80 125.21,381.17 124.47,380.59 123.75,380.03 123.04,379.49 122.33,378.95 121.60,378.39 120.82,377.81 120.00,377.20 119.12,376.55 118.19,375.86 117.22,375.16 116.23,374.44 115.23,373.71 114.24,373.00 113.25,372.29 112.30,371.60 111.36,370.93 110.42,370.25 109.48,369.59 108.56,368.93 107.64,368.27 106.74,367.63 105.86,367.01 105.00,366.40 104.18,365.82 103.39,365.26 102.62,364.73 101.87,364.20 101.12,363.67 100.37,363.14 99.60,362.58 98.80,362.00 97.97,361.40 97.13,360.79 96.26,360.17 95.39,359.54 94.53,358.89 93.66,358.22 92.82,357.52 92.00,356.80 91.20,356.04 90.41,355.24 89.63,354.41 88.86,353.56 88.10,352.71 87.35,351.85 86.62,351.02 85.90,350.20 85.19,349.40 84.48,348.59 83.78,347.79 83.09,347.00 82.43,346.22 81.79,345.46 81.18,344.71 80.60,344.00 80.06,343.31 79.55,342.63 79.08,341.97 78.62,341.33 78.19,340.71 77.78,340.12 77.39,339.55 77.00,339.00 76.63,338.50 76.28,338.04 75.95,337.62 75.63,337.22 75.33,336.82 75.04,336.41 74.77,335.98 74.50,335.50 74.24,334.98 73.99,334.41 73.76,333.83 73.53,333.23 73.32,332.64 73.13,332.06 72.95,331.51 72.80,331.00 72.67,330.52 72.56,330.03 72.47,329.56 72.39,329.12 72.33,328.71 72.28,328.34 72.24,328.04 72.20,327.80" fill="#838383" />
<polygon points="155.50,416.00 155.73,416.41 156.04,416.97 156.41,417.64 156.83,418.38 157.26,419.12 157.69,419.84 158.11,420.48 158.50,421.00 158.86,421.42 159.21,421.80 159.56,422.15 159.91,422.44 160.25,422.67 160.60,422.85 160.95,422.96 161.30,423.00 161.65,422.96 162.01,422.85 162.36,422.67 162.72,422.44 163.08,422.15 163.44,421.80 163.82,421.42 164.20,421.00 164.60,420.46 165.04,419.75 165.48,418.95 165.93,418.12 166.37,417.35 166.79,416.69 167.17,416.21 167.50,416.00 167.81,415.96 168.12,415.99 168.41,416.14 168.67,416.44 168.88,416.93 169.04,417.66 169.11,418.67 169.10,420.00 168.97,421.75 168.72,423.93 168.39,426.44 168.01,429.16 167.59,431.98 167.19,434.80 166.81,437.51 166.50,440.00 166.30,442.43 166.21,444.96 166.16,447.51 166.11,450.00 166.01,452.33 165.79,454.41 165.40,456.17 164.80,457.50 163.91,458.48 162.76,459.21 161.43,459.68 159.99,459.88 158.53,459.77 157.13,459.35 155.86,458.60 154.80,457.50 153.95,455.89 153.22,453.73 152.58,451.16 152.03,448.31 151.51,445.33 151.02,442.36 150.53,439.54 150.00,437.00 149.39,434.65 148.70,432.29 147.98,429.97 147.29,427.72 146.70,425.56 146.24,423.54 145.99,421.67 146.00,420.00 146.35,418.51 147.04,417.18 147.95,415.99 149.00,414.94 150.08,414.02 151.09,413.23 151.93,412.56 152.50,412.00" fill="#838383" />
<polyline points="103.00,292.40 103.62,292.53 104.44,292.69 105.41,292.87 106.50,293.09 107.65,293.33 108.81,293.60 109.95,293.89 111.00,294.20 112.00,294.54 113.00,294.92 114.00,295.33 115.00,295.76 116.00,296.21 117.00,296.67 118.00,297.14 119.00,297.60 120.00,298.08 121.00,298.58 122.00,299.09 123.00,299.61 124.00,300.13 125.00,300.64 126.00,301.13 127.00,301.60 128.01,302.03 129.02,302.43 130.04,302.81 131.06,303.19 132.07,303.56 133.07,303.95 134.05,304.36 135.00,304.80 135.93,305.27 136.84,305.76 137.74,306.27 138.62,306.79 139.49,307.32 140.34,307.87 141.18,308.43 142.00,309.00 142.80,309.58 143.59,310.16 144.37,310.75 145.12,311.36 145.87,311.98 146.59,312.63 147.30,313.30 148.00,314.00 148.68,314.73 149.35,315.50 150.00,316.28 150.64,317.09 151.26,317.92 151.86,318.77 152.44,319.63 153.00,320.50 153.54,321.39 154.08,322.29 154.59,323.22 155.09,324.16 155.56,325.11 156.00,326.07 156.42,327.03 156.80,328.00 157.14,328.97 157.45,329.94 157.73,330.92 157.98,331.91 158.20,332.90 158.41,333.92 158.61,334.95 158.80,336.00 158.98,337.14 159.14,338.39 159.29,339.70 159.43,341.00 159.54,342.24 159.64,343.36 159.73,344.30 159.80,345.00" fill="none" stroke="#838383" stroke-width="2.2" stroke-linejoin="round" stroke-linecap="round" />
<polyline points="163.00,345.00 163.07,344.30 163.16,343.35 163.26,342.22 163.38,340.97 163.51,339.66 163.66,338.36 163.82,337.11 164.00,336.00 164.20,334.99 164.42,334.02 164.65,333.08 164.91,332.16 165.17,331.25 165.44,330.34 165.72,329.43 166.00,328.50 166.28,327.55 166.57,326.59 166.86,325.62 167.16,324.66 167.47,323.70 167.79,322.77 168.14,321.87 168.50,321.00 168.88,320.18 169.27,319.39 169.67,318.64 170.09,317.91 170.53,317.18 171.00,316.46 171.48,315.74 172.00,315.00 172.55,314.24 173.12,313.46 173.72,312.68 174.34,311.91 174.99,311.14 175.64,310.39 176.32,309.68 177.00,309.00 177.70,308.36 178.41,307.76 179.13,307.19 179.88,306.64 180.63,306.11 181.41,305.58 182.20,305.04 183.00,304.50 183.82,303.95 184.66,303.39 185.51,302.84 186.38,302.29 187.26,301.75 188.16,301.22 189.07,300.70 190.00,300.20 190.95,299.71 191.93,299.22 192.93,298.74 193.94,298.27 194.96,297.82 195.98,297.39 196.99,296.98 198.00,296.60 199.01,296.24 200.05,295.91 201.09,295.59 202.12,295.29 203.15,295.02 204.14,294.76 205.10,294.52 206.00,294.30 206.89,294.10 207.78,293.91 208.66,293.75 209.50,293.61 210.28,293.48 210.97,293.37 211.55,293.28 212.00,293.20" fill="none" stroke="#838383" stroke-width="2.0" stroke-linejoin="round" stroke-linecap="round" />
<polygon points="89.50,320.60 90.00,320.51 90.68,320.41 91.48,320.28 92.38,320.14 93.31,319.98 94.26,319.80 95.17,319.61 96.00,319.40 96.78,319.18 97.56,318.93 98.33,318.67 99.09,318.40 99.85,318.11 100.58,317.82 101.30,317.51 102.00,317.20 102.68,316.88 103.35,316.55 104.01,316.21 104.65,315.86 105.27,315.51 105.87,315.14 106.45,314.77 107.00,314.40 107.52,314.03 108.02,313.66 108.50,313.28 108.95,312.90 109.38,312.51 109.80,312.09 110.21,311.66 110.60,311.20 111.01,310.67 111.45,310.04 111.89,309.37 112.30,308.70 112.66,308.06 112.95,307.51 113.14,307.07 113.20,306.80 113.12,306.70 112.93,306.74 112.64,306.89 112.27,307.12 111.84,307.42 111.37,307.75 110.89,308.08 110.40,308.40 109.90,308.72 109.35,309.09 108.76,309.49 108.15,309.91 107.51,310.34 106.85,310.78 106.18,311.20 105.50,311.60 104.80,311.99 104.08,312.37 103.33,312.75 102.57,313.13 101.80,313.50 101.03,313.87 100.26,314.24 99.50,314.60 98.74,314.96 97.95,315.30 97.16,315.65 96.38,315.99 95.60,316.33 94.86,316.68 94.15,317.03 93.50,317.40 92.88,317.80 92.27,318.25 91.68,318.71 91.12,319.17 90.62,319.62 90.17,320.02 89.79,320.35 89.50,320.60" fill="#ececec" />
<polygon points="225.80,294.80 227.05,294.80 228.83,294.80 230.95,294.80 233.25,294.80 235.55,294.80 237.67,294.80 239.45,294.80 240.70,294.80 240.70,294.80 240.71,295.57 240.73,296.57 240.76,297.75 240.78,299.09 240.81,300.52 240.84,302.01 240.87,303.52 240.90,305.00 240.93,306.54 240.94,308.21 240.96,309.96 240.98,311.73 241.01,313.48 241.05,315.14 241.11,316.67 241.20,318.00 241.30,319.15 241.40,320.18 241.52,321.09 241.65,321.91 241.81,322.64 242.00,323.31 242.23,323.92 242.50,324.50 242.82,325.02 243.19,325.45 243.59,325.82 244.02,326.12 244.49,326.38 244.98,326.61 245.48,326.81 246.00,327.00 246.59,327.14 247.27,327.20 248.01,327.20 248.76,327.19 249.46,327.18 250.09,327.21 250.58,327.31 250.90,327.50 251.03,327.80 251.01,328.19 250.87,328.64 250.64,329.12 250.36,329.63 250.05,330.12 249.76,330.59 249.50,331.00 249.27,331.35 249.02,331.65 248.76,331.92 248.49,332.19 248.20,332.46 247.91,332.76 247.61,333.10 247.30,333.50 246.97,333.97 246.62,334.50 246.26,335.07 245.89,335.67 245.52,336.28 245.16,336.88 244.82,337.46 244.50,338.00 244.23,338.50 244.00,338.98 243.80,339.44 243.61,339.89 243.40,340.34 243.16,340.80 242.86,341.29 242.50,341.80 242.06,342.35 241.55,342.92 241.00,343.51 240.41,344.11 239.80,344.71 239.18,345.32 238.58,345.92 238.00,346.50 237.46,347.05 236.95,347.58 236.44,348.09 235.94,348.61 235.41,349.14 234.84,349.70 234.21,350.32 233.50,351.00 232.70,351.76 231.81,352.60 230.85,353.49 229.86,354.42 228.85,355.35 227.85,356.28 226.90,357.17 226.00,358.00 225.18,358.78 224.42,359.53 223.69,360.26 222.98,360.97 222.26,361.68 221.50,362.38 220.69,363.08 219.80,363.80 218.82,364.52 217.76,365.24 216.65,365.96 215.51,366.68 214.35,367.40 213.20,368.12 212.07,368.86 211.00,369.60 209.97,370.35 208.97,371.10 207.98,371.86 207.01,372.63 206.04,373.40 205.07,374.18 204.09,374.98 203.10,375.80 202.08,376.65 201.05,377.54 200.00,378.45 198.95,379.38 197.91,380.29 196.90,381.17 195.93,382.02 195.00,382.80 194.13,383.51 193.31,384.17 192.52,384.78 191.76,385.36 191.01,385.94 190.26,386.53 189.49,387.14 188.70,387.80 187.87,388.50 187.01,389.24 186.14,389.99 185.27,390.76 184.41,391.53 183.56,392.30 182.76,393.06 182.00,393.80 181.28,394.53 180.60,395.25 179.93,395.97 179.30,396.68 178.69,397.39 178.10,398.10 177.54,398.80 177.00,399.50 176.48,400.19 176.00,400.88 175.53,401.56 175.09,402.23 174.67,402.91 174.27,403.59 173.88,404.29 173.50,405.00 173.13,405.72 172.78,406.44 172.45,407.17 172.13,407.91 171.83,408.65 171.54,409.42 171.26,410.20 171.00,411.00 170.76,411.79 170.54,412.56 170.34,413.33 170.16,414.12 169.98,414.96 169.79,415.88 169.60,416.88 169.40,418.00 169.18,419.26 168.96,420.65 168.73,422.13 168.50,423.69 168.27,425.28 168.04,426.88 167.82,428.47 167.60,430.00 167.39,431.48 167.18,432.93 166.97,434.37 166.76,435.81 166.56,437.28 166.37,438.79 166.18,440.36 166.00,442.00 165.82,443.83 165.64,445.89 165.47,448.06 165.30,450.25 165.14,452.34 165.01,454.23 164.89,455.82 164.80,457.00 162.40,457.00 162.41,456.46 162.42,455.74 162.43,454.89 162.45,453.94 162.47,452.93 162.50,451.91 162.54,450.92 162.60,450.00 162.67,449.17 162.75,448.39 162.84,447.64 162.94,446.88 163.04,446.06 163.16,445.17 163.28,444.16 163.40,443.00 163.53,441.65 163.68,440.12 163.83,438.48 163.99,436.75 164.15,434.99 164.31,433.25 164.46,431.57 164.60,430.00 164.72,428.58 164.82,427.30 164.91,426.08 165.00,424.88 165.10,423.62 165.20,422.27 165.34,420.74 165.50,419.00 165.70,416.96 165.92,414.65 166.17,412.15 166.43,409.56 166.70,406.96 166.97,404.45 167.24,402.09 167.50,400.00 167.75,398.14 168.01,396.41 168.27,394.81 168.53,393.31 168.79,391.90 169.04,390.55 169.27,389.26 169.50,388.00 169.71,386.81 169.90,385.72 170.08,384.71 170.25,383.75 170.42,382.82 170.60,381.91 170.79,380.97 171.00,380.00 171.22,379.00 171.45,378.00 171.69,377.00 171.94,376.00 172.19,375.00 172.45,374.00 172.72,373.00 173.00,372.00 173.28,370.99 173.57,369.98 173.86,368.96 174.16,367.94 174.47,366.93 174.79,365.93 175.14,364.95 175.50,364.00 175.89,363.07 176.29,362.16 176.72,361.26 177.16,360.38 177.61,359.51 178.07,358.66 178.53,357.82 179.00,357.00 179.46,356.20 179.92,355.42 180.38,354.65 180.84,353.91 181.33,353.17 181.85,352.44 182.40,351.72 183.00,351.00 183.66,350.29 184.37,349.60 185.13,348.92 185.91,348.25 186.70,347.58 187.49,346.90 188.26,346.21 189.00,345.50 189.71,344.77 190.42,344.02 191.12,343.26 191.81,342.50 192.50,341.74 193.17,340.98 193.84,340.23 194.50,339.50 195.14,338.79 195.75,338.10 196.35,337.42 196.94,336.75 197.54,336.08 198.16,335.40 198.81,334.71 199.50,334.00 200.24,333.27 201.03,332.52 201.85,331.76 202.69,331.00 203.53,330.24 204.38,329.48 205.20,328.73 206.00,328.00 206.79,327.29 207.58,326.60 208.37,325.92 209.16,325.25 209.92,324.58 210.65,323.90 211.35,323.21 212.00,322.50 212.59,321.81 213.13,321.15 213.62,320.51 214.09,319.84 214.55,319.14 215.01,318.36 215.49,317.49 216.00,316.50 216.53,315.36 217.07,314.09 217.62,312.73 218.17,311.29 218.73,309.82 219.31,308.35 219.90,306.89 220.50,305.50 221.16,304.08 221.89,302.55 222.66,301.00 223.43,299.46 224.17,298.02 224.83,296.72 225.39,295.62 225.80,294.80" fill="#838383" />
<line x1="245.60" y1="295.20" x2="245.40" y2="323.00" stroke="#b4b4b4" stroke-width="0.75" />
<line x1="246.82" y1="295.20" x2="246.62" y2="326.39" stroke="#b4b4b4" stroke-width="0.75" />
<line x1="248.05" y1="295.20" x2="247.85" y2="325.55" stroke="#b4b4b4" stroke-width="0.75" />
<line x1="249.28" y1="295.20" x2="249.08" y2="322.44" stroke="#b4b4b4" stroke-width="0.75" />
<line x1="250.50" y1="295.20" x2="250.30" y2="322.35" stroke="#b4b4b4" stroke-width="0.75" />
<line x1="251.72" y1="295.20" x2="251.53" y2="326.15" stroke="#b4b4b4" stroke-width="0.75" />
<line x1="252.95" y1="295.20" x2="252.75" y2="329.00" stroke="#b4b4b4" stroke-width="0.75" />
<line x1="254.18" y1="295.20" x2="253.98" y2="327.46" stroke="#b4b4b4" stroke-width="0.75" />
<line x1="255.40" y1="295.20" x2="255.20" y2="324.52" stroke="#b4b4b4" stroke-width="0.75" />
<line x1="241.60" y1="295.20" x2="241.60" y2="322.00" stroke="#c8c8c8" stroke-width="0.6" />
<line x1="242.40" y1="295.20" x2="242.40" y2="322.00" stroke="#c8c8c8" stroke-width="0.6" />
<line x1="243.20" y1="295.20" x2="243.20" y2="322.00" stroke="#c8c8c8" stroke-width="0.6" />
<line x1="161.30" y1="345.00" x2="161.30" y2="457.00" stroke="#ff1010" stroke-width="1.8" />
<line x1="159.90" y1="345.00" x2="159.90" y2="457.00" stroke="#1010f0" stroke-width="1.4" />
<line x1="162.80" y1="345.00" x2="162.80" y2="457.00" stroke="#1010f0" stroke-width="1.4" />
<polyline points="72.20,327.80 72.24,328.04 72.28,328.34 72.33,328.71 72.39,329.12 72.47,329.56 72.56,330.03 72.67,330.52 72.80,331.00 72.95,331.51 73.13,332.06 73.32,332.64 73.53,333.23 73.76,333.83 73.99,334.41 74.24,334.98 74.50,335.50 74.77,335.98 75.04,336.41 75.33,336.82 75.63,337.22 75.95,337.62 76.28,338.04 76.63,338.50 77.00,339.00 77.39,339.55 77.78,340.12 78.19,340.71 78.62,341.33 79.08,341.97 79.55,342.63 80.06,343.31 80.60,344.00 81.18,344.71 81.79,345.46 82.43,346.22 83.09,347.00 83.78,347.79 84.48,348.59 85.19,349.40 85.90,350.20 86.62,351.02 87.35,351.85 88.10,352.71 88.86,353.56 89.63,354.41 90.41,355.24 91.20,356.04 92.00,356.80 92.82,357.52 93.66,358.22 94.53,358.89 95.39,359.54 96.26,360.17 97.13,360.79 97.97,361.40 98.80,362.00 99.60,362.58 100.37,363.14 101.12,363.67 101.87,364.20 102.62,364.73 103.39,365.26 104.18,365.82 105.00,366.40 105.86,367.01 106.74,367.63 107.64,368.27 108.56,368.92 109.48,369.59 110.42,370.25 111.36,370.93 112.30,371.60 113.25,372.29 114.24,373.00 115.23,373.71 116.23,374.44 117.22,375.16 118.19,375.86 119.12,376.55 120.00,377.20 120.82,377.81 121.60,378.39 122.33,378.95 123.04,379.49 123.75,380.03 124.47,380.59 125.21,381.17 126.00,381.80 126.83,382.46 127.69,383.14 128.58,383.84 129.47,384.56 130.38,385.30 131.27,386.05 132.15,386.82 133.00,387.60 133.83,388.40 134.66,389.22 135.48,390.06 136.29,390.91 137.08,391.78 137.87,392.65 138.64,393.52 139.40,394.40 140.14,395.28 140.86,396.16 141.56,397.04 142.26,397.93 142.94,398.83 143.63,399.74 144.31,400.66 145.00,401.60 145.70,402.56 146.42,403.54 147.14,404.54 147.85,405.55 148.55,406.56 149.23,407.56 149.88,408.54 150.50,409.50 151.08,410.44 151.65,411.37 152.18,412.29 152.70,413.20 153.19,414.10 153.65,414.98 154.09,415.85 154.50,416.70 154.88,417.54 155.22,418.38 155.54,419.20 155.82,420.01 156.09,420.80 156.34,421.57 156.58,422.30 156.80,423.00 157.00,423.62 157.18,424.13 157.33,424.59 157.47,425.04 157.60,425.52 157.73,426.08 157.86,426.76 158.00,427.60 158.15,428.62 158.30,429.79 158.45,431.08 158.60,432.44 158.75,433.85 158.90,435.27 159.05,436.67 159.20,438.00 159.35,439.30 159.51,440.62 159.68,441.94 159.84,443.26 159.99,444.56 160.14,445.84 160.28,447.09 160.40,448.30 160.51,449.52 160.61,450.79 160.70,452.06 160.78,453.29 160.85,454.45 160.91,455.47 160.96,456.34 161.00,457.00" fill="none" stroke="#ff1010" stroke-width="2.6" stroke-linejoin="round" stroke-linecap="round" />
<circle cx="72.20" cy="327.80" r="1.4" fill="#ff1010"/>
<circle cx="72.63" cy="330.34" r="1.4" fill="#ff1010"/>
<circle cx="73.40" cy="332.85" r="1.4" fill="#ff1010"/>
<circle cx="74.37" cy="335.24" r="1.4" fill="#ff1010"/>
<circle cx="75.80" cy="337.44" r="1.4" fill="#ff1010"/>
<circle cx="77.38" cy="339.54" r="1.4" fill="#ff1010"/>
<circle cx="78.85" cy="341.65" r="1.4" fill="#ff1010"/>
<circle cx="80.42" cy="343.77" r="1.4" fill="#ff1010"/>
<circle cx="82.05" cy="345.77" r="1.4" fill="#ff1010"/>
<circle cx="83.76" cy="347.77" r="1.4" fill="#ff1010"/>
<circle cx="85.49" cy="349.74" r="1.4" fill="#ff1010"/>
<circle cx="87.19" cy="351.67" r="1.4" fill="#ff1010"/>
<circle cx="88.93" cy="353.65" r="1.4" fill="#ff1010"/>
<circle cx="90.69" cy="355.53" r="1.4" fill="#ff1010"/>
<circle cx="92.61" cy="357.33" r="1.4" fill="#ff1010"/>
<circle cx="94.65" cy="358.98" r="1.4" fill="#ff1010"/>
<circle cx="96.73" cy="360.51" r="1.4" fill="#ff1010"/>
<circle cx="98.87" cy="362.05" r="1.4" fill="#ff1010"/>
<circle cx="100.95" cy="363.56" r="1.4" fill="#ff1010"/>
<circle cx="103.11" cy="365.07" r="1.4" fill="#ff1010"/>
<circle cx="105.26" cy="366.58" r="1.4" fill="#ff1010"/>
<circle cx="107.36" cy="368.07" r="1.4" fill="#ff1010"/>
<circle cx="109.50" cy="369.60" r="1.4" fill="#ff1010"/>
<circle cx="111.60" cy="371.10" r="1.4" fill="#ff1010"/>
<circle cx="113.73" cy="372.63" r="1.4" fill="#ff1010"/>
<circle cx="115.87" cy="374.17" r="1.4" fill="#ff1010"/>
<circle cx="117.95" cy="375.69" r="1.4" fill="#ff1010"/>
<circle cx="120.07" cy="377.25" r="1.4" fill="#ff1010"/>
<circle cx="122.13" cy="378.79" r="1.4" fill="#ff1010"/>
<circle cx="124.22" cy="380.39" r="1.4" fill="#ff1010"/>
<circle cx="126.28" cy="382.02" r="1.4" fill="#ff1010"/>
<circle cx="128.30" cy="383.62" r="1.4" fill="#ff1010"/>
<circle cx="130.35" cy="385.28" r="1.4" fill="#ff1010"/>
<circle cx="132.30" cy="386.96" r="1.4" fill="#ff1010"/>
<circle cx="134.21" cy="388.77" r="1.4" fill="#ff1010"/>
<circle cx="136.04" cy="390.65" r="1.4" fill="#ff1010"/>
<circle cx="137.78" cy="392.55" r="1.4" fill="#ff1010"/>
<circle cx="139.51" cy="394.53" r="1.4" fill="#ff1010"/>
<circle cx="141.15" cy="396.52" r="1.4" fill="#ff1010"/>
<circle cx="142.77" cy="398.60" r="1.4" fill="#ff1010"/>
<circle cx="144.34" cy="400.71" r="1.4" fill="#ff1010"/>
<circle cx="145.87" cy="402.78" r="1.4" fill="#ff1010"/>
<circle cx="147.40" cy="404.92" r="1.4" fill="#ff1010"/>
<circle cx="148.87" cy="407.03" r="1.4" fill="#ff1010"/>
<circle cx="150.32" cy="409.23" r="1.4" fill="#ff1010"/>
<circle cx="151.70" cy="411.47" r="1.4" fill="#ff1010"/>
<circle cx="152.98" cy="413.71" r="1.4" fill="#ff1010"/>
<circle cx="154.19" cy="416.04" r="1.4" fill="#ff1010"/>
<circle cx="155.23" cy="418.40" r="1.4" fill="#ff1010"/>
<circle cx="156.12" cy="420.87" r="1.4" fill="#ff1010"/>
<circle cx="156.92" cy="423.38" r="1.4" fill="#ff1010"/>
<circle cx="157.67" cy="425.84" r="1.4" fill="#ff1010"/>
<circle cx="158.12" cy="428.43" r="1.4" fill="#ff1010"/>
<circle cx="158.44" cy="430.99" r="1.4" fill="#ff1010"/>
<circle cx="158.72" cy="433.60" r="1.4" fill="#ff1010"/>
<circle cx="159.00" cy="436.22" r="1.4" fill="#ff1010"/>
<circle cx="159.29" cy="438.78" r="1.4" fill="#ff1010"/>
<circle cx="159.61" cy="441.39" r="1.4" fill="#ff1010"/>
<circle cx="159.92" cy="443.95" r="1.4" fill="#ff1010"/>
<circle cx="160.22" cy="446.56" r="1.4" fill="#ff1010"/>
<circle cx="160.48" cy="449.18" r="1.4" fill="#ff1010"/>
<circle cx="160.67" cy="451.75" r="1.4" fill="#ff1010"/>
<circle cx="160.84" cy="454.37" r="1.4" fill="#ff1010"/>
<circle cx="161.00" cy="457.00" r="1.4" fill="#ff1010"/>
<polyline points="161.60,457.00 161.70,456.61 161.83,456.09 161.98,455.46 162.15,454.77 162.33,454.04 162.50,453.32 162.66,452.63 162.80,452.00 162.92,451.48 163.02,451.06 163.11,450.67 163.20,450.29 163.29,449.85 163.38,449.30 163.48,448.60 163.60,447.70 163.73,446.55 163.87,445.16 164.02,443.62 164.17,441.98 164.33,440.30 164.49,438.65 164.65,437.09 164.80,435.70 164.95,434.45 165.10,433.28 165.25,432.17 165.40,431.10 165.55,430.07 165.70,429.05 165.85,428.03 166.00,427.00 166.14,425.98 166.27,424.99 166.40,424.02 166.52,423.06 166.66,422.09 166.82,421.10 166.99,420.07 167.20,419.00 167.44,417.85 167.70,416.64 167.99,415.38 168.29,414.10 168.61,412.84 168.94,411.61 169.27,410.46 169.60,409.40 169.93,408.44 170.26,407.56 170.59,406.73 170.94,405.95 171.30,405.20 171.67,404.47 172.07,403.74 172.50,403.00 172.96,402.26 173.43,401.55 173.93,400.85 174.45,400.17 174.99,399.49 175.54,398.80 176.11,398.11 176.70,397.40 177.30,396.68 177.91,395.95 178.55,395.21 179.19,394.47 179.86,393.73 180.55,392.99 181.26,392.24 182.00,391.50 182.77,390.75 183.59,389.98 184.43,389.21 185.29,388.44 186.16,387.68 187.02,386.93 187.87,386.20 188.70,385.50 189.49,384.84 190.26,384.23 191.01,383.64 191.76,383.06 192.52,382.48 193.31,381.87 194.13,381.21 195.00,380.50 195.93,379.71 196.90,378.87 197.91,377.98 198.95,377.06 200.00,376.14 201.05,375.23 202.08,374.34 203.10,373.50 204.09,372.70 205.07,371.93 206.04,371.18 207.01,370.44 207.98,369.71 208.97,368.98 209.97,368.24 211.00,367.50 212.07,366.75 213.20,365.99 214.35,365.23 215.51,364.47 216.65,363.71 217.76,362.96 218.82,362.23 219.80,361.50 220.70,360.81 221.54,360.15 222.34,359.51 223.09,358.88 223.83,358.22 224.55,357.54 225.27,356.80 226.00,356.00 226.74,355.10 227.48,354.11 228.21,353.05 228.94,351.97 229.65,350.89 230.35,349.85 231.03,348.87 231.70,348.00 232.34,347.24 232.96,346.56 233.57,345.95 234.16,345.38 234.74,344.82 235.32,344.25 235.91,343.65 236.50,343.00 237.12,342.29 237.77,341.54 238.43,340.77 239.09,339.98 239.72,339.20 240.31,338.43 240.84,337.69 241.30,337.00 241.67,336.36 241.98,335.77 242.23,335.21 242.44,334.67 242.62,334.12 242.78,333.56 242.94,332.96 243.10,332.30 243.26,331.60 243.40,330.88 243.53,330.13 243.64,329.36 243.75,328.56 243.84,327.73 243.92,326.88 244.00,326.00 244.07,325.12 244.12,324.24 244.17,323.34 244.21,322.42 244.24,321.44 244.26,320.39 244.28,319.25 244.30,318.00 244.31,316.59 244.32,315.03 244.32,313.35 244.32,311.61 244.31,309.86 244.31,308.14 244.30,306.51 244.30,305.00 244.30,303.56 244.30,302.13 244.30,300.72 244.30,299.38 244.30,298.12 244.30,296.98 244.30,296.00 244.30,295.20 244.30,294.61 244.30,294.23 244.30,294.00 244.30,293.89 244.30,293.85 244.30,293.85 244.30,293.85 244.30,293.80" fill="none" stroke="#ff1010" stroke-width="2.6" stroke-linejoin="round" stroke-linecap="round" />
<circle cx="161.60" cy="457.00" r="1.4" fill="#ff1010"/>
<circle cx="162.21" cy="454.54" r="1.4" fill="#ff1010"/>
<circle cx="162.80" cy="452.00" r="1.4" fill="#ff1010"/>
<circle cx="163.35" cy="449.46" r="1.4" fill="#ff1010"/>
<circle cx="163.69" cy="446.88" r="1.4" fill="#ff1010"/>
<circle cx="163.96" cy="444.30" r="1.4" fill="#ff1010"/>
<circle cx="164.20" cy="441.71" r="1.4" fill="#ff1010"/>
<circle cx="164.45" cy="439.12" r="1.4" fill="#ff1010"/>
<circle cx="164.71" cy="436.53" r="1.4" fill="#ff1010"/>
<circle cx="165.01" cy="433.94" r="1.4" fill="#ff1010"/>
<circle cx="165.36" cy="431.37" r="1.4" fill="#ff1010"/>
<circle cx="165.74" cy="428.79" r="1.4" fill="#ff1010"/>
<circle cx="166.11" cy="426.22" r="1.4" fill="#ff1010"/>
<circle cx="166.45" cy="423.64" r="1.4" fill="#ff1010"/>
<circle cx="166.82" cy="421.06" r="1.4" fill="#ff1010"/>
<circle cx="167.30" cy="418.51" r="1.4" fill="#ff1010"/>
<circle cx="167.86" cy="415.96" r="1.4" fill="#ff1010"/>
<circle cx="168.46" cy="413.43" r="1.4" fill="#ff1010"/>
<circle cx="169.14" cy="410.92" r="1.4" fill="#ff1010"/>
<circle cx="169.93" cy="408.44" r="1.4" fill="#ff1010"/>
<circle cx="170.90" cy="406.03" r="1.4" fill="#ff1010"/>
<circle cx="172.09" cy="403.72" r="1.4" fill="#ff1010"/>
<circle cx="173.46" cy="401.51" r="1.4" fill="#ff1010"/>
<circle cx="175.03" cy="399.43" r="1.4" fill="#ff1010"/>
<circle cx="176.68" cy="397.42" r="1.4" fill="#ff1010"/>
<circle cx="178.36" cy="395.43" r="1.4" fill="#ff1010"/>
<circle cx="180.09" cy="393.49" r="1.4" fill="#ff1010"/>
<circle cx="181.89" cy="391.61" r="1.4" fill="#ff1010"/>
<circle cx="183.77" cy="389.82" r="1.4" fill="#ff1010"/>
<circle cx="185.70" cy="388.08" r="1.4" fill="#ff1010"/>
<circle cx="187.67" cy="386.37" r="1.4" fill="#ff1010"/>
<circle cx="189.67" cy="384.70" r="1.4" fill="#ff1010"/>
<circle cx="191.71" cy="383.10" r="1.4" fill="#ff1010"/>
<circle cx="193.77" cy="381.50" r="1.4" fill="#ff1010"/>
<circle cx="195.77" cy="379.85" r="1.4" fill="#ff1010"/>
<circle cx="197.73" cy="378.14" r="1.4" fill="#ff1010"/>
<circle cx="199.69" cy="376.42" r="1.4" fill="#ff1010"/>
<circle cx="201.65" cy="374.71" r="1.4" fill="#ff1010"/>
<circle cx="203.66" cy="373.05" r="1.4" fill="#ff1010"/>
<circle cx="205.70" cy="371.44" r="1.4" fill="#ff1010"/>
<circle cx="207.77" cy="369.87" r="1.4" fill="#ff1010"/>
<circle cx="209.86" cy="368.32" r="1.4" fill="#ff1010"/>
<circle cx="211.98" cy="366.81" r="1.4" fill="#ff1010"/>
<circle cx="214.14" cy="365.36" r="1.4" fill="#ff1010"/>
<circle cx="216.32" cy="363.93" r="1.4" fill="#ff1010"/>
<circle cx="218.47" cy="362.47" r="1.4" fill="#ff1010"/>
<circle cx="220.55" cy="360.92" r="1.4" fill="#ff1010"/>
<circle cx="222.59" cy="359.30" r="1.4" fill="#ff1010"/>
<circle cx="224.52" cy="357.56" r="1.4" fill="#ff1010"/>
<circle cx="226.29" cy="355.65" r="1.4" fill="#ff1010"/>
<circle cx="227.85" cy="353.57" r="1.4" fill="#ff1010"/>
<circle cx="229.30" cy="351.41" r="1.4" fill="#ff1010"/>
<circle cx="230.76" cy="349.26" r="1.4" fill="#ff1010"/>
<circle cx="232.37" cy="347.21" r="1.4" fill="#ff1010"/>
<circle cx="234.18" cy="345.35" r="1.4" fill="#ff1010"/>
<circle cx="236.03" cy="343.52" r="1.4" fill="#ff1010"/>
<circle cx="237.75" cy="341.57" r="1.4" fill="#ff1010"/>
<circle cx="239.42" cy="339.57" r="1.4" fill="#ff1010"/>
<circle cx="240.98" cy="337.49" r="1.4" fill="#ff1010"/>
<circle cx="242.23" cy="335.22" r="1.4" fill="#ff1010"/>
<circle cx="242.99" cy="332.73" r="1.4" fill="#ff1010"/>
<circle cx="243.52" cy="330.18" r="1.4" fill="#ff1010"/>
<circle cx="243.85" cy="327.60" r="1.4" fill="#ff1010"/>
<circle cx="244.07" cy="325.01" r="1.4" fill="#ff1010"/>
<circle cx="244.21" cy="322.41" r="1.4" fill="#ff1010"/>
<circle cx="244.27" cy="319.81" r="1.4" fill="#ff1010"/>
<circle cx="244.31" cy="317.21" r="1.4" fill="#ff1010"/>
<circle cx="244.32" cy="314.61" r="1.4" fill="#ff1010"/>
<circle cx="244.32" cy="312.01" r="1.4" fill="#ff1010"/>
<circle cx="244.31" cy="309.41" r="1.4" fill="#ff1010"/>
<circle cx="244.30" cy="306.81" r="1.4" fill="#ff1010"/>
<circle cx="244.30" cy="304.20" r="1.4" fill="#ff1010"/>
<circle cx="244.30" cy="301.60" r="1.4" fill="#ff1010"/>
<circle cx="244.30" cy="299.00" r="1.4" fill="#ff1010"/>
<circle cx="244.30" cy="296.40" r="1.4" fill="#ff1010"/>
<circle cx="244.30" cy="293.80" r="1.4" fill="#ff1010"/>
<polyline points="161.20,350.00 161.17,349.39 161.15,348.60 161.13,347.65 161.09,346.59 161.03,345.46 160.94,344.29 160.80,343.13 160.60,342.00 160.34,340.89 160.03,339.75 159.67,338.59 159.28,337.40 158.86,336.19 158.42,334.97 157.96,333.74 157.50,332.50 157.04,331.23 156.58,329.92 156.10,328.59 155.61,327.25 155.08,325.92 154.51,324.60 153.88,323.32 153.20,322.10 152.44,320.92 151.62,319.75 150.75,318.61 149.83,317.50 148.89,316.42 147.92,315.37 146.96,314.37 146.00,313.40 145.04,312.48 144.06,311.59 143.06,310.74 142.05,309.93 141.04,309.15 140.02,308.41 139.01,307.69 138.00,307.00 136.99,306.35 135.98,305.73 134.96,305.15 133.94,304.60 132.93,304.07 131.93,303.57 130.95,303.08 130.00,302.60 129.07,302.13 128.14,301.69 127.24,301.26 126.34,300.85 125.47,300.46 124.62,300.09 123.80,299.73 123.00,299.40 122.22,299.07 121.44,298.74 120.67,298.42 119.93,298.12 119.23,297.86 118.59,297.65 118.00,297.49 117.50,297.40 117.08,297.38 116.73,297.42 116.45,297.52 116.22,297.66 116.03,297.85 115.87,298.07 115.73,298.32 115.60,298.60 115.50,298.92 115.45,299.29 115.43,299.71 115.44,300.16 115.45,300.62 115.46,301.09 115.45,301.56 115.40,302.00 115.32,302.43 115.22,302.85 115.11,303.27 114.99,303.69 114.86,304.12 114.73,304.57 114.61,305.02 114.50,305.50 114.41,306.00 114.35,306.53 114.30,307.07 114.24,307.62 114.17,308.17 114.07,308.73 113.91,309.27 113.70,309.80 113.43,310.31 113.12,310.82 112.78,311.32 112.39,311.82 111.97,312.31 111.52,312.81 111.03,313.30 110.50,313.80 109.93,314.31 109.31,314.82 108.65,315.34 107.95,315.85 107.23,316.36 106.49,316.86 105.75,317.34 105.00,317.80 104.24,318.25 103.44,318.70 102.63,319.15 101.81,319.58 100.98,319.98 100.16,320.36 99.37,320.70 98.60,321.00 97.86,321.24 97.14,321.42 96.44,321.56 95.75,321.68 95.06,321.78 94.38,321.89 93.69,322.03 93.00,322.20 92.31,322.41 91.64,322.65 90.98,322.91 90.31,323.18 89.63,323.44 88.93,323.71 88.19,323.96 87.40,324.20 86.55,324.42 85.64,324.63 84.70,324.84 83.73,325.04 82.75,325.23 81.79,325.42 80.87,325.61 80.00,325.80 79.15,325.99 78.30,326.18 77.46,326.37 76.65,326.56 75.88,326.74 75.17,326.91 74.54,327.06 74.00,327.20 73.56,327.32 73.21,327.42 72.94,327.51 72.72,327.59 72.56,327.65 72.42,327.71 72.31,327.76 72.20,327.80" fill="none" stroke="#ff1010" stroke-width="2.4" stroke-linejoin="round" stroke-linecap="round" />
<circle cx="161.20" cy="350.00" r="1.35" fill="#ff1010"/>
<circle cx="161.12" cy="347.41" r="1.35" fill="#ff1010"/>
<circle cx="160.98" cy="344.78" r="1.35" fill="#ff1010"/>
<circle cx="160.63" cy="342.17" r="1.35" fill="#ff1010"/>
<circle cx="159.99" cy="339.62" r="1.35" fill="#ff1010"/>
<circle cx="159.18" cy="337.11" r="1.35" fill="#ff1010"/>
<circle cx="158.31" cy="334.67" r="1.35" fill="#ff1010"/>
<circle cx="157.39" cy="332.20" r="1.35" fill="#ff1010"/>
<circle cx="156.50" cy="329.72" r="1.35" fill="#ff1010"/>
<circle cx="155.60" cy="327.24" r="1.35" fill="#ff1010"/>
<circle cx="154.60" cy="324.81" r="1.35" fill="#ff1010"/>
<circle cx="153.42" cy="322.50" r="1.35" fill="#ff1010"/>
<circle cx="152.00" cy="320.28" r="1.35" fill="#ff1010"/>
<circle cx="150.40" cy="318.19" r="1.35" fill="#ff1010"/>
<circle cx="148.68" cy="316.19" r="1.35" fill="#ff1010"/>
<circle cx="146.87" cy="314.28" r="1.35" fill="#ff1010"/>
<circle cx="145.02" cy="312.46" r="1.35" fill="#ff1010"/>
<circle cx="143.04" cy="310.73" r="1.35" fill="#ff1010"/>
<circle cx="140.97" cy="309.10" r="1.35" fill="#ff1010"/>
<circle cx="138.83" cy="307.57" r="1.35" fill="#ff1010"/>
<circle cx="136.62" cy="306.12" r="1.35" fill="#ff1010"/>
<circle cx="134.37" cy="304.84" r="1.35" fill="#ff1010"/>
<circle cx="132.03" cy="303.62" r="1.35" fill="#ff1010"/>
<circle cx="129.68" cy="302.44" r="1.35" fill="#ff1010"/>
<circle cx="127.31" cy="301.29" r="1.35" fill="#ff1010"/>
<circle cx="124.90" cy="300.21" r="1.35" fill="#ff1010"/>
<circle cx="122.52" cy="299.20" r="1.35" fill="#ff1010"/>
<circle cx="120.09" cy="298.19" r="1.35" fill="#ff1010"/>
<circle cx="117.57" cy="297.41" r="1.35" fill="#ff1010"/>
<circle cx="115.57" cy="298.68" r="1.35" fill="#ff1010"/>
<circle cx="115.45" cy="301.30" r="1.35" fill="#ff1010"/>
<circle cx="114.95" cy="303.83" r="1.35" fill="#ff1010"/>
<circle cx="114.36" cy="306.40" r="1.35" fill="#ff1010"/>
<circle cx="113.99" cy="309.00" r="1.35" fill="#ff1010"/>
<circle cx="112.78" cy="311.32" r="1.35" fill="#ff1010"/>
<circle cx="111.03" cy="313.30" r="1.35" fill="#ff1010"/>
<circle cx="109.08" cy="315.00" r="1.35" fill="#ff1010"/>
<circle cx="106.95" cy="316.55" r="1.35" fill="#ff1010"/>
<circle cx="104.73" cy="317.96" r="1.35" fill="#ff1010"/>
<circle cx="102.43" cy="319.25" r="1.35" fill="#ff1010"/>
<circle cx="100.06" cy="320.40" r="1.35" fill="#ff1010"/>
<circle cx="97.63" cy="321.30" r="1.35" fill="#ff1010"/>
<circle cx="95.04" cy="321.78" r="1.35" fill="#ff1010"/>
<circle cx="92.48" cy="322.36" r="1.35" fill="#ff1010"/>
<circle cx="90.01" cy="323.29" r="1.35" fill="#ff1010"/>
<circle cx="87.53" cy="324.16" r="1.35" fill="#ff1010"/>
<circle cx="85.01" cy="324.77" r="1.35" fill="#ff1010"/>
<circle cx="82.43" cy="325.30" r="1.35" fill="#ff1010"/>
<circle cx="79.85" cy="325.83" r="1.35" fill="#ff1010"/>
<circle cx="77.28" cy="326.42" r="1.35" fill="#ff1010"/>
<circle cx="74.71" cy="327.02" r="1.35" fill="#ff1010"/>
<circle cx="72.20" cy="327.80" r="1.35" fill="#ff1010"/>
<polyline points="161.50,350.00 161.53,349.38 161.57,348.56 161.62,347.59 161.67,346.50 161.74,345.35 161.81,344.19 161.90,343.05 162.00,342.00 162.11,340.99 162.24,339.95 162.37,338.91 162.52,337.88 162.68,336.85 162.84,335.86 163.02,334.90 163.20,334.00 163.39,333.16 163.59,332.38 163.80,331.65 164.02,330.94 164.25,330.24 164.49,329.52 164.74,328.78 165.00,328.00 165.28,327.16 165.57,326.27 165.88,325.36 166.19,324.44 166.52,323.52 166.84,322.63 167.17,321.79 167.50,321.00 167.81,320.29 168.11,319.63 168.41,319.02 168.71,318.44 169.02,317.86 169.37,317.27 169.76,316.66 170.20,316.00 170.70,315.29 171.24,314.54 171.82,313.77 172.43,312.99 173.06,312.21 173.71,311.44 174.36,310.70 175.00,310.00 175.65,309.33 176.33,308.67 177.02,308.03 177.71,307.41 178.41,306.82 179.09,306.25 179.76,305.71 180.40,305.20 181.01,304.74 181.59,304.32 182.14,303.93 182.69,303.57 183.24,303.23 183.81,302.89 184.39,302.55 185.00,302.20 185.65,301.83 186.34,301.46 187.04,301.10 187.76,300.73 188.47,300.38 189.17,300.03 189.85,299.71 190.50,299.40 191.10,299.12 191.67,298.86 192.21,298.63 192.74,298.40 193.27,298.18 193.81,297.96 194.39,297.74 195.00,297.50 195.66,297.25 196.37,296.98 197.11,296.71 197.86,296.44 198.61,296.18 199.35,295.93 200.05,295.70 200.70,295.50 201.29,295.33 201.84,295.17 202.34,295.04 202.84,294.93 203.33,294.82 203.85,294.71 204.40,294.61 205.00,294.50 205.69,294.39 206.45,294.27 207.26,294.16 208.09,294.05 208.90,293.95 209.65,293.85 210.33,293.77 210.90,293.70 211.36,293.64 211.74,293.60 212.06,293.57 212.32,293.55 212.53,293.53 212.71,293.52 212.86,293.51 213.00,293.50" fill="none" stroke="#ff1010" stroke-width="2.4" stroke-linejoin="round" stroke-linecap="round" />
<circle cx="161.50" cy="350.00" r="1.35" fill="#ff1010"/>
<circle cx="161.63" cy="347.35" r="1.35" fill="#ff1010"/>
<circle cx="161.78" cy="344.68" r="1.35" fill="#ff1010"/>
<circle cx="162.00" cy="342.00" r="1.35" fill="#ff1010"/>
<circle cx="162.31" cy="339.37" r="1.35" fill="#ff1010"/>
<circle cx="162.70" cy="336.72" r="1.35" fill="#ff1010"/>
<circle cx="163.18" cy="334.08" r="1.35" fill="#ff1010"/>
<circle cx="163.85" cy="331.49" r="1.35" fill="#ff1010"/>
<circle cx="164.67" cy="328.97" r="1.35" fill="#ff1010"/>
<circle cx="165.52" cy="326.43" r="1.35" fill="#ff1010"/>
<circle cx="166.39" cy="323.89" r="1.35" fill="#ff1010"/>
<circle cx="167.33" cy="321.41" r="1.35" fill="#ff1010"/>
<circle cx="168.43" cy="318.97" r="1.35" fill="#ff1010"/>
<circle cx="169.77" cy="316.65" r="1.35" fill="#ff1010"/>
<circle cx="171.31" cy="314.45" r="1.35" fill="#ff1010"/>
<circle cx="172.94" cy="312.36" r="1.35" fill="#ff1010"/>
<circle cx="174.69" cy="310.34" r="1.35" fill="#ff1010"/>
<circle cx="176.58" cy="308.44" r="1.35" fill="#ff1010"/>
<circle cx="178.57" cy="306.68" r="1.35" fill="#ff1010"/>
<circle cx="180.66" cy="305.00" r="1.35" fill="#ff1010"/>
<circle cx="182.86" cy="303.47" r="1.35" fill="#ff1010"/>
<circle cx="185.16" cy="302.11" r="1.35" fill="#ff1010"/>
<circle cx="187.50" cy="300.86" r="1.35" fill="#ff1010"/>
<circle cx="189.91" cy="299.68" r="1.35" fill="#ff1010"/>
<circle cx="192.35" cy="298.57" r="1.35" fill="#ff1010"/>
<circle cx="194.81" cy="297.57" r="1.35" fill="#ff1010"/>
<circle cx="197.32" cy="296.64" r="1.35" fill="#ff1010"/>
<circle cx="199.85" cy="295.77" r="1.35" fill="#ff1010"/>
<circle cx="202.43" cy="295.02" r="1.35" fill="#ff1010"/>
<circle cx="205.02" cy="294.50" r="1.35" fill="#ff1010"/>
<circle cx="207.67" cy="294.10" r="1.35" fill="#ff1010"/>
<circle cx="210.33" cy="293.77" r="1.35" fill="#ff1010"/>
<circle cx="213.00" cy="293.50" r="1.35" fill="#ff1010"/>
<polyline points="72.20,305.60 72.72,306.05 73.41,306.66 74.23,307.38 75.14,308.18 76.11,309.02 77.11,309.88 78.08,310.72 79.00,311.50 79.88,312.23 80.76,312.94 81.64,313.65 82.53,314.36 83.44,315.09 84.36,315.85 85.32,316.65 86.30,317.50 87.31,318.40 88.35,319.35 89.40,320.34 90.48,321.35 91.58,322.39 92.70,323.45 93.84,324.52 95.00,325.60 96.17,326.69 97.36,327.79 98.57,328.90 99.79,330.04 101.05,331.19 102.33,332.37 103.65,333.57 105.00,334.80 106.42,336.08 107.93,337.41 109.49,338.78 111.06,340.16 112.63,341.55 114.16,342.91 115.63,344.23 117.00,345.50 118.30,346.74 119.58,347.97 120.81,349.20 122.00,350.39 123.12,351.53 124.17,352.61 125.13,353.60 126.00,354.50 126.73,355.23 127.30,355.79 127.78,356.23 128.19,356.62 128.57,357.03 128.98,357.52 129.44,358.16 130.00,359.00 130.66,360.07 131.39,361.32 132.17,362.69 132.97,364.16 133.77,365.66 134.56,367.17 135.31,368.63 136.00,370.00 136.65,371.33 137.27,372.69 137.87,374.04 138.44,375.38 139.00,376.66 139.52,377.88 140.02,379.00 140.50,380.00 140.94,380.86 141.35,381.59 141.73,382.22 142.08,382.79 142.42,383.32 142.75,383.84 143.07,384.39 143.40,385.00 143.72,385.62 144.04,386.19 144.34,386.74 144.63,387.31 144.92,387.93 145.21,388.63 145.50,389.44 145.80,390.40 146.10,391.54 146.40,392.85 146.70,394.29 147.01,395.79 147.31,397.33 147.61,398.84 147.90,400.28 148.20,401.60 148.50,402.82 148.80,403.99 149.10,405.11 149.40,406.20 149.69,407.26 149.98,408.29 150.25,409.30 150.50,410.30 150.73,411.27 150.94,412.19 151.14,413.09 151.32,413.96 151.51,414.83 151.70,415.70 151.89,416.59 152.10,417.50 152.33,418.43 152.56,419.36 152.80,420.30 153.05,421.25 153.30,422.21 153.54,423.19 153.77,424.18 154.00,425.20 154.21,426.24 154.42,427.29 154.62,428.35 154.82,429.44 155.01,430.54 155.21,431.67 155.40,432.82 155.60,434.00 155.80,435.21 156.00,436.45 156.20,437.71 156.40,439.00 156.60,440.31 156.80,441.63 157.00,442.96 157.20,444.30 157.41,445.72 157.63,447.26 157.86,448.86 158.09,450.45 158.30,451.97 158.50,453.36 158.67,454.56 158.80,455.50 158.89,456.16 158.95,456.59 158.99,456.84 159.00,456.95 159.00,456.97 159.00,456.96 158.99,456.95 159.00,457.00" fill="none" stroke="#1010f0" stroke-width="2.0" stroke-linejoin="round" stroke-linecap="round" />
<circle cx="72.20" cy="305.60" r="1.45" fill="#1010f0"/>
<circle cx="74.39" cy="307.52" r="1.45" fill="#1010f0"/>
<circle cx="76.59" cy="309.43" r="1.45" fill="#1010f0"/>
<circle cx="78.85" cy="311.37" r="1.45" fill="#1010f0"/>
<circle cx="81.10" cy="313.22" r="1.45" fill="#1010f0"/>
<circle cx="83.37" cy="315.04" r="1.45" fill="#1010f0"/>
<circle cx="85.65" cy="316.94" r="1.45" fill="#1010f0"/>
<circle cx="87.83" cy="318.88" r="1.45" fill="#1010f0"/>
<circle cx="89.96" cy="320.86" r="1.45" fill="#1010f0"/>
<circle cx="92.12" cy="322.90" r="1.45" fill="#1010f0"/>
<circle cx="94.25" cy="324.90" r="1.45" fill="#1010f0"/>
<circle cx="96.43" cy="326.92" r="1.45" fill="#1010f0"/>
<circle cx="98.56" cy="328.90" r="1.45" fill="#1010f0"/>
<circle cx="100.70" cy="330.88" r="1.45" fill="#1010f0"/>
<circle cx="102.90" cy="332.89" r="1.45" fill="#1010f0"/>
<circle cx="105.05" cy="334.85" r="1.45" fill="#1010f0"/>
<circle cx="107.22" cy="336.79" r="1.45" fill="#1010f0"/>
<circle cx="109.46" cy="338.75" r="1.45" fill="#1010f0"/>
<circle cx="111.64" cy="340.67" r="1.45" fill="#1010f0"/>
<circle cx="113.87" cy="342.65" r="1.45" fill="#1010f0"/>
<circle cx="116.03" cy="344.60" r="1.45" fill="#1010f0"/>
<circle cx="118.15" cy="346.59" r="1.45" fill="#1010f0"/>
<circle cx="120.28" cy="348.67" r="1.45" fill="#1010f0"/>
<circle cx="122.34" cy="350.73" r="1.45" fill="#1010f0"/>
<circle cx="124.37" cy="352.82" r="1.45" fill="#1010f0"/>
<circle cx="126.45" cy="354.95" r="1.45" fill="#1010f0"/>
<circle cx="128.53" cy="356.99" r="1.45" fill="#1010f0"/>
<circle cx="130.25" cy="359.40" r="1.45" fill="#1010f0"/>
<circle cx="131.73" cy="361.91" r="1.45" fill="#1010f0"/>
<circle cx="133.13" cy="364.47" r="1.45" fill="#1010f0"/>
<circle cx="134.52" cy="367.10" r="1.45" fill="#1010f0"/>
<circle cx="135.84" cy="369.69" r="1.45" fill="#1010f0"/>
<circle cx="137.10" cy="372.32" r="1.45" fill="#1010f0"/>
<circle cx="138.30" cy="375.04" r="1.45" fill="#1010f0"/>
<circle cx="139.45" cy="377.71" r="1.45" fill="#1010f0"/>
<circle cx="140.68" cy="380.36" r="1.45" fill="#1010f0"/>
<circle cx="142.17" cy="382.93" r="1.45" fill="#1010f0"/>
<circle cx="143.63" cy="385.44" r="1.45" fill="#1010f0"/>
<circle cx="144.99" cy="388.09" r="1.45" fill="#1010f0"/>
<circle cx="145.92" cy="390.85" r="1.45" fill="#1010f0"/>
<circle cx="146.58" cy="393.68" r="1.45" fill="#1010f0"/>
<circle cx="147.16" cy="396.60" r="1.45" fill="#1010f0"/>
<circle cx="147.73" cy="399.46" r="1.45" fill="#1010f0"/>
<circle cx="148.37" cy="402.30" r="1.45" fill="#1010f0"/>
<circle cx="149.12" cy="405.18" r="1.45" fill="#1010f0"/>
<circle cx="149.89" cy="407.98" r="1.45" fill="#1010f0"/>
<circle cx="150.63" cy="410.86" r="1.45" fill="#1010f0"/>
<circle cx="151.27" cy="413.71" r="1.45" fill="#1010f0"/>
<circle cx="151.88" cy="416.55" r="1.45" fill="#1010f0"/>
<circle cx="152.58" cy="419.44" r="1.45" fill="#1010f0"/>
<circle cx="153.31" cy="422.27" r="1.45" fill="#1010f0"/>
<circle cx="153.98" cy="425.10" r="1.45" fill="#1010f0"/>
<circle cx="154.56" cy="428.02" r="1.45" fill="#1010f0"/>
<circle cx="155.07" cy="430.88" r="1.45" fill="#1010f0"/>
<circle cx="155.57" cy="433.82" r="1.45" fill="#1010f0"/>
<circle cx="156.04" cy="436.69" r="1.45" fill="#1010f0"/>
<circle cx="156.49" cy="439.57" r="1.45" fill="#1010f0"/>
<circle cx="156.93" cy="442.51" r="1.45" fill="#1010f0"/>
<circle cx="157.36" cy="445.39" r="1.45" fill="#1010f0"/>
<circle cx="157.78" cy="448.27" r="1.45" fill="#1010f0"/>
<circle cx="158.20" cy="451.22" r="1.45" fill="#1010f0"/>
<circle cx="158.60" cy="454.10" r="1.45" fill="#1010f0"/>
<circle cx="159.00" cy="457.00" r="1.45" fill="#1010f0"/>
<polyline points="162.40,457.00 162.41,456.46 162.42,455.74 162.43,454.89 162.44,453.94 162.46,452.94 162.49,451.92 162.54,450.93 162.60,450.00 162.68,449.16 162.78,448.37 162.90,447.60 163.02,446.82 163.16,445.99 163.30,445.09 163.45,444.07 163.60,442.90 163.76,441.55 163.93,440.04 164.11,438.40 164.30,436.69 164.49,434.95 164.67,433.23 164.84,431.56 165.00,430.00 165.13,428.59 165.25,427.31 165.34,426.10 165.44,424.89 165.54,423.64 165.66,422.28 165.81,420.75 166.00,419.00 166.24,416.93 166.51,414.58 166.81,412.03 167.13,409.39 167.46,406.75 167.79,404.20 168.10,401.85 168.40,399.80 168.68,398.03 168.96,396.45 169.24,395.02 169.51,393.72 169.77,392.50 170.02,391.33 170.27,390.17 170.50,389.00 170.71,387.85 170.91,386.76 171.08,385.72 171.26,384.72 171.43,383.73 171.60,382.74 171.79,381.74 172.00,380.70 172.22,379.63 172.45,378.54 172.68,377.44 172.92,376.34 173.18,375.24 173.44,374.14 173.71,373.06 174.00,372.00 174.30,370.95 174.61,369.89 174.93,368.84 175.27,367.81 175.61,366.79 175.97,365.79 176.33,364.83 176.70,363.90 177.08,363.01 177.47,362.16 177.87,361.34 178.27,360.54 178.69,359.76 179.12,359.00 179.55,358.25 180.00,357.50 180.44,356.77 180.87,356.06 181.30,355.37 181.74,354.69 182.21,354.02 182.72,353.35 183.28,352.68 183.90,352.00 184.60,351.33 185.39,350.67 186.23,350.02 187.11,349.37 187.99,348.71 188.87,348.03 189.71,347.33 190.50,346.60 191.24,345.83 191.95,345.01 192.64,344.17 193.31,343.31 193.97,342.45 194.62,341.61 195.26,340.79 195.90,340.00 196.51,339.25 197.08,338.54 197.63,337.84 198.18,337.16 198.74,336.48 199.34,335.80 199.98,335.11 200.70,334.40 201.49,333.68 202.36,332.96 203.27,332.23 204.21,331.50 205.17,330.76 206.14,330.02 207.08,329.26 208.00,328.50 208.91,327.70 209.85,326.87 210.80,326.01 211.73,325.16 212.64,324.32 213.50,323.51 214.29,322.77 215.00,322.10 215.60,321.53 216.08,321.05 216.49,320.62 216.86,320.24 217.22,319.86 217.61,319.46 218.06,319.02 218.60,318.50 219.24,317.91 219.93,317.26 220.67,316.58 221.45,315.88 222.24,315.16 223.04,314.45 223.83,313.76 224.60,313.10 225.37,312.46 226.17,311.82 226.99,311.18 227.79,310.55 228.58,309.94 229.32,309.36 230.00,308.81 230.60,308.30 231.13,307.84 231.60,307.42 232.02,307.04 232.39,306.68 232.72,306.34 233.01,306.00 233.27,305.66 233.50,305.30 233.68,304.94 233.80,304.58 233.87,304.24 233.91,303.89 233.93,303.53 233.96,303.17 234.01,302.80 234.10,302.40 234.23,301.99 234.37,301.56 234.53,301.13 234.70,300.68 234.87,300.22 235.03,299.76 235.17,299.28 235.30,298.80 235.41,298.27 235.51,297.69 235.60,297.08 235.68,296.48 235.75,295.89 235.81,295.37 235.86,294.93 235.90,294.60" fill="none" stroke="#1010f0" stroke-width="2.0" stroke-linejoin="round" stroke-linecap="round" />
<circle cx="162.40" cy="457.00" r="1.45" fill="#1010f0"/>
<circle cx="162.44" cy="454.12" r="1.45" fill="#1010f0"/>
<circle cx="162.52" cy="451.18" r="1.45" fill="#1010f0"/>
<circle cx="162.80" cy="448.25" r="1.45" fill="#1010f0"/>
<circle cx="163.26" cy="445.34" r="1.45" fill="#1010f0"/>
<circle cx="163.66" cy="442.42" r="1.45" fill="#1010f0"/>
<circle cx="163.99" cy="439.50" r="1.45" fill="#1010f0"/>
<circle cx="164.31" cy="436.57" r="1.45" fill="#1010f0"/>
<circle cx="164.62" cy="433.71" r="1.45" fill="#1010f0"/>
<circle cx="164.92" cy="430.78" r="1.45" fill="#1010f0"/>
<circle cx="165.20" cy="427.85" r="1.45" fill="#1010f0"/>
<circle cx="165.44" cy="424.92" r="1.45" fill="#1010f0"/>
<circle cx="165.69" cy="421.99" r="1.45" fill="#1010f0"/>
<circle cx="165.99" cy="419.06" r="1.45" fill="#1010f0"/>
<circle cx="166.33" cy="416.13" r="1.45" fill="#1010f0"/>
<circle cx="166.66" cy="413.27" r="1.45" fill="#1010f0"/>
<circle cx="167.01" cy="410.35" r="1.45" fill="#1010f0"/>
<circle cx="167.38" cy="407.43" r="1.45" fill="#1010f0"/>
<circle cx="167.75" cy="404.51" r="1.45" fill="#1010f0"/>
<circle cx="168.14" cy="401.59" r="1.45" fill="#1010f0"/>
<circle cx="168.58" cy="398.68" r="1.45" fill="#1010f0"/>
<circle cx="169.09" cy="395.78" r="1.45" fill="#1010f0"/>
<circle cx="169.67" cy="392.96" r="1.45" fill="#1010f0"/>
<circle cx="170.29" cy="390.08" r="1.45" fill="#1010f0"/>
<circle cx="170.83" cy="387.19" r="1.45" fill="#1010f0"/>
<circle cx="171.33" cy="384.29" r="1.45" fill="#1010f0"/>
<circle cx="171.86" cy="381.39" r="1.45" fill="#1010f0"/>
<circle cx="172.45" cy="378.51" r="1.45" fill="#1010f0"/>
<circle cx="173.09" cy="375.64" r="1.45" fill="#1010f0"/>
<circle cx="173.77" cy="372.84" r="1.45" fill="#1010f0"/>
<circle cx="174.58" cy="370.01" r="1.45" fill="#1010f0"/>
<circle cx="175.47" cy="367.20" r="1.45" fill="#1010f0"/>
<circle cx="176.48" cy="364.44" r="1.45" fill="#1010f0"/>
<circle cx="177.67" cy="361.75" r="1.45" fill="#1010f0"/>
<circle cx="179.04" cy="359.14" r="1.45" fill="#1010f0"/>
<circle cx="180.54" cy="356.61" r="1.45" fill="#1010f0"/>
<circle cx="182.09" cy="354.19" r="1.45" fill="#1010f0"/>
<circle cx="183.98" cy="351.93" r="1.45" fill="#1010f0"/>
<circle cx="186.22" cy="350.03" r="1.45" fill="#1010f0"/>
<circle cx="188.58" cy="348.26" r="1.45" fill="#1010f0"/>
<circle cx="190.78" cy="346.31" r="1.45" fill="#1010f0"/>
<circle cx="192.70" cy="344.09" r="1.45" fill="#1010f0"/>
<circle cx="194.50" cy="341.76" r="1.45" fill="#1010f0"/>
<circle cx="196.30" cy="339.51" r="1.45" fill="#1010f0"/>
<circle cx="198.14" cy="337.21" r="1.45" fill="#1010f0"/>
<circle cx="200.09" cy="335.00" r="1.45" fill="#1010f0"/>
<circle cx="202.27" cy="333.03" r="1.45" fill="#1010f0"/>
<circle cx="204.59" cy="331.21" r="1.45" fill="#1010f0"/>
<circle cx="206.91" cy="329.40" r="1.45" fill="#1010f0"/>
<circle cx="209.15" cy="327.50" r="1.45" fill="#1010f0"/>
<circle cx="211.29" cy="325.56" r="1.45" fill="#1010f0"/>
<circle cx="213.44" cy="323.56" r="1.45" fill="#1010f0"/>
<circle cx="215.58" cy="321.54" r="1.45" fill="#1010f0"/>
<circle cx="217.64" cy="319.43" r="1.45" fill="#1010f0"/>
<circle cx="219.77" cy="317.41" r="1.45" fill="#1010f0"/>
<circle cx="221.95" cy="315.43" r="1.45" fill="#1010f0"/>
<circle cx="224.16" cy="313.48" r="1.45" fill="#1010f0"/>
<circle cx="226.38" cy="311.65" r="1.45" fill="#1010f0"/>
<circle cx="228.70" cy="309.84" r="1.45" fill="#1010f0"/>
<circle cx="230.98" cy="307.97" r="1.45" fill="#1010f0"/>
<circle cx="233.08" cy="305.91" r="1.45" fill="#1010f0"/>
<circle cx="233.96" cy="303.18" r="1.45" fill="#1010f0"/>
<circle cx="234.81" cy="300.37" r="1.45" fill="#1010f0"/>
<circle cx="235.53" cy="297.52" r="1.45" fill="#1010f0"/>
<circle cx="235.90" cy="294.60" r="1.45" fill="#1010f0"/>
<polyline points="159.40,350.00 159.45,349.46 159.53,348.74 159.63,347.89 159.74,346.94 159.82,345.93 159.87,344.91 159.87,343.92 159.80,343.00 159.64,342.10 159.41,341.17 159.13,340.22 158.81,339.28 158.47,338.37 158.15,337.50 157.85,336.71 157.60,336.00 157.41,335.43 157.27,334.98 157.16,334.63 157.06,334.31 156.94,333.99 156.79,333.61 156.58,333.13 156.30,332.50 155.95,331.71 155.57,330.81 155.14,329.83 154.67,328.78 154.16,327.69 153.61,326.60 153.02,325.53 152.40,324.50 151.73,323.50 151.01,322.48 150.25,321.46 149.46,320.45 148.63,319.45 147.77,318.47 146.89,317.52 146.00,316.60 145.08,315.71 144.11,314.84 143.12,313.98 142.10,313.16 141.07,312.36 140.04,311.60 139.01,310.87 138.00,310.20 136.97,309.57 135.88,308.98 134.78,308.44 133.69,307.93 132.63,307.45 131.65,307.00 130.76,306.59 130.00,306.20 129.42,305.87 129.02,305.62 128.73,305.42 128.50,305.24 128.27,305.05 127.98,304.84 127.58,304.56 127.00,304.20 126.24,303.74 125.35,303.20 124.37,302.61 123.31,301.99 122.22,301.35 121.12,300.73 120.03,300.14 119.00,299.60 118.00,299.11 117.00,298.65 116.00,298.20 115.00,297.78 114.00,297.36 113.00,296.97 112.00,296.58 111.00,296.20 109.99,295.83 108.98,295.47 107.96,295.11 106.94,294.77 105.93,294.45 104.93,294.15 103.95,293.86 103.00,293.60 102.05,293.36 101.10,293.12 100.15,292.91 99.22,292.71 98.32,292.54 97.48,292.40 96.70,292.28 96.00,292.20 95.39,292.16 94.86,292.16 94.39,292.19 93.97,292.25 93.59,292.33 93.22,292.42 92.87,292.51 92.50,292.60 92.14,292.69 91.79,292.78 91.47,292.89 91.16,293.00 90.86,293.13 90.57,293.27 90.28,293.42 90.00,293.60 89.72,293.80 89.45,294.02 89.18,294.25 88.92,294.50 88.67,294.76 88.43,295.03 88.21,295.31 88.00,295.60 87.82,295.90 87.66,296.21 87.53,296.53 87.40,296.86 87.27,297.20 87.14,297.54 86.98,297.87 86.80,298.20 86.60,298.53 86.38,298.87 86.16,299.22 85.92,299.56 85.67,299.90 85.40,300.22 85.11,300.52 84.80,300.80 84.47,301.05 84.14,301.28 83.79,301.48 83.42,301.68 83.03,301.86 82.60,302.04 82.12,302.22 81.60,302.40 81.00,302.58 80.33,302.75 79.60,302.92 78.84,303.09 78.07,303.25 77.33,303.43 76.63,303.61 76.00,303.80 75.41,304.02 74.83,304.26 74.28,304.52 73.75,304.79 73.27,305.04 72.84,305.27 72.48,305.46 72.20,305.60" fill="none" stroke="#1010f0" stroke-width="2.3" stroke-linejoin="round" stroke-linecap="round" />
<circle cx="159.40" cy="350.00" r="1.45" fill="#1010f0"/>
<circle cx="159.72" cy="347.12" r="1.45" fill="#1010f0"/>
<circle cx="159.87" cy="344.23" r="1.45" fill="#1010f0"/>
<circle cx="159.45" cy="341.33" r="1.45" fill="#1010f0"/>
<circle cx="158.55" cy="338.58" r="1.45" fill="#1010f0"/>
<circle cx="157.54" cy="335.82" r="1.45" fill="#1010f0"/>
<circle cx="156.57" cy="333.09" r="1.45" fill="#1010f0"/>
<circle cx="155.40" cy="330.44" r="1.45" fill="#1010f0"/>
<circle cx="154.19" cy="327.76" r="1.45" fill="#1010f0"/>
<circle cx="152.83" cy="325.21" r="1.45" fill="#1010f0"/>
<circle cx="151.21" cy="322.76" r="1.45" fill="#1010f0"/>
<circle cx="149.46" cy="320.45" r="1.45" fill="#1010f0"/>
<circle cx="147.57" cy="318.25" r="1.45" fill="#1010f0"/>
<circle cx="145.53" cy="316.15" r="1.45" fill="#1010f0"/>
<circle cx="143.38" cy="314.21" r="1.45" fill="#1010f0"/>
<circle cx="141.08" cy="312.37" r="1.45" fill="#1010f0"/>
<circle cx="138.73" cy="310.69" r="1.45" fill="#1010f0"/>
<circle cx="136.25" cy="309.18" r="1.45" fill="#1010f0"/>
<circle cx="133.61" cy="307.89" r="1.45" fill="#1010f0"/>
<circle cx="130.98" cy="306.69" r="1.45" fill="#1010f0"/>
<circle cx="128.45" cy="305.20" r="1.45" fill="#1010f0"/>
<circle cx="126.03" cy="303.62" r="1.45" fill="#1010f0"/>
<circle cx="123.55" cy="302.13" r="1.45" fill="#1010f0"/>
<circle cx="121.00" cy="300.66" r="1.45" fill="#1010f0"/>
<circle cx="118.43" cy="299.32" r="1.45" fill="#1010f0"/>
<circle cx="115.76" cy="298.10" r="1.45" fill="#1010f0"/>
<circle cx="113.08" cy="297.00" r="1.45" fill="#1010f0"/>
<circle cx="110.37" cy="295.97" r="1.45" fill="#1010f0"/>
<circle cx="107.60" cy="295.00" r="1.45" fill="#1010f0"/>
<circle cx="104.84" cy="294.12" r="1.45" fill="#1010f0"/>
<circle cx="102.01" cy="293.34" r="1.45" fill="#1010f0"/>
<circle cx="99.18" cy="292.71" r="1.45" fill="#1010f0"/>
<circle cx="96.32" cy="292.24" r="1.45" fill="#1010f0"/>
<circle cx="93.41" cy="292.37" r="1.45" fill="#1010f0"/>
<circle cx="90.65" cy="293.23" r="1.45" fill="#1010f0"/>
<circle cx="88.40" cy="295.08" r="1.45" fill="#1010f0"/>
<circle cx="87.09" cy="297.64" r="1.45" fill="#1010f0"/>
<circle cx="85.52" cy="300.08" r="1.45" fill="#1010f0"/>
<circle cx="83.17" cy="301.79" r="1.45" fill="#1010f0"/>
<circle cx="80.43" cy="302.73" r="1.45" fill="#1010f0"/>
<circle cx="77.57" cy="303.37" r="1.45" fill="#1010f0"/>
<circle cx="74.82" cy="304.27" r="1.45" fill="#1010f0"/>
<circle cx="72.20" cy="305.60" r="1.45" fill="#1010f0"/>
<polyline points="162.80,350.00 162.77,349.46 162.72,348.74 162.66,347.89 162.60,346.94 162.55,345.93 162.53,344.91 162.54,343.92 162.60,343.00 162.71,342.12 162.86,341.25 163.04,340.38 163.24,339.50 163.47,338.62 163.71,337.75 163.95,336.88 164.20,336.00 164.45,335.10 164.72,334.17 165.00,333.22 165.29,332.28 165.59,331.37 165.89,330.50 166.20,329.71 166.50,329.00 166.80,328.40 167.09,327.88 167.39,327.44 167.69,327.04 168.00,326.67 168.32,326.31 168.65,325.92 169.00,325.50 169.36,325.06 169.74,324.63 170.12,324.20 170.52,323.76 170.93,323.31 171.34,322.84 171.77,322.34 172.20,321.80 172.64,321.21 173.09,320.57 173.55,319.89 174.02,319.20 174.50,318.50 174.99,317.81 175.49,317.14 176.00,316.50 176.52,315.90 177.05,315.31 177.60,314.73 178.15,314.17 178.71,313.62 179.27,313.07 179.84,312.53 180.40,312.00 180.96,311.47 181.51,310.96 182.07,310.45 182.63,309.96 183.20,309.46 183.78,308.97 184.38,308.49 185.00,308.00 185.65,307.51 186.34,307.01 187.04,306.50 187.76,306.01 188.47,305.52 189.17,305.05 189.85,304.61 190.50,304.20 191.10,303.82 191.67,303.48 192.21,303.16 192.74,302.86 193.27,302.57 193.81,302.28 194.39,301.99 195.00,301.70 195.66,301.40 196.37,301.10 197.11,300.80 197.86,300.51 198.61,300.22 199.35,299.94 200.05,299.66 200.70,299.40 201.29,299.15 201.84,298.91 202.34,298.68 202.84,298.46 203.33,298.24 203.85,298.02 204.40,297.81 205.00,297.60 205.67,297.39 206.40,297.17 207.17,296.96 207.96,296.75 208.75,296.55 209.51,296.35 210.24,296.17 210.90,296.00 211.50,295.84 212.05,295.70 212.57,295.57 213.07,295.44 213.55,295.33 214.02,295.21 214.50,295.11 215.00,295.00 215.53,294.89 216.10,294.79 216.68,294.68 217.26,294.59 217.80,294.50 218.28,294.42 218.69,294.35 219.00,294.30" fill="none" stroke="#1010f0" stroke-width="2.2" stroke-linejoin="round" stroke-linecap="round" />
<circle cx="162.80" cy="350.00" r="1.45" fill="#1010f0"/>
<circle cx="162.61" cy="347.03" r="1.45" fill="#1010f0"/>
<circle cx="162.54" cy="344.05" r="1.45" fill="#1010f0"/>
<circle cx="162.90" cy="341.07" r="1.45" fill="#1010f0"/>
<circle cx="163.59" cy="338.17" r="1.45" fill="#1010f0"/>
<circle cx="164.40" cy="335.27" r="1.45" fill="#1010f0"/>
<circle cx="165.25" cy="332.42" r="1.45" fill="#1010f0"/>
<circle cx="166.24" cy="329.61" r="1.45" fill="#1010f0"/>
<circle cx="167.73" cy="327.00" r="1.45" fill="#1010f0"/>
<circle cx="169.65" cy="324.73" r="1.45" fill="#1010f0"/>
<circle cx="171.65" cy="322.48" r="1.45" fill="#1010f0"/>
<circle cx="173.42" cy="320.09" r="1.45" fill="#1010f0"/>
<circle cx="175.12" cy="317.64" r="1.45" fill="#1010f0"/>
<circle cx="177.04" cy="315.32" r="1.45" fill="#1010f0"/>
<circle cx="179.13" cy="313.21" r="1.45" fill="#1010f0"/>
<circle cx="181.32" cy="311.14" r="1.45" fill="#1010f0"/>
<circle cx="183.55" cy="309.17" r="1.45" fill="#1010f0"/>
<circle cx="185.92" cy="307.31" r="1.45" fill="#1010f0"/>
<circle cx="188.36" cy="305.60" r="1.45" fill="#1010f0"/>
<circle cx="190.86" cy="303.98" r="1.45" fill="#1010f0"/>
<circle cx="193.46" cy="302.47" r="1.45" fill="#1010f0"/>
<circle cx="196.15" cy="301.19" r="1.45" fill="#1010f0"/>
<circle cx="198.95" cy="300.09" r="1.45" fill="#1010f0"/>
<circle cx="201.71" cy="298.97" r="1.45" fill="#1010f0"/>
<circle cx="204.44" cy="297.79" r="1.45" fill="#1010f0"/>
<circle cx="207.32" cy="296.92" r="1.45" fill="#1010f0"/>
<circle cx="210.21" cy="296.18" r="1.45" fill="#1010f0"/>
<circle cx="213.12" cy="295.43" r="1.45" fill="#1010f0"/>
<circle cx="216.03" cy="294.80" r="1.45" fill="#1010f0"/>
<circle cx="219.00" cy="294.30" r="1.45" fill="#1010f0"/>
<line x1="212.00" y1="293.80" x2="258.80" y2="293.80" stroke="#1010f0" stroke-width="2.6" />
<line x1="114.80" y1="281.50" x2="98.29" y2="288.22" stroke="#ff20ff" stroke-width="1.3" />
<polygon points="93.20,290.30 98.31,285.62 100.13,290.07" fill="#ff20ff" />
<line x1="241.30" y1="376.00" x2="252.06" y2="333.33" stroke="#ff20ff" stroke-width="1.2" />
<polygon points="253.40,328.00 254.33,334.94 249.29,333.67" fill="#ff20ff" />
<text x="117.40" y="284.40" font-size="13" text-anchor="start" font-weight="bold" fill="#000" stroke="#000" stroke-width="0.28" >V</text>
<text x="126.60" y="289.70" font-size="8" text-anchor="start" font-weight="bold" fill="#000" stroke="#000" stroke-width="0.19" >reset</text>
<text x="146.20" y="284.40" font-size="13" text-anchor="start" font-weight="bold" fill="#000" stroke="#000" stroke-width="0.28" >= -3.7 V</text>
<text x="168.40" y="271.20" font-size="12.3" text-anchor="start" font-weight="bold" fill="#a00000" stroke="#a00000" stroke-width="0.28" >CC = 80 µA</text>
<line x1="152.00" y1="307.00" x2="140.13" y2="297.59" stroke="#000" stroke-width="1.3" />
<polygon points="136.60,294.80 142.46,296.26 139.36,300.17" fill="#000" />
<text x="146.60" y="299.60" font-size="11" text-anchor="start" font-weight="bold" fill="#000" stroke="#000" stroke-width="0.26" >1</text>
<line x1="183.40" y1="297.70" x2="171.50" y2="308.05" stroke="#000" stroke-width="1.3" />
<polygon points="168.10,311.00 170.61,305.50 173.89,309.28" fill="#000" />
<text x="166.60" y="300.80" font-size="11" text-anchor="start" font-weight="bold" fill="#000" stroke="#000" stroke-width="0.26" >4</text>
<line x1="98.40" y1="370.30" x2="114.47" y2="383.01" stroke="#000" stroke-width="1.3" />
<polygon points="118.00,385.80 112.14,384.35 115.24,380.43" fill="#000" />
<text x="98.40" y="387.80" font-size="11" text-anchor="start" font-weight="bold" fill="#000" stroke="#000" stroke-width="0.26" >2</text>
<line x1="194.70" y1="391.40" x2="206.89" y2="380.15" stroke="#000" stroke-width="1.3" />
<polygon points="210.20,377.10 207.85,382.67 204.46,378.99" fill="#000" />
<text x="203.80" y="395.20" font-size="11" text-anchor="start" font-weight="bold" fill="#000" stroke="#000" stroke-width="0.26" >3</text>
<text x="223.20" y="387.80" font-size="13" text-anchor="start" font-weight="bold" fill="#000" stroke="#000" stroke-width="0.28" >V</text>
<text x="233.20" y="392.60" font-size="8" text-anchor="start" font-weight="bold" fill="#000" stroke="#000" stroke-width="0.19" >set</text>
<text x="246.00" y="387.80" font-size="13" text-anchor="start" font-weight="bold" fill="#000" stroke="#000" stroke-width="0.28" >=</text>
<text x="223.20" y="409.40" font-size="13" text-anchor="start" font-weight="bold" fill="#000" stroke="#000" stroke-width="0.28" >+5.0 V</text>
<line x1="59.90" y1="404.00" x2="89.40" y2="404.00" stroke="#cfcfcf" stroke-width="1.2" />
<text x="93.20" y="408.90" font-size="13.5" text-anchor="start" font-weight="bold" fill="#000" stroke="#000" stroke-width="0.28" >All</text>
<line x1="59.90" y1="424.50" x2="89.40" y2="424.50" stroke="#ff1010" stroke-width="1.4" />
<circle cx="74.6" cy="424.5" r="1.7" fill="#ff1010"/>
<text x="93.60" y="429.40" font-size="13.5" text-anchor="start" font-weight="bold" fill="#000" stroke="#000" stroke-width="0.28" >1</text>
<text x="100.60" y="421.30" font-size="7.5" text-anchor="start" font-weight="bold" fill="#000" stroke="#000" stroke-width="0.18" >st</text>
<line x1="59.90" y1="444.40" x2="89.40" y2="444.40" stroke="#1010f0" stroke-width="1.4" />
<circle cx="74.6" cy="444.4" r="1.7" fill="#1010f0"/>
<text x="93.60" y="449.20" font-size="13" text-anchor="start" font-weight="bold" fill="#000" stroke="#000" stroke-width="0.28" >10000</text>
<text x="130.00" y="441.60" font-size="7.5" text-anchor="start" font-weight="bold" fill="#000" stroke="#000" stroke-width="0.18" >th</text>
<polyline points="374.20,303.00 374.20,304.27 374.21,306.00 374.23,308.06 374.23,310.33 374.22,312.69 374.20,315.00 374.16,317.34 374.11,319.81 374.05,322.38 373.98,324.96 373.89,327.52 373.80,330.00 373.71,332.46 373.63,334.96 373.53,337.44 373.41,339.81 373.24,342.03 373.00,344.00 372.69,345.68 372.31,347.11 371.89,348.38 371.43,349.56 370.97,350.74 370.50,352.00 370.01,353.31 369.46,354.59 368.91,355.88 368.37,357.19 367.89,358.55 367.50,360.00 367.19,361.57 366.94,363.26 366.74,365.00 366.60,366.74 366.52,368.43 366.50,370.00 366.58,371.45 366.76,372.81 367.00,374.12 367.25,375.41 367.47,376.69 367.60,378.00 367.66,379.32 367.69,380.63 367.69,381.94 367.64,383.26 367.55,384.61 367.40,386.00 367.18,387.37 366.88,388.70 366.53,390.06 366.17,391.52 365.81,393.14 365.50,395.00 365.22,397.09 364.95,399.37 364.69,401.81 364.45,404.41 364.22,407.14 364.00,410.00 363.80,413.02 363.61,416.22 363.43,419.56 363.27,423.00 363.13,426.49 363.00,430.00 362.89,433.81 362.81,438.00 362.74,442.25 362.68,446.22 362.64,449.58 362.60,452.00" fill="none" stroke="#1414f5" stroke-width="4.4" stroke-linejoin="round" stroke-linecap="round" stroke-linecap="butt"/>
<rect x="376.70" y="294.50" width="5.6" height="5.6" fill="#fff" stroke="#1414f5" stroke-width="1.0"/>
<rect x="376.70" y="298.80" width="5.6" height="5.6" fill="#fff" stroke="#1414f5" stroke-width="1.0"/>
<rect x="376.7" y="298.6" width="5.6" height="1.8" fill="#1414f5" opacity="0.5"/>
<rect x="361.20" y="449.30" width="6.0" height="6.0" fill="#fff" stroke="#1414f5" stroke-width="1.0"/>
<polyline points="369.80,298.00 369.77,299.33 369.73,301.19 369.68,303.38 369.63,305.70 369.57,307.98 369.50,310.00 369.43,311.78 369.35,313.48 369.27,315.12 369.18,316.74 369.09,318.36 369.00,320.00 368.91,321.61 368.81,323.15 368.71,324.69 368.60,326.30 368.50,328.04 368.40,330.00 368.30,332.21 368.21,334.63 368.11,337.19 368.01,339.81 367.91,342.44 367.80,345.00 367.69,347.53 367.57,350.11 367.46,352.69 367.33,355.22 367.18,357.67 367.00,360.00 366.79,362.16 366.54,364.19 366.27,366.12 366.00,368.04 365.74,369.98 365.50,372.00 365.28,374.14 365.07,376.37 364.88,378.62 364.68,380.85 364.49,383.00 364.30,385.00 364.10,386.78 363.90,388.37 363.70,389.88 363.51,391.41 363.34,393.08 363.20,395.00 363.09,397.15 363.01,399.44 362.96,401.88 362.91,404.44 362.86,407.15 362.80,410.00 362.73,413.03 362.66,416.26 362.59,419.62 362.52,423.07 362.46,426.55 362.40,430.00 362.35,433.69 362.31,437.70 362.27,441.75 362.24,445.52 362.22,448.70 362.20,451.00" fill="none" stroke="#ff1414" stroke-width="7.6" stroke-linejoin="round" stroke-linecap="round" stroke-linecap="butt"/>
<polygon points="366.70,288.70 373.90,288.70 370.30,293.70" fill="#fff" stroke="#ff1414" stroke-width="1.0"/>
<polygon points="366.70,291.70 373.90,291.70 370.30,296.70" fill="#fff" stroke="#ff1414" stroke-width="1.0"/>
<polygon points="366.70,294.70 373.90,294.70 370.30,299.70" fill="#fff" stroke="#ff1414" stroke-width="1.0"/>
<rect x="367.2" y="298" width="6.4" height="6" fill="#ff1414" opacity="0.85"/>
<polygon points="358.30,450.30 364.90,450.30 361.60,455.30" fill="#fff" stroke="#ff1414" stroke-width="1.0"/>
<polyline points="492.80,302.00 492.76,302.76 492.72,303.81 492.66,305.06 492.59,306.41 492.51,307.75 492.40,309.00 492.27,310.19 492.10,311.41 491.92,312.62 491.74,313.81 491.56,314.95 491.40,316.00 491.27,316.95 491.17,317.81 491.07,318.62 490.96,319.41 490.81,320.19 490.60,321.00 490.33,321.84 490.01,322.69 489.65,323.53 489.27,324.37 488.88,325.20 488.50,326.00 488.14,326.76 487.81,327.49 487.46,328.19 487.08,328.91 486.64,329.67 486.10,330.50 485.42,331.43 484.61,332.45 483.73,333.51 482.86,334.55 482.06,335.53 481.40,336.40 480.89,337.12 480.49,337.72 480.15,338.26 479.86,338.78 479.59,339.35 479.30,340.00 479.02,340.75 478.77,341.56 478.53,342.41 478.30,343.28 478.06,344.15 477.80,345.00 477.55,345.78 477.33,346.48 477.11,347.19 476.83,347.96 476.48,348.88 476.00,350.00 475.37,351.38 474.61,352.96 473.77,354.69 472.89,356.48 472.02,358.28 471.20,360.00 470.42,361.67 469.64,363.33 468.88,365.00 468.12,366.67 467.39,368.33 466.70,370.00 466.05,371.67 465.43,373.33 464.84,375.00 464.27,376.67 463.69,378.33 463.10,380.00 462.50,381.69 461.90,383.41 461.29,385.12 460.69,386.81 460.09,388.45 459.50,390.00 458.90,391.46 458.29,392.85 457.69,394.19 457.10,395.48 456.53,396.75 456.00,398.00 455.52,399.25 455.09,400.48 454.69,401.69 454.29,402.85 453.86,403.96 453.40,405.00 452.87,405.89 452.30,406.63 451.71,407.31 451.12,408.04 450.58,408.90 450.10,410.00 449.70,411.38 449.34,412.96 449.02,414.69 448.74,416.48 448.47,418.28 448.20,420.00 447.95,421.67 447.72,423.33 447.51,425.00 447.31,426.67 447.11,428.33 446.90,430.00 446.69,431.68 446.49,433.39 446.28,435.09 446.07,436.78 445.85,438.42 445.60,440.00 445.31,441.60 444.97,443.26 444.62,444.88 444.29,446.35 444.00,447.59 443.80,448.50" fill="none" stroke="#1414f5" stroke-width="7.4" stroke-linejoin="round" stroke-linecap="round" stroke-linecap="butt"/>
<rect x="489.80" y="292.40" width="6.4" height="6.4" fill="#fff" stroke="#1414f5" stroke-width="1.0"/>
<rect x="489.80" y="297.00" width="6.4" height="6.4" fill="#fff" stroke="#1414f5" stroke-width="1.0"/>
<rect x="490" y="301.6" width="6" height="2.5" fill="#1414f5" opacity="0.5"/>
<rect x="441.00" y="446.60" width="5.2" height="5.2" fill="#1414f5" stroke="#1414f5" stroke-width="1.0"/>
<polyline points="505.50,307.00 505.29,307.82 505.01,308.93 504.67,310.25 504.29,311.74 503.90,313.34 503.50,315.00 503.09,316.80 502.65,318.80 502.19,320.91 501.73,323.04 501.26,325.10 500.80,327.00 500.34,328.78 499.87,330.54 499.40,332.23 498.94,333.79 498.50,335.20 498.10,336.40 497.73,337.32 497.37,337.98 497.04,338.47 496.74,338.91 496.46,339.39 496.20,340.00 496.00,340.75 495.86,341.56 495.75,342.41 495.63,343.28 495.45,344.15 495.20,345.00 494.88,345.78 494.51,346.48 494.11,347.19 493.64,347.96 493.11,348.88 492.50,350.00 491.80,351.38 491.00,352.96 490.14,354.69 489.23,356.48 488.31,358.28 487.40,360.00 486.45,361.67 485.44,363.33 484.42,365.00 483.42,366.67 482.50,368.33 481.70,370.00 481.04,371.67 480.48,373.33 479.99,375.00 479.56,376.67 479.13,378.33 478.70,380.00 478.26,381.67 477.84,383.33 477.44,385.00 477.06,386.67 476.68,388.33 476.30,390.00 475.93,391.67 475.56,393.33 475.21,395.00 474.86,396.67 474.52,398.33 474.20,400.00 473.89,401.67 473.58,403.33 473.29,405.00 473.01,406.67 472.74,408.33 472.50,410.00 472.28,411.67 472.08,413.33 471.89,415.00 471.72,416.67 471.56,418.33 471.40,420.00 471.26,421.63 471.15,423.22 471.04,424.81 470.93,426.44 470.79,428.16 470.60,430.00 470.36,432.06 470.09,434.33 469.79,436.69 469.47,439.00 469.14,441.15 468.80,443.00 468.42,444.59 467.99,446.04 467.54,447.31 467.11,448.41 466.76,449.31 466.50,450.00" fill="none" stroke="#ff1414" stroke-width="7.2" stroke-linejoin="round" stroke-linecap="round" stroke-linecap="butt"/>
<polygon points="504.00,297.00 511.40,297.00 507.70,302.20" fill="#fff" stroke="#ff1414" stroke-width="1.0"/>
<polygon points="502.70,300.70 509.70,300.70 506.20,305.70" fill="#fff" stroke="#ff1414" stroke-width="1.0"/>
<polygon points="502.5,303 509.8,303 507,312 502,310" fill="#ff1414" opacity="0.9"/>
<polygon points="460.90,450.00 467.50,450.00 464.20,455.00" fill="#fff" stroke="#ff1414" stroke-width="1.0"/>
<polygon points="462.20,446.00 468.80,446.00 465.50,451.00" fill="#fff" stroke="#ff1414" stroke-width="1.0"/>
<ellipse cx="365.7" cy="361" rx="11.5" ry="4.9" fill="none" stroke="#000" stroke-width="1.1"/>
<ellipse cx="476.3" cy="361.5" rx="27" ry="4.6" fill="none" stroke="#000" stroke-width="1.1"/>
<line x1="377.80" y1="358.60" x2="385.21" y2="346.72" stroke="#000" stroke-width="1.0" />
<polygon points="386.90,344.00 386.38,348.62 382.98,346.51" fill="#000" />
<line x1="449.40" y1="361.80" x2="442.55" y2="349.40" stroke="#000" stroke-width="1.0" />
<polygon points="441.00,346.60 444.78,349.31 441.28,351.24" fill="#000" />
<text x="385.20" y="339.70" font-size="9.6" text-anchor="start" font-weight="bold" fill="#000" stroke="#000" stroke-width="0.22" >LRS</text>
<text x="425.20" y="341.30" font-size="9.6" text-anchor="start" font-weight="bold" fill="#000" stroke="#000" stroke-width="0.22" >HRS</text>
<text x="407.60" y="276.60" font-size="12" text-anchor="start" font-weight="normal" fill="#000" >V</text>
<text x="415.40" y="281.00" font-size="7.6" text-anchor="start" font-weight="normal" fill="#000" >read</text>
<line x1="407.90" y1="290.80" x2="434.10" y2="290.80" stroke="#1414f5" stroke-width="1.6" />
<rect x="417.80" y="287.60" width="6.4" height="6.4" fill="#fff" stroke="#1414f5" stroke-width="1.0"/>
<text x="437.60" y="294.70" font-size="12" text-anchor="start" font-weight="bold" fill="#000" stroke="#000" stroke-width="0.28" >+1 V</text>
<line x1="407.90" y1="305.00" x2="434.10" y2="305.00" stroke="#ff1414" stroke-width="1.6" />
<polygon points="417.80,302.20 425.20,302.20 421.50,308.20" fill="#fff" stroke="#ff1414" stroke-width="1.0"/>
<text x="437.60" y="308.80" font-size="12" text-anchor="start" font-weight="bold" fill="#000" stroke="#000" stroke-width="0.28" >- 1 V</text></svg></body></html>
